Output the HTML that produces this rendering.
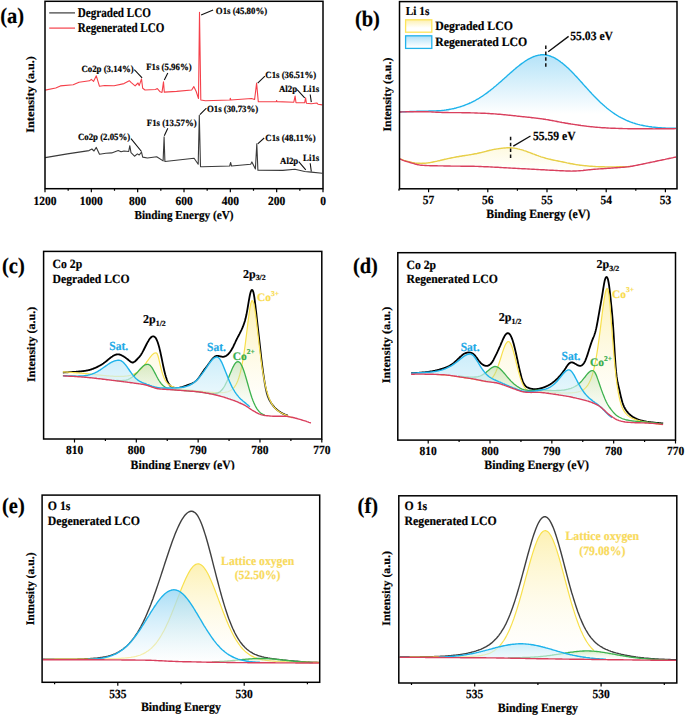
<!DOCTYPE html>
<html><head><meta charset="utf-8"><style>html,body{margin:0;padding:0;background:#fff;width:685px;height:715px;overflow:hidden}svg{display:block} text{text-rendering:geometricPrecision}</style></head>
<body><svg width="685" height="715" viewBox="0 0 685 715"><defs>
<linearGradient id="gb" x1="0" y1="0" x2="0" y2="1"><stop offset="0" stop-color="#bfe9f9" stop-opacity="0.8"/><stop offset="1" stop-color="#e6f7fb" stop-opacity="0.55"/></linearGradient>
<linearGradient id="gb2" x1="0" y1="0" x2="0" y2="1"><stop offset="0" stop-color="#95d6f4" stop-opacity="0.8"/><stop offset="1" stop-color="#ffffff" stop-opacity="0.5"/></linearGradient>
<linearGradient id="gy" x1="0" y1="0" x2="0" y2="1"><stop offset="0" stop-color="#fbe677" stop-opacity="0.55"/><stop offset="1" stop-color="#ffffff" stop-opacity="0.15"/></linearGradient>
<linearGradient id="gg" x1="0" y1="0" x2="0" y2="1"><stop offset="0" stop-color="#a9d48e" stop-opacity="0.5"/><stop offset="1" stop-color="#ffffff" stop-opacity="0.15"/></linearGradient>
<linearGradient id="lgb2" x1="0" y1="0" x2="0" y2="1"><stop offset="0" stop-color="#b5e3f8"/><stop offset="0.8" stop-color="#ffffff"/></linearGradient>
<linearGradient id="lgy2" x1="0" y1="0" x2="0" y2="1"><stop offset="0" stop-color="#fefae0"/><stop offset="1" stop-color="#ffffff"/></linearGradient>
<linearGradient id="lgy" x1="0" y1="0" x2="0" y2="1"><stop offset="0" stop-color="#fdf0b0"/><stop offset="0.65" stop-color="#ffffff"/></linearGradient>
<linearGradient id="lgb" x1="0" y1="0" x2="0" y2="1"><stop offset="0" stop-color="#addff8"/><stop offset="0.9" stop-color="#ffffff"/></linearGradient>
</defs>
<path d="M45.2,157.6 L67.4,153.9 L89.0,150.6 L91.9,149.0 L94.0,151.0 L96.3,147.4 L99.5,154.2 L105.9,153.3 L111.7,152.9 L118.2,150.6 L121.1,151.8 L124.0,151.0 L128.7,151.5 L129.8,145.7 L131.0,152.7 L134.5,156.2 L137.4,153.9 L139.2,155.0 L141.5,152.1 L142.7,157.1 L147.4,158.0 L156.7,156.8 L163.1,160.9 L164.1,136.9 L164.9,161.5 L194.1,158.3 L198.2,164.2 L199.3,115.2 L200.5,166.6 L202.8,166.8 L229.7,166.0 L230.6,162.5 L231.5,166.0 L250.7,164.2 L251.9,161.9 L255.4,168.9 L256.8,143.8 L257.9,170.2 L282.8,170.4 L294.9,169.3 L304.7,171.5 L311.3,172.1 L322.3,173.2" stroke="#3a3a3a" stroke-width="1.1" fill="none" stroke-linejoin="round"/>
<path d="M45.2,90.1 L55.7,88.0 L60.4,85.9 L73.2,84.8 L79.0,82.2 L89.5,80.8 L91.3,79.3 L93.6,81.3 L96.3,75.8 L99.5,86.3 L104.7,85.5 L114.1,85.7 L124.0,83.6 L129.3,80.7 L131.0,82.4 L135.1,85.9 L138.0,83.0 L139.2,85.6 L141.5,78.9 L142.7,88.3 L145.0,90.0 L155.5,89.5 L157.3,88.6 L160.2,91.8 L162.0,92.4 L163.5,81.9 L164.3,92.1 L176.6,91.4 L191.7,90.0 L193.8,86.6 L196.2,91.5 L198.5,98.5 L199.5,12.3 L200.8,100.0 L205.4,100.8 L230.0,100.0 L230.3,98.2 L230.8,100.0 L251.5,98.5 L254.6,99.5 L256.6,83.1 L258.3,101.8 L276.3,101.6 L276.6,100.5 L277.0,101.6 L293.8,102.2 L295.1,96.1 L296.0,102.7 L304.7,102.7 L305.6,97.8 L306.4,103.2 L311.3,103.8 L316.8,103.0 L318.0,104.2 L322.3,104.9" stroke="#f5404a" stroke-width="1.1" fill="none" stroke-linejoin="round"/>
<path d="M49.2,12.9H75" stroke="#3a3a3a" stroke-width="1.2"/>
<path d="M49.2,28.1H75" stroke="#f5404a" stroke-width="1.2"/>
<text transform="translate(77.80,16.70) scale(0.8333,1)" x="0" y="0" font-family="Liberation Serif" font-weight="bold" font-size="13.32" text-anchor="start" fill="#000" stroke="#000" stroke-width="0.2" >Degraded LCO</text>
<text transform="translate(77.80,31.90) scale(0.8333,1)" x="0" y="0" font-family="Liberation Serif" font-weight="bold" font-size="13.32" text-anchor="start" fill="#000" stroke="#000" stroke-width="0.2" >Regenerated LCO</text>
<path d="M134.3,69.6L142.1,77.8M167.8,73.1L164.3,80.1M201.1,15.1L213.1,10M257.7,83.1L264.9,76.2M297.1,89.6L304.7,97.8M310.2,94.5L311.3,102.2M131,138.7L141.5,151.5M167.8,128.2L164.3,135.8M199.9,114.6L206.4,108.2M257.7,143.8L264.2,138M298.7,161.7L305.8,169.9M310.2,163.3L311.3,171.5" stroke="#111" stroke-width="1.1" fill="none"/>
<text transform="translate(81.40,71.70) scale(0.9259,1)" x="0" y="0" font-family="Liberation Serif" font-weight="bold" font-size="9.50" text-anchor="start" fill="#000" stroke="#000" stroke-width="0.2" >Co2p (3.14%)</text>
<text transform="translate(146.20,70.40) scale(0.9259,1)" x="0" y="0" font-family="Liberation Serif" font-weight="bold" font-size="9.50" text-anchor="start" fill="#000" stroke="#000" stroke-width="0.2" >F1s (5.96%)</text>
<text transform="translate(215.80,13.50) scale(0.9259,1)" x="0" y="0" font-family="Liberation Serif" font-weight="bold" font-size="9.50" text-anchor="start" fill="#000" stroke="#000" stroke-width="0.2" >O1s (45.80%)</text>
<text transform="translate(265.30,77.70) scale(0.9259,1)" x="0" y="0" font-family="Liberation Serif" font-weight="bold" font-size="9.50" text-anchor="start" fill="#000" stroke="#000" stroke-width="0.2" >C1s (36.51%)</text>
<text transform="translate(279.00,92.30) scale(0.9259,1)" x="0" y="0" font-family="Liberation Serif" font-weight="bold" font-size="9.50" text-anchor="start" fill="#000" stroke="#000" stroke-width="0.2" >Al2p</text>
<text transform="translate(303.10,92.30) scale(0.9259,1)" x="0" y="0" font-family="Liberation Serif" font-weight="bold" font-size="9.50" text-anchor="start" fill="#000" stroke="#000" stroke-width="0.2" >Li1s</text>
<text transform="translate(77.90,140.40) scale(0.9259,1)" x="0" y="0" font-family="Liberation Serif" font-weight="bold" font-size="9.50" text-anchor="start" fill="#000" stroke="#000" stroke-width="0.2" >Co2p (2.05%)</text>
<text transform="translate(146.80,125.60) scale(0.9259,1)" x="0" y="0" font-family="Liberation Serif" font-weight="bold" font-size="9.50" text-anchor="start" fill="#000" stroke="#000" stroke-width="0.2" >F1s (13.57%)</text>
<text transform="translate(206.90,111.70) scale(0.9259,1)" x="0" y="0" font-family="Liberation Serif" font-weight="bold" font-size="9.50" text-anchor="start" fill="#000" stroke="#000" stroke-width="0.2" >O1s (30.73%)</text>
<text transform="translate(265.30,141.40) scale(0.9259,1)" x="0" y="0" font-family="Liberation Serif" font-weight="bold" font-size="9.50" text-anchor="start" fill="#000" stroke="#000" stroke-width="0.2" >C1s (48.11%)</text>
<text transform="translate(280.10,163.90) scale(0.9259,1)" x="0" y="0" font-family="Liberation Serif" font-weight="bold" font-size="9.50" text-anchor="start" fill="#000" stroke="#000" stroke-width="0.2" >Al2p</text>
<text transform="translate(303.10,160.60) scale(0.9259,1)" x="0" y="0" font-family="Liberation Serif" font-weight="bold" font-size="9.50" text-anchor="start" fill="#000" stroke="#000" stroke-width="0.2" >Li1s</text>
<rect x="45.00" y="1.30" width="278.00" height="187.40" fill="none" stroke="#000" stroke-width="1.5"/>
<path d="M323.00,188.70v3.5M276.67,188.70v3.5M230.33,188.70v3.5M184.00,188.70v3.5M137.67,188.70v3.5M91.33,188.70v3.5M45.00,188.70v3.5" stroke="#000" stroke-width="1.2" fill="none"/>
<path d="M299.83,188.70v2M253.50,188.70v2M207.17,188.70v2M160.83,188.70v2M114.50,188.70v2M68.17,188.70v2" stroke="#000" stroke-width="1.2" fill="none"/>
<text transform="translate(323.00,205.20) scale(0.9259,1)" x="0" y="0" font-family="Liberation Serif" font-weight="bold" font-size="12.42" text-anchor="middle" fill="#000" stroke="#000" stroke-width="0.2" >0</text>
<text transform="translate(276.67,205.20) scale(0.9259,1)" x="0" y="0" font-family="Liberation Serif" font-weight="bold" font-size="12.42" text-anchor="middle" fill="#000" stroke="#000" stroke-width="0.2" >200</text>
<text transform="translate(230.33,205.20) scale(0.9259,1)" x="0" y="0" font-family="Liberation Serif" font-weight="bold" font-size="12.42" text-anchor="middle" fill="#000" stroke="#000" stroke-width="0.2" >400</text>
<text transform="translate(184.00,205.20) scale(0.9259,1)" x="0" y="0" font-family="Liberation Serif" font-weight="bold" font-size="12.42" text-anchor="middle" fill="#000" stroke="#000" stroke-width="0.2" >600</text>
<text transform="translate(137.67,205.20) scale(0.9259,1)" x="0" y="0" font-family="Liberation Serif" font-weight="bold" font-size="12.42" text-anchor="middle" fill="#000" stroke="#000" stroke-width="0.2" >800</text>
<text transform="translate(91.33,205.20) scale(0.9259,1)" x="0" y="0" font-family="Liberation Serif" font-weight="bold" font-size="12.42" text-anchor="middle" fill="#000" stroke="#000" stroke-width="0.2" >1000</text>
<text transform="translate(45.00,205.20) scale(0.9259,1)" x="0" y="0" font-family="Liberation Serif" font-weight="bold" font-size="12.42" text-anchor="middle" fill="#000" stroke="#000" stroke-width="0.2" >1200</text>
<text transform="translate(184.00,218.80) scale(0.9259,1)" x="0" y="0" font-family="Liberation Serif" font-weight="bold" font-size="12.10" text-anchor="middle" fill="#000" stroke="#000" stroke-width="0.2" >Binding Energy (eV)</text>
<text transform="translate(33.60,94.40) rotate(-90) scale(1.0670,1)" x="0" y="0" font-family="Liberation Serif" font-weight="bold" font-size="11.50" text-anchor="middle" stroke="#000" stroke-width="0.2">Intensity (a.u.)</text>
<text transform="translate(0.30,22.80) scale(0.9259,1)" x="0" y="0" font-family="Liberation Serif" font-weight="bold" font-size="22.14" text-anchor="start" fill="#000" stroke="#000" stroke-width="0.2" >(a)</text>
<path d="M400.0,158.9 L401.0,159.2 L402.0,159.6 L403.0,159.9 L404.0,160.3 L405.0,160.6 L406.0,160.9 L407.0,161.2 L408.0,161.5 L409.0,161.8 L410.0,162.0 L411.0,162.2 L412.0,162.5 L413.0,162.6 L414.0,162.8 L415.0,163.0 L416.0,163.1 L417.0,163.2 L418.0,163.3 L419.0,163.3 L420.0,163.3 L421.0,163.4 L422.0,163.3 L423.0,163.3 L424.0,163.3 L425.0,163.2 L426.0,163.1 L427.0,163.0 L428.0,162.9 L429.0,162.7 L430.0,162.6 L431.0,162.4 L432.0,162.2 L433.0,162.0 L434.0,161.8 L435.0,161.6 L436.0,161.4 L437.0,161.2 L438.0,160.9 L439.0,160.7 L440.0,160.5 L441.0,160.2 L442.0,160.0 L443.0,159.8 L444.0,159.5 L445.0,159.3 L446.0,159.1 L447.0,158.8 L448.0,158.6 L449.0,158.4 L450.0,158.2 L451.0,158.0 L452.0,157.8 L453.0,157.6 L454.0,157.4 L455.0,157.2 L456.0,157.0 L457.0,156.8 L458.0,156.7 L459.0,156.5 L460.0,156.3 L461.0,156.2 L462.0,156.0 L463.0,155.8 L464.0,155.7 L465.0,155.5 L466.0,155.4 L467.0,155.2 L468.0,155.1 L469.0,154.9 L470.0,154.7 L471.0,154.6 L472.0,154.4 L473.0,154.2 L474.0,154.0 L475.0,153.8 L476.0,153.7 L477.0,153.5 L478.0,153.2 L479.0,153.0 L480.0,152.8 L481.0,152.6 L482.0,152.3 L483.0,152.1 L484.0,151.8 L485.0,151.6 L486.0,151.3 L487.0,151.0 L488.0,150.8 L489.0,150.5 L490.0,150.3 L491.0,150.1 L492.0,149.8 L493.0,149.6 L494.0,149.4 L495.0,149.2 L496.0,149.1 L497.0,148.9 L498.0,148.8 L499.0,148.6 L500.0,148.5 L501.0,148.4 L502.0,148.2 L503.0,148.1 L504.0,148.0 L505.0,148.0 L506.0,147.9 L507.0,147.8 L508.0,147.8 L509.0,147.8 L510.0,147.8 L511.0,147.8 L512.0,147.9 L513.0,148.0 L514.0,148.1 L515.0,148.3 L516.0,148.4 L517.0,148.6 L518.0,148.9 L519.0,149.1 L520.0,149.4 L521.0,149.6 L522.0,149.9 L523.0,150.2 L524.0,150.6 L525.0,150.9 L526.0,151.2 L527.0,151.6 L528.0,152.0 L529.0,152.3 L530.0,152.7 L531.0,153.1 L532.0,153.5 L533.0,153.9 L534.0,154.2 L535.0,154.6 L536.0,155.0 L537.0,155.4 L538.0,155.7 L539.0,156.1 L540.0,156.4 L541.0,156.8 L542.0,157.1 L543.0,157.4 L544.0,157.7 L545.0,158.0 L546.0,158.3 L547.0,158.6 L548.0,158.8 L549.0,159.1 L550.0,159.3 L551.0,159.5 L552.0,159.8 L553.0,160.0 L554.0,160.2 L555.0,160.4 L556.0,160.6 L557.0,160.8 L558.0,161.0 L559.0,161.2 L560.0,161.4 L561.0,161.6 L562.0,161.8 L563.0,162.0 L564.0,162.2 L565.0,162.4 L566.0,162.6 L567.0,162.9 L568.0,163.1 L569.0,163.3 L570.0,163.5 L571.0,163.7 L572.0,163.8 L573.0,164.0 L574.0,164.2 L575.0,164.4 L576.0,164.6 L577.0,164.7 L578.0,164.9 L579.0,165.0 L580.0,165.2 L581.0,165.3 L582.0,165.4 L583.0,165.5 L584.0,165.6 L585.0,165.7 L586.0,165.8 L587.0,165.9 L588.0,166.0 L589.0,166.1 L590.0,166.2 L591.0,166.3 L592.0,166.3 L593.0,166.4 L594.0,166.4 L595.0,166.5 L596.0,166.6 L597.0,166.6 L598.0,166.6 L599.0,166.7 L600.0,166.7 L601.0,166.8 L602.0,166.8 L603.0,166.8 L604.0,166.8 L605.0,166.9 L606.0,166.9 L607.0,166.9 L608.0,166.9 L609.0,166.9 L610.0,166.9 L611.0,166.9 L612.0,166.9 L613.0,166.9 L614.0,166.9 L615.0,166.9 L616.0,166.9 L617.0,166.8 L618.0,166.8 L619.0,166.8 L620.0,166.8 L621.0,166.8 L622.0,166.7 L623.0,166.7 L624.0,166.7 L625.0,166.7 L626.0,166.6 L627.0,166.6 L628.0,166.6 L629.0,166.5 L630.0,166.5 L630.0,166.5 L629.0,166.6 L628.0,166.8 L627.0,166.9 L626.0,167.0 L625.0,167.1 L624.0,167.2 L623.0,167.3 L622.0,167.4 L621.0,167.4 L620.0,167.5 L619.0,167.6 L618.0,167.6 L617.0,167.7 L616.0,167.8 L615.0,167.8 L614.0,167.9 L613.0,168.0 L612.0,168.0 L611.0,168.1 L610.0,168.2 L609.0,168.3 L608.0,168.3 L607.0,168.4 L606.0,168.5 L605.0,168.5 L604.0,168.6 L603.0,168.7 L602.0,168.7 L601.0,168.8 L600.0,168.9 L599.0,168.9 L598.0,169.0 L597.0,169.1 L596.0,169.1 L595.0,169.2 L594.0,169.3 L593.0,169.4 L592.0,169.5 L591.0,169.6 L590.0,169.7 L589.0,169.8 L588.0,169.9 L587.0,170.0 L586.0,170.1 L585.0,170.2 L584.0,170.3 L583.0,170.5 L582.0,170.6 L581.0,170.6 L580.0,170.7 L579.0,170.8 L578.0,170.9 L577.0,170.9 L576.0,171.0 L575.0,171.0 L574.0,171.0 L573.0,171.0 L572.0,171.1 L571.0,171.1 L570.0,171.0 L569.0,171.0 L568.0,171.0 L567.0,171.0 L566.0,171.0 L565.0,170.9 L564.0,170.9 L563.0,170.8 L562.0,170.8 L561.0,170.8 L560.0,170.7 L559.0,170.6 L558.0,170.6 L557.0,170.5 L556.0,170.5 L555.0,170.4 L554.0,170.4 L553.0,170.3 L552.0,170.3 L551.0,170.2 L550.0,170.2 L549.0,170.1 L548.0,170.1 L547.0,170.0 L546.0,170.0 L545.0,169.9 L544.0,169.8 L543.0,169.8 L542.0,169.7 L541.0,169.7 L540.0,169.6 L539.0,169.6 L538.0,169.5 L537.0,169.5 L536.0,169.4 L535.0,169.4 L534.0,169.3 L533.0,169.3 L532.0,169.2 L531.0,169.1 L530.0,169.1 L529.0,169.0 L528.0,169.0 L527.0,168.9 L526.0,168.9 L525.0,168.8 L524.0,168.8 L523.0,168.7 L522.0,168.7 L521.0,168.6 L520.0,168.6 L519.0,168.5 L518.0,168.5 L517.0,168.4 L516.0,168.4 L515.0,168.3 L514.0,168.2 L513.0,168.2 L512.0,168.1 L511.0,168.1 L510.0,168.0 L509.0,168.0 L508.0,167.9 L507.0,167.9 L506.0,167.8 L505.0,167.7 L504.0,167.7 L503.0,167.6 L502.0,167.6 L501.0,167.5 L500.0,167.5 L499.0,167.4 L498.0,167.3 L497.0,167.3 L496.0,167.2 L495.0,167.2 L494.0,167.1 L493.0,167.1 L492.0,167.0 L491.0,167.0 L490.0,166.9 L489.0,166.9 L488.0,166.8 L487.0,166.8 L486.0,166.7 L485.0,166.7 L484.0,166.7 L483.0,166.6 L482.0,166.6 L481.0,166.5 L480.0,166.5 L479.0,166.5 L478.0,166.4 L477.0,166.4 L476.0,166.4 L475.0,166.4 L474.0,166.3 L473.0,166.3 L472.0,166.3 L471.0,166.3 L470.0,166.3 L469.0,166.2 L468.0,166.2 L467.0,166.2 L466.0,166.2 L465.0,166.2 L464.0,166.2 L463.0,166.2 L462.0,166.2 L461.0,166.2 L460.0,166.1 L459.0,166.1 L458.0,166.1 L457.0,166.1 L456.0,166.1 L455.0,166.1 L454.0,166.1 L453.0,166.1 L452.0,166.1 L451.0,166.1 L450.0,166.0 L449.0,166.0 L448.0,166.0 L447.0,166.0 L446.0,166.0 L445.0,166.0 L444.0,166.0 L443.0,165.9 L442.0,165.9 L441.0,165.9 L440.0,165.9 L439.0,165.9 L438.0,165.9 L437.0,165.8 L436.0,165.8 L435.0,165.8 L434.0,165.8 L433.0,165.8 L432.0,165.7 L431.0,165.7 L430.0,165.7 L429.0,165.6 L428.0,165.6 L427.0,165.6 L426.0,165.5 L425.0,165.5 L424.0,165.4 L423.0,165.4 L422.0,165.3 L421.0,165.2 L420.0,165.1 L419.0,164.9 L418.0,164.7 L417.0,164.5 L416.0,164.2 L415.0,164.0 L414.0,163.7 L413.0,163.4 L412.0,163.1 L411.0,162.8 L410.0,162.5 L409.0,162.2 L408.0,161.9 L407.0,161.6 L406.0,161.3 L405.0,161.0 L404.0,160.7 L403.0,160.3 L402.0,159.8 L401.0,159.4 L400.0,158.9Z" fill="url(#lgy2)" fill-opacity="1.0" stroke="none"/>
<path d="M400.0,111.9 L401.0,111.8 L402.0,111.8 L403.0,111.8 L404.0,111.7 L405.0,111.7 L406.0,111.7 L407.0,111.6 L408.0,111.6 L409.0,111.6 L410.0,111.5 L411.0,111.5 L412.0,111.5 L413.0,111.5 L414.0,111.4 L415.0,111.4 L416.0,111.4 L417.0,111.3 L418.0,111.3 L419.0,111.3 L420.0,111.3 L421.0,111.2 L422.0,111.2 L423.0,111.2 L424.0,111.2 L425.0,111.1 L426.0,111.1 L427.0,111.1 L428.0,111.1 L429.0,111.0 L430.0,111.0 L431.0,111.0 L432.0,110.9 L433.0,110.9 L434.0,110.9 L435.0,110.9 L436.0,110.9 L437.0,110.8 L438.0,110.8 L439.0,110.7 L440.0,110.7 L441.0,110.6 L442.0,110.5 L443.0,110.4 L444.0,110.3 L445.0,110.1 L446.0,110.0 L447.0,109.8 L448.0,109.7 L449.0,109.5 L450.0,109.3 L451.0,109.1 L452.0,108.9 L453.0,108.7 L454.0,108.5 L455.0,108.2 L456.0,108.0 L457.0,107.7 L458.0,107.4 L459.0,107.1 L460.0,106.8 L461.0,106.5 L462.0,106.2 L463.0,105.8 L464.0,105.5 L465.0,105.1 L466.0,104.7 L467.0,104.3 L468.0,103.9 L469.0,103.5 L470.0,103.0 L471.0,102.6 L472.0,102.1 L473.0,101.6 L474.0,101.1 L475.0,100.6 L476.0,100.0 L477.0,99.4 L478.0,98.9 L479.0,98.3 L480.0,97.6 L481.0,97.0 L482.0,96.4 L483.0,95.7 L484.0,95.0 L485.0,94.3 L486.0,93.6 L487.0,92.9 L488.0,92.1 L489.0,91.3 L490.0,90.6 L491.0,89.8 L492.0,89.0 L493.0,88.2 L494.0,87.3 L495.0,86.5 L496.0,85.7 L497.0,84.8 L498.0,84.0 L499.0,83.1 L500.0,82.2 L501.0,81.4 L502.0,80.5 L503.0,79.6 L504.0,78.7 L505.0,77.8 L506.0,76.9 L507.0,76.0 L508.0,75.1 L509.0,74.2 L510.0,73.3 L511.0,72.4 L512.0,71.6 L513.0,70.7 L514.0,69.8 L515.0,69.0 L516.0,68.1 L517.0,67.3 L518.0,66.5 L519.0,65.7 L520.0,64.9 L521.0,64.1 L522.0,63.4 L523.0,62.7 L524.0,62.0 L525.0,61.3 L526.0,60.6 L527.0,60.0 L528.0,59.4 L529.0,58.8 L530.0,58.3 L531.0,57.8 L532.0,57.3 L533.0,56.9 L534.0,56.5 L535.0,56.2 L536.0,55.8 L537.0,55.6 L538.0,55.3 L539.0,55.1 L540.0,55.0 L541.0,54.8 L542.0,54.8 L543.0,54.8 L544.0,54.8 L545.0,54.9 L546.0,55.0 L547.0,55.2 L548.0,55.4 L549.0,55.7 L550.0,56.0 L551.0,56.4 L552.0,56.8 L553.0,57.2 L554.0,57.7 L555.0,58.2 L556.0,58.8 L557.0,59.4 L558.0,60.0 L559.0,60.7 L560.0,61.4 L561.0,62.2 L562.0,62.9 L563.0,63.7 L564.0,64.6 L565.0,65.4 L566.0,66.3 L567.0,67.2 L568.0,68.1 L569.0,69.1 L570.0,70.1 L571.0,71.0 L572.0,72.0 L573.0,73.1 L574.0,74.1 L575.0,75.2 L576.0,76.2 L577.0,77.3 L578.0,78.4 L579.0,79.5 L580.0,80.6 L581.0,81.7 L582.0,82.8 L583.0,84.0 L584.0,85.1 L585.0,86.2 L586.0,87.3 L587.0,88.4 L588.0,89.5 L589.0,90.6 L590.0,91.7 L591.0,92.8 L592.0,93.9 L593.0,94.9 L594.0,96.0 L595.0,97.0 L596.0,98.0 L597.0,99.0 L598.0,100.0 L599.0,101.0 L600.0,102.0 L601.0,102.9 L602.0,103.8 L603.0,104.7 L604.0,105.6 L605.0,106.5 L606.0,107.3 L607.0,108.2 L608.0,109.0 L609.0,109.8 L610.0,110.5 L611.0,111.3 L612.0,112.0 L613.0,112.7 L614.0,113.4 L615.0,114.1 L616.0,114.7 L617.0,115.4 L618.0,116.0 L619.0,116.6 L620.0,117.1 L621.0,117.7 L622.0,118.2 L623.0,118.7 L624.0,119.2 L625.0,119.7 L626.0,120.2 L627.0,120.6 L628.0,121.0 L629.0,121.4 L630.0,121.8 L631.0,122.2 L632.0,122.5 L633.0,122.9 L634.0,123.2 L635.0,123.5 L636.0,123.8 L637.0,124.1 L638.0,124.4 L639.0,124.6 L640.0,124.9 L641.0,125.1 L642.0,125.3 L643.0,125.5 L644.0,125.7 L645.0,125.9 L646.0,126.1 L647.0,126.2 L648.0,126.4 L649.0,126.6 L650.0,126.7 L651.0,126.8 L652.0,127.0 L653.0,127.1 L654.0,127.2 L655.0,127.3 L656.0,127.4 L657.0,127.5 L658.0,127.6 L659.0,127.7 L660.0,127.7 L661.0,127.8 L662.0,127.9 L663.0,127.9 L664.0,128.0 L665.0,128.0 L666.0,128.1 L667.0,128.1 L668.0,128.1 L669.0,128.2 L670.0,128.2 L671.0,128.2 L672.0,128.2 L673.0,128.2 L674.0,128.2 L675.0,128.2 L676.0,128.3 L676.0,128.6 L675.0,128.6 L674.0,128.7 L673.0,128.7 L672.0,128.7 L671.0,128.7 L670.0,128.7 L669.0,128.8 L668.0,128.8 L667.0,128.8 L666.0,128.8 L665.0,128.8 L664.0,128.8 L663.0,128.8 L662.0,128.8 L661.0,128.8 L660.0,128.8 L659.0,128.8 L658.0,128.8 L657.0,128.8 L656.0,128.8 L655.0,128.9 L654.0,128.9 L653.0,128.9 L652.0,128.8 L651.0,128.8 L650.0,128.8 L649.0,128.8 L648.0,128.8 L647.0,128.8 L646.0,128.8 L645.0,128.8 L644.0,128.8 L643.0,128.8 L642.0,128.8 L641.0,128.8 L640.0,128.8 L639.0,128.8 L638.0,128.8 L637.0,128.8 L636.0,128.8 L635.0,128.8 L634.0,128.7 L633.0,128.7 L632.0,128.7 L631.0,128.7 L630.0,128.7 L629.0,128.7 L628.0,128.7 L627.0,128.6 L626.0,128.6 L625.0,128.6 L624.0,128.6 L623.0,128.6 L622.0,128.5 L621.0,128.5 L620.0,128.5 L619.0,128.5 L618.0,128.4 L617.0,128.4 L616.0,128.4 L615.0,128.3 L614.0,128.3 L613.0,128.2 L612.0,128.2 L611.0,128.2 L610.0,128.1 L609.0,128.1 L608.0,128.0 L607.0,128.0 L606.0,127.9 L605.0,127.8 L604.0,127.8 L603.0,127.7 L602.0,127.7 L601.0,127.6 L600.0,127.5 L599.0,127.4 L598.0,127.4 L597.0,127.3 L596.0,127.2 L595.0,127.1 L594.0,127.0 L593.0,126.9 L592.0,126.8 L591.0,126.7 L590.0,126.6 L589.0,126.5 L588.0,126.4 L587.0,126.3 L586.0,126.1 L585.0,126.0 L584.0,125.9 L583.0,125.7 L582.0,125.6 L581.0,125.5 L580.0,125.3 L579.0,125.2 L578.0,125.0 L577.0,124.9 L576.0,124.7 L575.0,124.6 L574.0,124.4 L573.0,124.3 L572.0,124.1 L571.0,124.0 L570.0,123.8 L569.0,123.7 L568.0,123.5 L567.0,123.3 L566.0,123.2 L565.0,123.0 L564.0,122.8 L563.0,122.6 L562.0,122.5 L561.0,122.3 L560.0,122.1 L559.0,121.9 L558.0,121.7 L557.0,121.5 L556.0,121.3 L555.0,121.1 L554.0,120.9 L553.0,120.7 L552.0,120.5 L551.0,120.4 L550.0,120.2 L549.0,120.0 L548.0,119.8 L547.0,119.6 L546.0,119.5 L545.0,119.3 L544.0,119.2 L543.0,119.0 L542.0,118.9 L541.0,118.7 L540.0,118.6 L539.0,118.5 L538.0,118.4 L537.0,118.2 L536.0,118.1 L535.0,118.0 L534.0,117.9 L533.0,117.8 L532.0,117.7 L531.0,117.5 L530.0,117.4 L529.0,117.3 L528.0,117.2 L527.0,117.1 L526.0,117.0 L525.0,116.9 L524.0,116.8 L523.0,116.7 L522.0,116.6 L521.0,116.5 L520.0,116.4 L519.0,116.3 L518.0,116.2 L517.0,116.1 L516.0,115.9 L515.0,115.8 L514.0,115.7 L513.0,115.6 L512.0,115.5 L511.0,115.4 L510.0,115.3 L509.0,115.2 L508.0,115.1 L507.0,115.0 L506.0,114.9 L505.0,114.8 L504.0,114.7 L503.0,114.6 L502.0,114.5 L501.0,114.4 L500.0,114.3 L499.0,114.3 L498.0,114.2 L497.0,114.1 L496.0,114.0 L495.0,113.9 L494.0,113.9 L493.0,113.8 L492.0,113.7 L491.0,113.7 L490.0,113.6 L489.0,113.5 L488.0,113.5 L487.0,113.4 L486.0,113.4 L485.0,113.3 L484.0,113.3 L483.0,113.3 L482.0,113.2 L481.0,113.2 L480.0,113.1 L479.0,113.1 L478.0,113.1 L477.0,113.0 L476.0,113.0 L475.0,113.0 L474.0,112.9 L473.0,112.9 L472.0,112.9 L471.0,112.9 L470.0,112.8 L469.0,112.8 L468.0,112.8 L467.0,112.7 L466.0,112.7 L465.0,112.7 L464.0,112.7 L463.0,112.7 L462.0,112.7 L461.0,112.6 L460.0,112.6 L459.0,112.6 L458.0,112.6 L457.0,112.6 L456.0,112.6 L455.0,112.6 L454.0,112.6 L453.0,112.6 L452.0,112.6 L451.0,112.6 L450.0,112.6 L449.0,112.6 L448.0,112.5 L447.0,112.5 L446.0,112.5 L445.0,112.5 L444.0,112.5 L443.0,112.5 L442.0,112.5 L441.0,112.4 L440.0,112.4 L439.0,112.4 L438.0,112.3 L437.0,112.3 L436.0,112.2 L435.0,112.1 L434.0,112.1 L433.0,112.0 L432.0,112.0 L431.0,111.9 L430.0,111.9 L429.0,111.9 L428.0,111.8 L427.0,111.8 L426.0,111.8 L425.0,111.8 L424.0,111.8 L423.0,111.7 L422.0,111.7 L421.0,111.7 L420.0,111.7 L419.0,111.7 L418.0,111.7 L417.0,111.7 L416.0,111.7 L415.0,111.7 L414.0,111.7 L413.0,111.7 L412.0,111.7 L411.0,111.8 L410.0,111.8 L409.0,111.8 L408.0,111.8 L407.0,111.8 L406.0,111.8 L405.0,111.9 L404.0,111.9 L403.0,111.9 L402.0,111.9 L401.0,112.0 L400.0,112.0Z" fill="url(#lgb2)" fill-opacity="1.0" stroke="none"/>
<path d="M400.0,111.9 L401.0,111.8 L402.0,111.8 L403.0,111.8 L404.0,111.7 L405.0,111.7 L406.0,111.7 L407.0,111.6 L408.0,111.6 L409.0,111.6 L410.0,111.5 L411.0,111.5 L412.0,111.5 L413.0,111.5 L414.0,111.4 L415.0,111.4 L416.0,111.4 L417.0,111.3 L418.0,111.3 L419.0,111.3 L420.0,111.3 L421.0,111.2 L422.0,111.2 L423.0,111.2 L424.0,111.2 L425.0,111.1 L426.0,111.1 L427.0,111.1 L428.0,111.1 L429.0,111.0 L430.0,111.0 L431.0,111.0 L432.0,110.9 L433.0,110.9 L434.0,110.9 L435.0,110.9 L436.0,110.9 L437.0,110.8 L438.0,110.8 L439.0,110.7 L440.0,110.7 L441.0,110.6 L442.0,110.5 L443.0,110.4 L444.0,110.3 L445.0,110.1 L446.0,110.0 L447.0,109.8 L448.0,109.7 L449.0,109.5 L450.0,109.3 L451.0,109.1 L452.0,108.9 L453.0,108.7 L454.0,108.5 L455.0,108.2 L456.0,108.0 L457.0,107.7 L458.0,107.4 L459.0,107.1 L460.0,106.8 L461.0,106.5 L462.0,106.2 L463.0,105.8 L464.0,105.5 L465.0,105.1 L466.0,104.7 L467.0,104.3 L468.0,103.9 L469.0,103.5 L470.0,103.0 L471.0,102.6 L472.0,102.1 L473.0,101.6 L474.0,101.1 L475.0,100.6 L476.0,100.0 L477.0,99.4 L478.0,98.9 L479.0,98.3 L480.0,97.6 L481.0,97.0 L482.0,96.4 L483.0,95.7 L484.0,95.0 L485.0,94.3 L486.0,93.6 L487.0,92.9 L488.0,92.1 L489.0,91.3 L490.0,90.6 L491.0,89.8 L492.0,89.0 L493.0,88.2 L494.0,87.3 L495.0,86.5 L496.0,85.7 L497.0,84.8 L498.0,84.0 L499.0,83.1 L500.0,82.2 L501.0,81.4 L502.0,80.5 L503.0,79.6 L504.0,78.7 L505.0,77.8 L506.0,76.9 L507.0,76.0 L508.0,75.1 L509.0,74.2 L510.0,73.3 L511.0,72.4 L512.0,71.6 L513.0,70.7 L514.0,69.8 L515.0,69.0 L516.0,68.1 L517.0,67.3 L518.0,66.5 L519.0,65.7 L520.0,64.9 L521.0,64.1 L522.0,63.4 L523.0,62.7 L524.0,62.0 L525.0,61.3 L526.0,60.6 L527.0,60.0 L528.0,59.4 L529.0,58.8 L530.0,58.3 L531.0,57.8 L532.0,57.3 L533.0,56.9 L534.0,56.5 L535.0,56.2 L536.0,55.8 L537.0,55.6 L538.0,55.3 L539.0,55.1 L540.0,55.0 L541.0,54.8 L542.0,54.8 L543.0,54.8 L544.0,54.8 L545.0,54.9 L546.0,55.0 L547.0,55.2 L548.0,55.4 L549.0,55.7 L550.0,56.0 L551.0,56.4 L552.0,56.8 L553.0,57.2 L554.0,57.7 L555.0,58.2 L556.0,58.8 L557.0,59.4 L558.0,60.0 L559.0,60.7 L560.0,61.4 L561.0,62.2 L562.0,62.9 L563.0,63.7 L564.0,64.6 L565.0,65.4 L566.0,66.3 L567.0,67.2 L568.0,68.1 L569.0,69.1 L570.0,70.1 L571.0,71.0 L572.0,72.0 L573.0,73.1 L574.0,74.1 L575.0,75.2 L576.0,76.2 L577.0,77.3 L578.0,78.4 L579.0,79.5 L580.0,80.6 L581.0,81.7 L582.0,82.8 L583.0,84.0 L584.0,85.1 L585.0,86.2 L586.0,87.3 L587.0,88.4 L588.0,89.5 L589.0,90.6 L590.0,91.7 L591.0,92.8 L592.0,93.9 L593.0,94.9 L594.0,96.0 L595.0,97.0 L596.0,98.0 L597.0,99.0 L598.0,100.0 L599.0,101.0 L600.0,102.0 L601.0,102.9 L602.0,103.8 L603.0,104.7 L604.0,105.6 L605.0,106.5 L606.0,107.3 L607.0,108.2 L608.0,109.0 L609.0,109.8 L610.0,110.5 L611.0,111.3 L612.0,112.0 L613.0,112.7 L614.0,113.4 L615.0,114.1 L616.0,114.7 L617.0,115.4 L618.0,116.0 L619.0,116.6 L620.0,117.1 L621.0,117.7 L622.0,118.2 L623.0,118.7 L624.0,119.2 L625.0,119.7 L626.0,120.2 L627.0,120.6 L628.0,121.0 L629.0,121.4 L630.0,121.8 L631.0,122.2 L632.0,122.5 L633.0,122.9 L634.0,123.2 L635.0,123.5 L636.0,123.8 L637.0,124.1 L638.0,124.4 L639.0,124.6 L640.0,124.9 L641.0,125.1 L642.0,125.3 L643.0,125.5 L644.0,125.7 L645.0,125.9 L646.0,126.1 L647.0,126.2 L648.0,126.4 L649.0,126.6 L650.0,126.7 L651.0,126.8 L652.0,127.0 L653.0,127.1 L654.0,127.2 L655.0,127.3 L656.0,127.4 L657.0,127.5 L658.0,127.6 L659.0,127.7 L660.0,127.7 L661.0,127.8 L662.0,127.9 L663.0,127.9 L664.0,128.0 L665.0,128.0 L666.0,128.1 L667.0,128.1 L668.0,128.1 L669.0,128.2 L670.0,128.2 L671.0,128.2 L672.0,128.2 L673.0,128.2 L674.0,128.2 L675.0,128.2 L676.0,128.3" stroke="#1fb3eb" stroke-width="1.4" fill="none" stroke-linejoin="round"/>
<path d="M400.0,158.9 L401.0,159.2 L402.0,159.6 L403.0,159.9 L404.0,160.3 L405.0,160.6 L406.0,160.9 L407.0,161.2 L408.0,161.5 L409.0,161.8 L410.0,162.0 L411.0,162.2 L412.0,162.5 L413.0,162.6 L414.0,162.8 L415.0,163.0 L416.0,163.1 L417.0,163.2 L418.0,163.3 L419.0,163.3 L420.0,163.3 L421.0,163.4 L422.0,163.3 L423.0,163.3 L424.0,163.3 L425.0,163.2 L426.0,163.1 L427.0,163.0 L428.0,162.9 L429.0,162.7 L430.0,162.6 L431.0,162.4 L432.0,162.2 L433.0,162.0 L434.0,161.8 L435.0,161.6 L436.0,161.4 L437.0,161.2 L438.0,160.9 L439.0,160.7 L440.0,160.5 L441.0,160.2 L442.0,160.0 L443.0,159.8 L444.0,159.5 L445.0,159.3 L446.0,159.1 L447.0,158.8 L448.0,158.6 L449.0,158.4 L450.0,158.2 L451.0,158.0 L452.0,157.8 L453.0,157.6 L454.0,157.4 L455.0,157.2 L456.0,157.0 L457.0,156.8 L458.0,156.7 L459.0,156.5 L460.0,156.3 L461.0,156.2 L462.0,156.0 L463.0,155.8 L464.0,155.7 L465.0,155.5 L466.0,155.4 L467.0,155.2 L468.0,155.1 L469.0,154.9 L470.0,154.7 L471.0,154.6 L472.0,154.4 L473.0,154.2 L474.0,154.0 L475.0,153.8 L476.0,153.7 L477.0,153.5 L478.0,153.2 L479.0,153.0 L480.0,152.8 L481.0,152.6 L482.0,152.3 L483.0,152.1 L484.0,151.8 L485.0,151.6 L486.0,151.3 L487.0,151.0 L488.0,150.8 L489.0,150.5 L490.0,150.3 L491.0,150.1 L492.0,149.8 L493.0,149.6 L494.0,149.4 L495.0,149.2 L496.0,149.1 L497.0,148.9 L498.0,148.8 L499.0,148.6 L500.0,148.5 L501.0,148.4 L502.0,148.2 L503.0,148.1 L504.0,148.0 L505.0,148.0 L506.0,147.9 L507.0,147.8 L508.0,147.8 L509.0,147.8 L510.0,147.8 L511.0,147.8 L512.0,147.9 L513.0,148.0 L514.0,148.1 L515.0,148.3 L516.0,148.4 L517.0,148.6 L518.0,148.9 L519.0,149.1 L520.0,149.4 L521.0,149.6 L522.0,149.9 L523.0,150.2 L524.0,150.6 L525.0,150.9 L526.0,151.2 L527.0,151.6 L528.0,152.0 L529.0,152.3 L530.0,152.7 L531.0,153.1 L532.0,153.5 L533.0,153.9 L534.0,154.2 L535.0,154.6 L536.0,155.0 L537.0,155.4 L538.0,155.7 L539.0,156.1 L540.0,156.4 L541.0,156.8 L542.0,157.1 L543.0,157.4 L544.0,157.7 L545.0,158.0 L546.0,158.3 L547.0,158.6 L548.0,158.8 L549.0,159.1 L550.0,159.3 L551.0,159.5 L552.0,159.8 L553.0,160.0 L554.0,160.2 L555.0,160.4 L556.0,160.6 L557.0,160.8 L558.0,161.0 L559.0,161.2 L560.0,161.4 L561.0,161.6 L562.0,161.8 L563.0,162.0 L564.0,162.2 L565.0,162.4 L566.0,162.6 L567.0,162.9 L568.0,163.1 L569.0,163.3 L570.0,163.5 L571.0,163.7 L572.0,163.8 L573.0,164.0 L574.0,164.2 L575.0,164.4 L576.0,164.6 L577.0,164.7 L578.0,164.9 L579.0,165.0 L580.0,165.2 L581.0,165.3 L582.0,165.4 L583.0,165.5 L584.0,165.6 L585.0,165.7 L586.0,165.8 L587.0,165.9 L588.0,166.0 L589.0,166.1 L590.0,166.2 L591.0,166.3 L592.0,166.3 L593.0,166.4 L594.0,166.4 L595.0,166.5 L596.0,166.6 L597.0,166.6 L598.0,166.6 L599.0,166.7 L600.0,166.7 L601.0,166.8 L602.0,166.8 L603.0,166.8 L604.0,166.8 L605.0,166.9 L606.0,166.9 L607.0,166.9 L608.0,166.9 L609.0,166.9 L610.0,166.9 L611.0,166.9 L612.0,166.9 L613.0,166.9 L614.0,166.9 L615.0,166.9 L616.0,166.9 L617.0,166.8 L618.0,166.8 L619.0,166.8 L620.0,166.8 L621.0,166.8 L622.0,166.7 L623.0,166.7 L624.0,166.7 L625.0,166.7 L626.0,166.6 L627.0,166.6 L628.0,166.6 L629.0,166.5 L630.0,166.5" stroke="#e8cf4a" stroke-width="1.4" fill="none" stroke-linejoin="round"/>
<path d="M400.0,112.0 L401.0,112.0 L402.0,111.9 L403.0,111.9 L404.0,111.9 L405.0,111.9 L406.0,111.8 L407.0,111.8 L408.0,111.8 L409.0,111.8 L410.0,111.8 L411.0,111.8 L412.0,111.7 L413.0,111.7 L414.0,111.7 L415.0,111.7 L416.0,111.7 L417.0,111.7 L418.0,111.7 L419.0,111.7 L420.0,111.7 L421.0,111.7 L422.0,111.7 L423.0,111.7 L424.0,111.8 L425.0,111.8 L426.0,111.8 L427.0,111.8 L428.0,111.8 L429.0,111.9 L430.0,111.9 L431.0,111.9 L432.0,112.0 L433.0,112.0 L434.0,112.1 L435.0,112.1 L436.0,112.2 L437.0,112.3 L438.0,112.3 L439.0,112.4 L440.0,112.4 L441.0,112.4 L442.0,112.5 L443.0,112.5 L444.0,112.5 L445.0,112.5 L446.0,112.5 L447.0,112.5 L448.0,112.5 L449.0,112.6 L450.0,112.6 L451.0,112.6 L452.0,112.6 L453.0,112.6 L454.0,112.6 L455.0,112.6 L456.0,112.6 L457.0,112.6 L458.0,112.6 L459.0,112.6 L460.0,112.6 L461.0,112.6 L462.0,112.7 L463.0,112.7 L464.0,112.7 L465.0,112.7 L466.0,112.7 L467.0,112.7 L468.0,112.8 L469.0,112.8 L470.0,112.8 L471.0,112.9 L472.0,112.9 L473.0,112.9 L474.0,112.9 L475.0,113.0 L476.0,113.0 L477.0,113.0 L478.0,113.1 L479.0,113.1 L480.0,113.1 L481.0,113.2 L482.0,113.2 L483.0,113.3 L484.0,113.3 L485.0,113.3 L486.0,113.4 L487.0,113.4 L488.0,113.5 L489.0,113.5 L490.0,113.6 L491.0,113.7 L492.0,113.7 L493.0,113.8 L494.0,113.9 L495.0,113.9 L496.0,114.0 L497.0,114.1 L498.0,114.2 L499.0,114.3 L500.0,114.3 L501.0,114.4 L502.0,114.5 L503.0,114.6 L504.0,114.7 L505.0,114.8 L506.0,114.9 L507.0,115.0 L508.0,115.1 L509.0,115.2 L510.0,115.3 L511.0,115.4 L512.0,115.5 L513.0,115.6 L514.0,115.7 L515.0,115.8 L516.0,115.9 L517.0,116.1 L518.0,116.2 L519.0,116.3 L520.0,116.4 L521.0,116.5 L522.0,116.6 L523.0,116.7 L524.0,116.8 L525.0,116.9 L526.0,117.0 L527.0,117.1 L528.0,117.2 L529.0,117.3 L530.0,117.4 L531.0,117.5 L532.0,117.7 L533.0,117.8 L534.0,117.9 L535.0,118.0 L536.0,118.1 L537.0,118.2 L538.0,118.4 L539.0,118.5 L540.0,118.6 L541.0,118.7 L542.0,118.9 L543.0,119.0 L544.0,119.2 L545.0,119.3 L546.0,119.5 L547.0,119.6 L548.0,119.8 L549.0,120.0 L550.0,120.2 L551.0,120.4 L552.0,120.5 L553.0,120.7 L554.0,120.9 L555.0,121.1 L556.0,121.3 L557.0,121.5 L558.0,121.7 L559.0,121.9 L560.0,122.1 L561.0,122.3 L562.0,122.5 L563.0,122.6 L564.0,122.8 L565.0,123.0 L566.0,123.2 L567.0,123.3 L568.0,123.5 L569.0,123.7 L570.0,123.8 L571.0,124.0 L572.0,124.1 L573.0,124.3 L574.0,124.4 L575.0,124.6 L576.0,124.7 L577.0,124.9 L578.0,125.0 L579.0,125.2 L580.0,125.3 L581.0,125.5 L582.0,125.6 L583.0,125.7 L584.0,125.9 L585.0,126.0 L586.0,126.1 L587.0,126.3 L588.0,126.4 L589.0,126.5 L590.0,126.6 L591.0,126.7 L592.0,126.8 L593.0,126.9 L594.0,127.0 L595.0,127.1 L596.0,127.2 L597.0,127.3 L598.0,127.4 L599.0,127.4 L600.0,127.5 L601.0,127.6 L602.0,127.7 L603.0,127.7 L604.0,127.8 L605.0,127.8 L606.0,127.9 L607.0,128.0 L608.0,128.0 L609.0,128.1 L610.0,128.1 L611.0,128.2 L612.0,128.2 L613.0,128.2 L614.0,128.3 L615.0,128.3 L616.0,128.4 L617.0,128.4 L618.0,128.4 L619.0,128.5 L620.0,128.5 L621.0,128.5 L622.0,128.5 L623.0,128.6 L624.0,128.6 L625.0,128.6 L626.0,128.6 L627.0,128.6 L628.0,128.7 L629.0,128.7 L630.0,128.7 L631.0,128.7 L632.0,128.7 L633.0,128.7 L634.0,128.7 L635.0,128.8 L636.0,128.8 L637.0,128.8 L638.0,128.8 L639.0,128.8 L640.0,128.8 L641.0,128.8 L642.0,128.8 L643.0,128.8 L644.0,128.8 L645.0,128.8 L646.0,128.8 L647.0,128.8 L648.0,128.8 L649.0,128.8 L650.0,128.8 L651.0,128.8 L652.0,128.8 L653.0,128.9 L654.0,128.9 L655.0,128.9 L656.0,128.8 L657.0,128.8 L658.0,128.8 L659.0,128.8 L660.0,128.8 L661.0,128.8 L662.0,128.8 L663.0,128.8 L664.0,128.8 L665.0,128.8 L666.0,128.8 L667.0,128.8 L668.0,128.8 L669.0,128.8 L670.0,128.7 L671.0,128.7 L672.0,128.7 L673.0,128.7 L674.0,128.7 L675.0,128.6 L676.0,128.6" stroke="#d9405e" stroke-width="1.4" fill="none" stroke-linejoin="round"/>
<path d="M400.0,158.9 L401.0,159.4 L402.0,159.8 L403.0,160.3 L404.0,160.7 L405.0,161.0 L406.0,161.3 L407.0,161.6 L408.0,161.9 L409.0,162.2 L410.0,162.5 L411.0,162.8 L412.0,163.1 L413.0,163.4 L414.0,163.7 L415.0,164.0 L416.0,164.2 L417.0,164.5 L418.0,164.7 L419.0,164.9 L420.0,165.1 L421.0,165.2 L422.0,165.3 L423.0,165.4 L424.0,165.4 L425.0,165.5 L426.0,165.5 L427.0,165.6 L428.0,165.6 L429.0,165.6 L430.0,165.7 L431.0,165.7 L432.0,165.7 L433.0,165.8 L434.0,165.8 L435.0,165.8 L436.0,165.8 L437.0,165.8 L438.0,165.9 L439.0,165.9 L440.0,165.9 L441.0,165.9 L442.0,165.9 L443.0,165.9 L444.0,166.0 L445.0,166.0 L446.0,166.0 L447.0,166.0 L448.0,166.0 L449.0,166.0 L450.0,166.0 L451.0,166.1 L452.0,166.1 L453.0,166.1 L454.0,166.1 L455.0,166.1 L456.0,166.1 L457.0,166.1 L458.0,166.1 L459.0,166.1 L460.0,166.1 L461.0,166.2 L462.0,166.2 L463.0,166.2 L464.0,166.2 L465.0,166.2 L466.0,166.2 L467.0,166.2 L468.0,166.2 L469.0,166.2 L470.0,166.3 L471.0,166.3 L472.0,166.3 L473.0,166.3 L474.0,166.3 L475.0,166.4 L476.0,166.4 L477.0,166.4 L478.0,166.4 L479.0,166.5 L480.0,166.5 L481.0,166.5 L482.0,166.6 L483.0,166.6 L484.0,166.7 L485.0,166.7 L486.0,166.7 L487.0,166.8 L488.0,166.8 L489.0,166.9 L490.0,166.9 L491.0,167.0 L492.0,167.0 L493.0,167.1 L494.0,167.1 L495.0,167.2 L496.0,167.2 L497.0,167.3 L498.0,167.3 L499.0,167.4 L500.0,167.5 L501.0,167.5 L502.0,167.6 L503.0,167.6 L504.0,167.7 L505.0,167.7 L506.0,167.8 L507.0,167.9 L508.0,167.9 L509.0,168.0 L510.0,168.0 L511.0,168.1 L512.0,168.1 L513.0,168.2 L514.0,168.2 L515.0,168.3 L516.0,168.4 L517.0,168.4 L518.0,168.5 L519.0,168.5 L520.0,168.6 L521.0,168.6 L522.0,168.7 L523.0,168.7 L524.0,168.8 L525.0,168.8 L526.0,168.9 L527.0,168.9 L528.0,169.0 L529.0,169.0 L530.0,169.1 L531.0,169.1 L532.0,169.2 L533.0,169.3 L534.0,169.3 L535.0,169.4 L536.0,169.4 L537.0,169.5 L538.0,169.5 L539.0,169.6 L540.0,169.6 L541.0,169.7 L542.0,169.7 L543.0,169.8 L544.0,169.8 L545.0,169.9 L546.0,170.0 L547.0,170.0 L548.0,170.1 L549.0,170.1 L550.0,170.2 L551.0,170.2 L552.0,170.3 L553.0,170.3 L554.0,170.4 L555.0,170.4 L556.0,170.5 L557.0,170.5 L558.0,170.6 L559.0,170.6 L560.0,170.7 L561.0,170.8 L562.0,170.8 L563.0,170.8 L564.0,170.9 L565.0,170.9 L566.0,171.0 L567.0,171.0 L568.0,171.0 L569.0,171.0 L570.0,171.0 L571.0,171.1 L572.0,171.1 L573.0,171.0 L574.0,171.0 L575.0,171.0 L576.0,171.0 L577.0,170.9 L578.0,170.9 L579.0,170.8 L580.0,170.7 L581.0,170.6 L582.0,170.6 L583.0,170.5 L584.0,170.3 L585.0,170.2 L586.0,170.1 L587.0,170.0 L588.0,169.9 L589.0,169.8 L590.0,169.7 L591.0,169.6 L592.0,169.5 L593.0,169.4 L594.0,169.3 L595.0,169.2 L596.0,169.1 L597.0,169.1 L598.0,169.0 L599.0,168.9 L600.0,168.9 L601.0,168.8 L602.0,168.7 L603.0,168.7 L604.0,168.6 L605.0,168.5 L606.0,168.5 L607.0,168.4 L608.0,168.3 L609.0,168.3 L610.0,168.2 L611.0,168.1 L612.0,168.0 L613.0,168.0 L614.0,167.9 L615.0,167.8 L616.0,167.8 L617.0,167.7 L618.0,167.6 L619.0,167.6 L620.0,167.5 L621.0,167.4 L622.0,167.4 L623.0,167.3 L624.0,167.2 L625.0,167.1 L626.0,167.0 L627.0,166.9 L628.0,166.8 L629.0,166.6 L630.0,166.5 L631.0,166.3 L632.0,166.2 L633.0,166.0 L634.0,165.8 L635.0,165.6 L636.0,165.4 L637.0,165.2 L638.0,165.0 L639.0,164.8 L640.0,164.6 L641.0,164.4 L642.0,164.2 L643.0,164.0 L644.0,163.8 L645.0,163.6 L646.0,163.3 L647.0,163.1 L648.0,162.9 L649.0,162.7 L650.0,162.5 L651.0,162.3 L652.0,162.1 L653.0,161.9 L654.0,161.7 L655.0,161.5 L656.0,161.2 L657.0,161.0 L658.0,160.8 L659.0,160.6 L660.0,160.4 L661.0,160.2 L662.0,160.0 L663.0,159.8 L664.0,159.6 L665.0,159.4 L666.0,159.1 L667.0,158.9 L668.0,158.7 L669.0,158.5 L670.0,158.3 L671.0,158.1 L672.0,157.9 L673.0,157.7 L674.0,157.4 L675.0,157.2 L676.0,157.0" stroke="#d9405e" stroke-width="1.4" fill="none" stroke-linejoin="round"/>
<path d="M545.8,45.5V67M510.6,136.8V158.4" stroke="#111" stroke-width="1.5" stroke-dasharray="3.5,2.4" fill="none"/>
<path d="M548.2,51.7L568.6,36.4M513.3,146.1L530.5,136" stroke="#111" stroke-width="1.35" fill="none"/>
<text transform="translate(570.20,39.80) scale(0.9259,1)" x="0" y="0" font-family="Liberation Serif" font-weight="bold" font-size="12.64" text-anchor="start" fill="#000" stroke="#000" stroke-width="0.2" >55.03 eV</text>
<text transform="translate(532.90,139.60) scale(0.9259,1)" x="0" y="0" font-family="Liberation Serif" font-weight="bold" font-size="12.64" text-anchor="start" fill="#000" stroke="#000" stroke-width="0.2" >55.59 eV</text>
<text transform="translate(405.80,14.90) scale(0.9259,1)" x="0" y="0" font-family="Liberation Serif" font-weight="bold" font-size="12.20" text-anchor="start" fill="#000" stroke="#000" stroke-width="0.2" >Li 1s</text>
<rect x="405.6" y="19.8" width="26.2" height="12.4" fill="url(#lgy)" stroke="#fde45a" stroke-width="1.3"/>
<rect x="405.6" y="35.8" width="26.2" height="12.6" fill="url(#lgb)" stroke="#22b2ea" stroke-width="1.3"/>
<text transform="translate(435.20,30.20) scale(0.9259,1)" x="0" y="0" font-family="Liberation Serif" font-weight="bold" font-size="12.74" text-anchor="start" fill="#000" stroke="#000" stroke-width="0.2" >Degraded LCO</text>
<text transform="translate(435.20,46.20) scale(0.9259,1)" x="0" y="0" font-family="Liberation Serif" font-weight="bold" font-size="12.74" text-anchor="start" fill="#000" stroke="#000" stroke-width="0.2" >Regenerated LCO</text>
<rect x="399.50" y="1.60" width="277.50" height="187.20" fill="none" stroke="#000" stroke-width="1.5"/>
<path d="M428.60,188.80v3.5M487.80,188.80v3.5M547.00,188.80v3.5M606.20,188.80v3.5M665.40,188.80v3.5" stroke="#000" stroke-width="1.2" fill="none"/>
<path d="M635.80,188.80v2M576.60,188.80v2M517.40,188.80v2M458.20,188.80v2M399.00,188.80v2" stroke="#000" stroke-width="1.2" fill="none"/>
<text transform="translate(428.60,204.30) scale(0.9259,1)" x="0" y="0" font-family="Liberation Serif" font-weight="bold" font-size="12.42" text-anchor="middle" fill="#000" stroke="#000" stroke-width="0.2" >57</text>
<text transform="translate(487.80,204.30) scale(0.9259,1)" x="0" y="0" font-family="Liberation Serif" font-weight="bold" font-size="12.42" text-anchor="middle" fill="#000" stroke="#000" stroke-width="0.2" >56</text>
<text transform="translate(547.00,204.30) scale(0.9259,1)" x="0" y="0" font-family="Liberation Serif" font-weight="bold" font-size="12.42" text-anchor="middle" fill="#000" stroke="#000" stroke-width="0.2" >55</text>
<text transform="translate(606.20,204.30) scale(0.9259,1)" x="0" y="0" font-family="Liberation Serif" font-weight="bold" font-size="12.42" text-anchor="middle" fill="#000" stroke="#000" stroke-width="0.2" >54</text>
<text transform="translate(665.40,204.30) scale(0.9259,1)" x="0" y="0" font-family="Liberation Serif" font-weight="bold" font-size="12.42" text-anchor="middle" fill="#000" stroke="#000" stroke-width="0.2" >53</text>
<text transform="translate(538.25,217.60) scale(0.9259,1)" x="0" y="0" font-family="Liberation Serif" font-weight="bold" font-size="12.69" text-anchor="middle" fill="#000" stroke="#000" stroke-width="0.2" >Binding Energy (eV)</text>
<text transform="translate(390.60,94.60) rotate(-90) scale(1.0270,1)" x="0" y="0" font-family="Liberation Serif" font-weight="bold" font-size="11.50" text-anchor="middle" stroke="#000" stroke-width="0.2">Intensity (a.u.)</text>
<text transform="translate(354.90,25.90) scale(0.9259,1)" x="0" y="0" font-family="Liberation Serif" font-weight="bold" font-size="22.14" text-anchor="start" fill="#000" stroke="#000" stroke-width="0.2" >(b)</text>
<path d="M62.9,372.5 L63.4,372.5 L63.9,372.5 L64.4,372.4 L64.9,372.4 L65.4,372.4 L65.9,372.4 L66.4,372.3 L66.9,372.3 L67.4,372.3 L67.9,372.3 L68.4,372.2 L68.9,372.2 L69.4,372.2 L69.9,372.2 L70.4,372.1 L70.9,372.1 L71.4,372.1 L71.9,372.0 L72.4,372.0 L72.9,372.0 L73.4,372.0 L73.9,371.9 L74.4,371.9 L74.9,371.8 L75.4,371.8 L75.9,371.8 L76.4,371.7 L76.9,371.7 L77.4,371.7 L77.9,371.6 L78.4,371.6 L78.9,371.5 L79.4,371.5 L79.9,371.4 L80.4,371.4 L80.9,371.3 L81.4,371.3 L81.9,371.2 L82.4,371.2 L82.9,371.1 L83.4,371.1 L83.9,371.0 L84.4,370.9 L84.9,370.9 L85.4,370.8 L85.9,370.7 L86.4,370.6 L86.9,370.5 L87.4,370.4 L87.9,370.3 L88.4,370.2 L88.9,370.1 L89.4,370.0 L89.9,369.8 L90.4,369.7 L90.9,369.5 L91.4,369.4 L91.9,369.2 L92.4,369.0 L92.9,368.8 L93.4,368.6 L93.9,368.4 L94.4,368.2 L94.9,368.0 L95.4,367.8 L95.9,367.6 L96.4,367.3 L96.9,367.1 L97.4,366.9 L97.9,366.6 L98.4,366.3 L98.9,366.1 L99.4,365.8 L99.9,365.5 L100.4,365.3 L100.9,365.0 L101.4,364.7 L101.9,364.4 L102.4,364.0 L102.9,363.7 L103.4,363.4 L103.9,363.0 L104.4,362.6 L104.9,362.3 L105.4,361.9 L105.9,361.5 L106.4,361.1 L106.9,360.7 L107.4,360.3 L107.9,359.8 L108.4,359.4 L108.9,359.0 L109.4,358.6 L109.9,358.2 L110.4,357.8 L110.9,357.4 L111.4,357.1 L111.9,356.7 L112.4,356.4 L112.9,356.0 L113.4,355.7 L113.9,355.5 L114.4,355.2 L114.9,355.0 L115.4,354.8 L115.9,354.6 L116.4,354.5 L116.9,354.4 L117.4,354.3 L117.9,354.3 L118.4,354.3 L118.9,354.4 L119.4,354.5 L119.9,354.6 L120.4,354.8 L120.9,355.0 L121.4,355.2 L121.9,355.5 L122.4,355.8 L122.9,356.0 L123.4,356.3 L123.9,356.6 L124.4,357.0 L124.9,357.3 L125.4,357.6 L125.9,358.0 L126.4,358.4 L126.9,358.7 L127.4,359.1 L127.9,359.5 L128.4,360.0 L128.9,360.4 L129.4,360.8 L129.9,361.2 L130.4,361.6 L130.9,361.9 L131.4,362.2 L131.9,362.4 L132.4,362.5 L132.9,362.5 L133.4,362.4 L133.9,362.1 L134.4,361.8 L134.9,361.5 L135.4,361.0 L135.9,360.5 L136.4,360.0 L136.9,359.5 L137.4,359.0 L137.9,358.4 L138.4,357.9 L138.9,357.4 L139.4,356.8 L139.9,356.2 L140.4,355.6 L140.9,354.9 L141.4,354.1 L141.9,353.3 L142.4,352.4 L142.9,351.4 L143.4,350.5 L143.9,349.5 L144.4,348.5 L144.9,347.5 L145.4,346.5 L145.9,345.5 L146.4,344.5 L146.9,343.5 L147.4,342.6 L147.9,341.7 L148.4,340.9 L148.9,340.0 L149.4,339.3 L149.9,338.6 L150.4,338.0 L150.9,337.5 L151.4,337.0 L151.9,336.7 L152.4,336.5 L152.9,336.3 L153.4,336.3 L153.9,336.4 L154.4,336.7 L154.9,337.1 L155.4,337.6 L155.9,338.3 L156.4,339.2 L156.9,340.3 L157.4,341.5 L157.9,342.9 L158.4,344.5 L158.9,346.2 L159.4,348.1 L159.9,350.2 L160.4,352.3 L160.9,354.6 L161.4,357.0 L161.9,359.4 L162.4,361.9 L162.9,364.4 L163.4,366.7 L163.9,369.0 L164.4,371.2 L164.9,373.2 L165.4,375.1 L165.9,376.8 L166.4,378.3 L166.9,379.8 L167.4,381.1 L167.9,382.2 L168.4,383.2 L168.9,384.1 L169.4,384.8 L169.9,385.5 L170.4,386.0 L170.9,386.4 L171.4,386.8 L171.9,387.0 L172.4,387.3 L172.9,387.4 L173.4,387.6 L173.9,387.7 L174.4,387.8 L174.9,387.9 L175.4,387.9 L175.9,388.0 L176.4,388.0 L176.9,388.0 L177.4,388.0 L177.9,387.9 L178.4,387.9 L178.9,387.8 L179.4,387.7 L179.9,387.6 L180.4,387.5 L180.9,387.4 L181.4,387.3 L181.9,387.1 L182.4,387.0 L182.9,386.8 L183.4,386.6 L183.9,386.5 L184.4,386.3 L184.9,386.1 L185.4,385.9 L185.9,385.8 L186.4,385.6 L186.9,385.4 L187.4,385.2 L187.9,385.0 L188.4,384.9 L188.9,384.7 L189.4,384.5 L189.9,384.4 L190.4,384.2 L190.9,384.0 L191.4,383.8 L191.9,383.6 L192.4,383.4 L192.9,383.1 L193.4,382.9 L193.9,382.6 L194.4,382.3 L194.9,381.9 L195.4,381.5 L195.9,381.1 L196.4,380.7 L196.9,380.2 L197.4,379.6 L197.9,379.0 L198.4,378.4 L198.9,377.7 L199.4,377.0 L199.9,376.3 L200.4,375.5 L200.9,374.8 L201.4,374.0 L201.9,373.2 L202.4,372.5 L202.9,371.7 L203.4,371.0 L203.9,370.2 L204.4,369.5 L204.9,368.9 L205.4,368.3 L205.9,367.6 L206.4,367.0 L206.9,366.4 L207.4,365.7 L207.9,365.0 L208.4,364.3 L208.9,363.6 L209.4,362.9 L209.9,362.2 L210.4,361.5 L210.9,360.8 L211.4,360.1 L211.9,359.5 L212.4,358.9 L212.9,358.3 L213.4,357.8 L213.9,357.4 L214.4,356.9 L214.9,356.6 L215.4,356.3 L215.9,356.1 L216.4,356.0 L216.9,355.9 L217.4,355.9 L217.9,355.9 L218.4,356.0 L218.9,356.1 L219.4,356.2 L219.9,356.3 L220.4,356.4 L220.9,356.5 L221.4,356.6 L221.9,356.7 L222.4,356.8 L222.9,356.8 L223.4,356.8 L223.9,356.7 L224.4,356.6 L224.9,356.4 L225.4,356.2 L225.9,356.0 L226.4,355.7 L226.9,355.3 L227.4,354.9 L227.9,354.5 L228.4,354.0 L228.9,353.4 L229.4,352.8 L229.9,352.2 L230.4,351.5 L230.9,350.7 L231.4,349.9 L231.9,349.1 L232.4,348.2 L232.9,347.3 L233.4,346.3 L233.9,345.2 L234.4,344.1 L234.9,343.1 L235.4,342.0 L235.9,340.9 L236.4,339.8 L236.9,338.8 L237.4,337.9 L237.9,336.9 L238.4,336.0 L238.9,335.0 L239.4,334.1 L239.9,333.1 L240.4,332.1 L240.9,331.1 L241.4,330.1 L241.9,329.0 L242.4,327.9 L242.9,326.6 L243.4,325.4 L243.9,324.0 L244.4,322.5 L244.9,320.9 L245.4,319.1 L245.9,317.0 L246.4,314.8 L246.9,312.2 L247.4,309.4 L247.9,306.4 L248.4,303.4 L248.9,300.4 L249.4,297.6 L249.9,295.0 L250.4,292.9 L250.9,291.3 L251.4,290.3 L251.9,289.9 L252.4,290.1 L252.9,290.9 L253.4,292.3 L253.9,294.6 L254.4,297.7 L254.9,301.5 L255.4,305.6 L255.9,310.0 L256.4,314.4 L256.9,319.0 L257.4,323.5 L257.9,327.9 L258.4,332.3 L258.9,336.7 L259.4,341.2 L259.9,345.7 L260.4,350.2 L260.9,354.6 L261.4,359.0 L261.9,363.1 L262.4,367.1 L262.9,370.8 L263.4,374.5 L263.9,377.9 L264.4,381.2 L264.9,384.2 L265.4,386.9 L265.9,389.4 L266.4,391.6 L266.9,393.5 L267.4,395.2 L267.9,396.6 L268.4,397.9 L268.9,399.0 L269.4,400.0 L269.9,400.9 L270.4,401.8 L270.9,402.6 L271.4,403.4 L271.9,404.1 L272.4,404.8 L272.9,405.5 L273.4,406.1 L273.9,406.7 L274.4,407.3 L274.9,407.8 L275.4,408.3 L275.9,408.8 L276.4,409.3 L276.9,409.7 L277.4,410.1 L277.9,410.5 L278.4,410.9 L278.9,411.3 L279.4,411.6 L279.9,411.9 L280.4,412.3 L280.9,412.6 L281.4,412.9 L281.9,413.1 L282.4,413.4 L282.9,413.7 L283.4,413.9 L283.9,414.2 L284.4,414.4 L284.9,414.6 L285.4,414.8 L285.9,415.0 L286.4,415.2 L286.9,415.3 L287.4,415.5 L287.9,415.6" stroke="#000" stroke-width="1.8" fill="none" stroke-linejoin="round"/>
<path d="M62.9,371.8 L63.9,371.9 L64.9,371.9 L65.9,372.0 L66.9,372.1 L67.9,372.1 L68.9,372.2 L69.9,372.3 L70.9,372.3 L71.9,372.4 L72.9,372.5 L73.9,372.6 L74.9,372.6 L75.9,372.7 L76.9,372.8 L77.9,372.9 L78.9,373.0 L79.9,373.1 L80.9,373.1 L81.9,373.2 L82.9,373.3 L83.9,373.4 L84.9,373.5 L85.9,373.6 L86.9,373.7 L87.9,373.8 L88.9,373.9 L89.9,374.0 L90.9,374.1 L91.9,374.2 L92.9,374.4 L93.9,374.5 L94.9,374.6 L95.9,374.7 L96.9,374.8 L97.9,374.9 L98.9,375.0 L99.9,375.1 L100.9,375.2 L101.9,375.3 L102.9,375.4 L103.9,375.5 L104.9,375.6 L105.9,375.7 L106.9,375.8 L107.9,375.9 L108.9,375.9 L109.9,376.0 L110.9,376.1 L111.9,376.1 L112.9,376.2 L113.9,376.3 L114.9,376.3 L115.9,376.3 L116.9,376.4 L117.9,376.4 L118.9,376.4 L119.9,376.4 L120.9,376.4 L121.9,376.4 L122.9,376.3 L123.9,376.3 L124.9,376.2 L125.9,376.1 L126.9,376.0 L127.9,375.8 L128.9,375.6 L129.9,375.4 L130.9,375.1 L131.9,374.8 L132.9,374.5 L133.9,374.1 L134.9,373.6 L135.9,373.0 L136.9,372.4 L137.9,371.7 L138.9,370.9 L139.9,370.1 L140.9,369.1 L141.9,368.1 L142.9,366.9 L143.9,365.7 L144.9,364.4 L145.9,363.1 L146.9,361.7 L147.9,360.4 L148.9,359.0 L149.9,357.6 L150.9,356.3 L151.9,355.2 L152.9,354.2 L153.9,353.4 L154.9,353.0 L155.9,352.9 L156.9,353.3 L157.9,355.5 L158.9,359.3 L159.9,363.6 L160.9,367.8 L161.9,371.6 L162.9,374.8 L163.9,377.5 L164.9,379.6 L165.9,381.3 L166.9,382.7 L167.9,383.7 L168.9,384.6 L169.9,385.3 L170.9,385.9 L171.9,386.4 L172.9,386.8 L173.9,387.1 L174.9,387.5 L175.9,387.8 L176.9,388.0 L177.9,388.3 L178.9,388.5 L179.9,388.7 L180.9,388.9 L181.9,389.0 L182.9,389.2 L183.9,389.4 L184.9,389.5 L185.9,389.6 L186.9,389.8 L187.9,389.9 L188.9,390.0 L189.9,390.1 L190.9,390.2 L191.9,390.3 L192.9,390.4 L193.9,390.5 L194.9,390.6 L195.9,390.7 L196.9,390.8 L197.9,390.9 L198.9,391.0 L199.9,391.1 L200.9,391.2 L201.9,391.3 L202.9,391.4 L203.9,391.5 L204.9,391.6 L205.9,391.8 L206.9,391.9 L207.9,392.0 L208.9,392.1 L209.9,392.2 L210.9,392.3 L211.9,392.3 L212.9,392.4 L213.9,392.5 L214.9,392.5 L215.9,392.6 L216.9,392.6 L217.9,392.7 L218.9,392.7 L219.9,392.7 L220.9,392.7 L221.9,392.7 L222.9,392.6 L223.9,392.5 L224.9,392.4 L225.9,392.2 L226.9,392.0 L227.9,391.7 L228.9,391.3 L229.9,390.9 L230.9,390.3 L231.9,389.6 L232.9,388.7 L233.9,387.6 L234.9,386.3 L235.9,384.7 L236.9,382.7 L237.9,380.4 L238.9,377.5 L239.9,374.2 L240.9,370.1 L241.9,365.4 L242.9,360.0 L243.9,353.8 L244.9,346.8 L245.9,339.2 L246.9,331.2 L247.9,322.9 L248.9,315.1 L249.9,308.2 L250.9,303.1 L251.9,300.6 L252.9,301.0 L253.9,304.1 L254.9,309.6 L255.9,316.8 L256.9,325.1 L257.9,333.9 L258.9,342.7 L259.9,351.1 L260.9,358.9 L261.9,366.1 L262.9,372.5 L263.9,378.2 L264.9,383.2 L265.9,387.6 L266.9,391.4 L267.9,394.7 L268.9,397.5 L269.9,400.0 L270.9,402.1 L271.9,403.9 L272.9,405.5 L273.9,406.8 L274.9,408.0 L275.9,409.1 L276.9,410.0 L277.9,410.8 L278.9,411.6 L279.9,412.2 L280.9,412.7 L281.9,413.2 L282.9,413.7 L283.9,414.2 L284.9,414.6 L285.9,415.1 L286.9,415.5 L287.9,416.0 L288.9,416.5 L289.9,417.0 L290.9,417.4 L291.9,417.9 L291.9,417.3 L290.9,417.1 L289.9,416.9 L288.9,416.7 L287.9,416.5 L286.9,416.4 L285.9,416.3 L284.9,416.2 L283.9,416.2 L282.9,416.2 L281.9,416.2 L280.9,416.2 L279.9,416.3 L278.9,416.3 L277.9,416.3 L276.9,416.3 L275.9,416.3 L274.9,416.2 L273.9,416.2 L272.9,416.2 L271.9,416.1 L270.9,416.1 L269.9,416.0 L268.9,415.9 L267.9,415.8 L266.9,415.7 L265.9,415.6 L264.9,415.5 L263.9,415.3 L262.9,415.1 L261.9,414.9 L260.9,414.6 L259.9,414.2 L258.9,413.8 L257.9,413.3 L256.9,412.8 L255.9,412.3 L254.9,411.7 L253.9,411.2 L252.9,410.6 L251.9,410.0 L250.9,409.3 L249.9,408.7 L248.9,408.0 L247.9,407.3 L246.9,406.6 L245.9,406.0 L244.9,405.4 L243.9,404.9 L242.9,404.4 L241.9,403.9 L240.9,403.5 L239.9,403.0 L238.9,402.6 L237.9,402.1 L236.9,401.7 L235.9,401.3 L234.9,400.9 L233.9,400.5 L232.9,400.2 L231.9,399.8 L230.9,399.5 L229.9,399.1 L228.9,398.8 L227.9,398.5 L226.9,398.1 L225.9,397.8 L224.9,397.5 L223.9,397.2 L222.9,396.9 L221.9,396.6 L220.9,396.3 L219.9,396.0 L218.9,395.8 L217.9,395.5 L216.9,395.2 L215.9,395.0 L214.9,394.8 L213.9,394.5 L212.9,394.3 L211.9,394.1 L210.9,393.9 L209.9,393.7 L208.9,393.5 L207.9,393.3 L206.9,393.1 L205.9,393.0 L204.9,392.8 L203.9,392.6 L202.9,392.5 L201.9,392.3 L200.9,392.2 L199.9,392.0 L198.9,391.9 L197.9,391.8 L196.9,391.7 L195.9,391.6 L194.9,391.5 L193.9,391.4 L192.9,391.3 L191.9,391.2 L190.9,391.2 L189.9,391.1 L188.9,391.0 L187.9,390.9 L186.9,390.9 L185.9,390.8 L184.9,390.7 L183.9,390.6 L182.9,390.6 L181.9,390.5 L180.9,390.4 L179.9,390.3 L178.9,390.3 L177.9,390.2 L176.9,390.1 L175.9,390.0 L174.9,390.0 L173.9,389.9 L172.9,389.8 L171.9,389.8 L170.9,389.7 L169.9,389.6 L168.9,389.6 L167.9,389.5 L166.9,389.5 L165.9,389.4 L164.9,389.3 L163.9,389.3 L162.9,389.2 L161.9,389.1 L160.9,389.1 L159.9,389.0 L158.9,388.9 L157.9,388.7 L156.9,388.5 L155.9,388.3 L154.9,388.0 L153.9,387.7 L152.9,387.3 L151.9,387.0 L150.9,386.6 L149.9,386.3 L148.9,386.0 L147.9,385.6 L146.9,385.3 L145.9,385.0 L144.9,384.8 L143.9,384.5 L142.9,384.3 L141.9,384.2 L140.9,384.1 L139.9,383.9 L138.9,383.8 L137.9,383.6 L136.9,383.5 L135.9,383.4 L134.9,383.2 L133.9,383.1 L132.9,382.9 L131.9,382.8 L130.9,382.7 L129.9,382.5 L128.9,382.4 L127.9,382.3 L126.9,382.1 L125.9,382.0 L124.9,381.9 L123.9,381.8 L122.9,381.6 L121.9,381.5 L120.9,381.4 L119.9,381.2 L118.9,381.1 L117.9,381.0 L116.9,380.9 L115.9,380.8 L114.9,380.6 L113.9,380.5 L112.9,380.4 L111.9,380.3 L110.9,380.1 L109.9,380.0 L108.9,379.9 L107.9,379.8 L106.9,379.7 L105.9,379.5 L104.9,379.4 L103.9,379.3 L102.9,379.2 L101.9,379.0 L100.9,378.9 L99.9,378.8 L98.9,378.7 L97.9,378.6 L96.9,378.5 L95.9,378.3 L94.9,378.2 L93.9,378.1 L92.9,378.0 L91.9,377.9 L90.9,377.8 L89.9,377.7 L88.9,377.6 L87.9,377.5 L86.9,377.4 L85.9,377.3 L84.9,377.2 L83.9,377.1 L82.9,377.0 L81.9,377.0 L80.9,376.9 L79.9,376.8 L78.9,376.7 L77.9,376.7 L76.9,376.6 L75.9,376.5 L74.9,376.5 L73.9,376.4 L72.9,376.4 L71.9,376.3 L70.9,376.3 L69.9,376.2 L68.9,376.2 L67.9,376.1 L66.9,376.1 L65.9,376.0 L64.9,376.0 L63.9,375.9 L62.9,375.9Z" fill="url(#gy)" fill-opacity="1.0" stroke="none"/>
<path d="M62.9,371.8 L63.9,371.9 L64.9,371.9 L65.9,372.0 L66.9,372.1 L67.9,372.1 L68.9,372.2 L69.9,372.3 L70.9,372.3 L71.9,372.4 L72.9,372.5 L73.9,372.6 L74.9,372.6 L75.9,372.7 L76.9,372.8 L77.9,372.9 L78.9,373.0 L79.9,373.1 L80.9,373.1 L81.9,373.2 L82.9,373.3 L83.9,373.4 L84.9,373.5 L85.9,373.6 L86.9,373.7 L87.9,373.8 L88.9,373.9 L89.9,374.0 L90.9,374.1 L91.9,374.2 L92.9,374.4 L93.9,374.5 L94.9,374.6 L95.9,374.7 L96.9,374.8 L97.9,374.9 L98.9,375.0 L99.9,375.1 L100.9,375.2 L101.9,375.3 L102.9,375.4 L103.9,375.5 L104.9,375.6 L105.9,375.7 L106.9,375.8 L107.9,375.9 L108.9,375.9 L109.9,376.0 L110.9,376.1 L111.9,376.1 L112.9,376.2 L113.9,376.3 L114.9,376.3 L115.9,376.3 L116.9,376.4 L117.9,376.4 L118.9,376.4 L119.9,376.4 L120.9,376.4 L121.9,376.4 L122.9,376.3 L123.9,376.3 L124.9,376.2 L125.9,376.1 L126.9,376.0 L127.9,375.8 L128.9,375.6 L129.9,375.4 L130.9,375.1 L131.9,374.8 L132.9,374.5 L133.9,374.1 L134.9,373.6 L135.9,373.0 L136.9,372.4 L137.9,371.7 L138.9,370.9 L139.9,370.1 L140.9,369.1 L141.9,368.1 L142.9,366.9 L143.9,365.7 L144.9,364.4 L145.9,363.1 L146.9,361.7 L147.9,360.4 L148.9,359.0 L149.9,357.6 L150.9,356.3 L151.9,355.2 L152.9,354.2 L153.9,353.4 L154.9,353.0 L155.9,352.9 L156.9,353.3 L157.9,355.5 L158.9,359.3 L159.9,363.6 L160.9,367.8 L161.9,371.6 L162.9,374.8 L163.9,377.5 L164.9,379.6 L165.9,381.3 L166.9,382.7 L167.9,383.7 L168.9,384.6 L169.9,385.3 L170.9,385.9 L171.9,386.4 L172.9,386.8 L173.9,387.1 L174.9,387.5 L175.9,387.8 L176.9,388.0 L177.9,388.3 L178.9,388.5 L179.9,388.7 L180.9,388.9 L181.9,389.0 L182.9,389.2 L183.9,389.4 L184.9,389.5 L185.9,389.6 L186.9,389.8 L187.9,389.9 L188.9,390.0 L189.9,390.1 L190.9,390.2 L191.9,390.3 L192.9,390.4 L193.9,390.5 L194.9,390.6 L195.9,390.7 L196.9,390.8 L197.9,390.9 L198.9,391.0 L199.9,391.1 L200.9,391.2 L201.9,391.3 L202.9,391.4 L203.9,391.5 L204.9,391.6 L205.9,391.8 L206.9,391.9 L207.9,392.0 L208.9,392.1 L209.9,392.2 L210.9,392.3 L211.9,392.3 L212.9,392.4 L213.9,392.5 L214.9,392.5 L215.9,392.6 L216.9,392.6 L217.9,392.7 L218.9,392.7 L219.9,392.7 L220.9,392.7 L221.9,392.7 L222.9,392.6 L223.9,392.5 L224.9,392.4 L225.9,392.2 L226.9,392.0 L227.9,391.7 L228.9,391.3 L229.9,390.9 L230.9,390.3 L231.9,389.6 L232.9,388.7 L233.9,387.6 L234.9,386.3 L235.9,384.7 L236.9,382.7 L237.9,380.4 L238.9,377.5 L239.9,374.2 L240.9,370.1 L241.9,365.4 L242.9,360.0 L243.9,353.8 L244.9,346.8 L245.9,339.2 L246.9,331.2 L247.9,322.9 L248.9,315.1 L249.9,308.2 L250.9,303.1 L251.9,300.6 L252.9,301.0 L253.9,304.1 L254.9,309.6 L255.9,316.8 L256.9,325.1 L257.9,333.9 L258.9,342.7 L259.9,351.1 L260.9,358.9 L261.9,366.1 L262.9,372.5 L263.9,378.2 L264.9,383.2 L265.9,387.6 L266.9,391.4 L267.9,394.7 L268.9,397.5 L269.9,400.0 L270.9,402.1 L271.9,403.9 L272.9,405.5 L273.9,406.8 L274.9,408.0 L275.9,409.1 L276.9,410.0 L277.9,410.8 L278.9,411.6 L279.9,412.2 L280.9,412.7 L281.9,413.2 L282.9,413.7 L283.9,414.2 L284.9,414.6 L285.9,415.1 L286.9,415.5 L287.9,416.0 L288.9,416.5 L289.9,417.0 L290.9,417.4 L291.9,417.9" stroke="#f8e04c" stroke-width="1.2" fill="none" stroke-linejoin="round"/>
<path d="M116.0,380.4 L117.0,380.5 L118.0,380.5 L119.0,380.6 L120.0,380.6 L121.0,380.6 L122.0,380.6 L123.0,380.5 L124.0,380.4 L125.0,380.3 L126.0,380.1 L127.0,379.8 L128.0,379.5 L129.0,379.0 L130.0,378.5 L131.0,377.9 L132.0,377.3 L133.0,376.5 L134.0,375.7 L135.0,374.7 L136.0,373.7 L137.0,372.7 L138.0,371.6 L139.0,370.4 L140.0,369.3 L141.0,368.2 L142.0,367.2 L143.0,366.3 L144.0,365.5 L145.0,364.9 L146.0,364.5 L147.0,364.3 L148.0,364.4 L149.0,364.7 L150.0,365.3 L151.0,366.4 L152.0,367.7 L153.0,369.4 L154.0,371.2 L155.0,373.1 L156.0,375.0 L157.0,377.0 L158.0,378.8 L159.0,380.5 L160.0,382.0 L161.0,383.3 L162.0,384.5 L163.0,385.5 L164.0,386.3 L165.0,387.0 L166.0,387.6 L167.0,388.1 L168.0,388.4 L169.0,388.7 L170.0,389.0 L171.0,389.2 L172.0,389.3 L173.0,389.5 L174.0,389.6 L175.0,389.7 L176.0,389.8 L177.0,389.9 L178.0,390.0 L179.0,390.1 L180.0,390.2 L181.0,390.3 L182.0,390.3 L183.0,390.4 L184.0,390.5 L185.0,390.6 L186.0,390.7 L187.0,390.8 L188.0,390.8 L189.0,390.9 L190.0,391.0 L191.0,391.1 L192.0,391.2 L193.0,391.3 L194.0,391.3 L195.0,391.4 L196.0,391.5 L197.0,391.6 L198.0,391.7 L199.0,391.9 L200.0,392.0 L201.0,392.1 L202.0,392.3 L203.0,392.4 L204.0,392.6 L205.0,392.7 L206.0,392.9 L207.0,393.1 L208.0,393.2 L209.0,393.4 L210.0,393.5 L211.0,393.6 L212.0,393.7 L213.0,393.7 L214.0,393.7 L215.0,393.6 L216.0,393.5 L217.0,393.2 L218.0,392.9 L219.0,392.3 L220.0,391.7 L221.0,390.8 L222.0,389.8 L223.0,388.5 L224.0,387.0 L225.0,385.3 L226.0,383.3 L227.0,381.2 L228.0,378.9 L229.0,376.5 L230.0,374.1 L231.0,371.7 L232.0,369.3 L233.0,367.1 L234.0,365.2 L235.0,363.7 L236.0,362.5 L237.0,361.8 L238.0,361.6 L239.0,361.9 L240.0,362.7 L241.0,364.2 L242.0,366.1 L243.0,368.5 L244.0,371.3 L245.0,374.4 L246.0,377.8 L247.0,381.3 L248.0,384.8 L249.0,388.4 L250.0,391.8 L251.0,395.0 L252.0,398.0 L253.0,400.7 L254.0,403.1 L255.0,405.2 L256.0,407.1 L257.0,408.8 L258.0,410.2 L259.0,411.4 L260.0,412.4 L261.0,413.3 L262.0,413.9 L263.0,414.4 L264.0,414.8 L265.0,415.1 L265.0,415.5 L264.0,415.3 L263.0,415.1 L262.0,414.9 L261.0,414.6 L260.0,414.3 L259.0,413.8 L258.0,413.4 L257.0,412.9 L256.0,412.3 L255.0,411.8 L254.0,411.2 L253.0,410.7 L252.0,410.1 L251.0,409.4 L250.0,408.7 L249.0,408.1 L248.0,407.4 L247.0,406.7 L246.0,406.1 L245.0,405.5 L244.0,404.9 L243.0,404.5 L242.0,404.0 L241.0,403.5 L240.0,403.0 L239.0,402.6 L238.0,402.2 L237.0,401.8 L236.0,401.4 L235.0,401.0 L234.0,400.6 L233.0,400.2 L232.0,399.9 L231.0,399.5 L230.0,399.2 L229.0,398.8 L228.0,398.5 L227.0,398.2 L226.0,397.9 L225.0,397.5 L224.0,397.2 L223.0,396.9 L222.0,396.6 L221.0,396.3 L220.0,396.1 L219.0,395.8 L218.0,395.5 L217.0,395.3 L216.0,395.0 L215.0,394.8 L214.0,394.6 L213.0,394.4 L212.0,394.1 L211.0,393.9 L210.0,393.7 L209.0,393.5 L208.0,393.4 L207.0,393.2 L206.0,393.0 L205.0,392.8 L204.0,392.6 L203.0,392.5 L202.0,392.3 L201.0,392.2 L200.0,392.0 L199.0,391.9 L198.0,391.8 L197.0,391.7 L196.0,391.6 L195.0,391.5 L194.0,391.4 L193.0,391.3 L192.0,391.3 L191.0,391.2 L190.0,391.1 L189.0,391.0 L188.0,390.9 L187.0,390.9 L186.0,390.8 L185.0,390.7 L184.0,390.6 L183.0,390.6 L182.0,390.5 L181.0,390.4 L180.0,390.3 L179.0,390.3 L178.0,390.2 L177.0,390.1 L176.0,390.0 L175.0,390.0 L174.0,389.9 L173.0,389.8 L172.0,389.8 L171.0,389.7 L170.0,389.6 L169.0,389.6 L168.0,389.5 L167.0,389.5 L166.0,389.4 L165.0,389.3 L164.0,389.3 L163.0,389.2 L162.0,389.2 L161.0,389.1 L160.0,389.0 L159.0,388.9 L158.0,388.7 L157.0,388.5 L156.0,388.3 L155.0,388.0 L154.0,387.7 L153.0,387.4 L152.0,387.0 L151.0,386.7 L150.0,386.3 L149.0,386.0 L148.0,385.6 L147.0,385.3 L146.0,385.0 L145.0,384.8 L144.0,384.5 L143.0,384.4 L142.0,384.2 L141.0,384.1 L140.0,383.9 L139.0,383.8 L138.0,383.7 L137.0,383.5 L136.0,383.4 L135.0,383.2 L134.0,383.1 L133.0,383.0 L132.0,382.8 L131.0,382.7 L130.0,382.6 L129.0,382.4 L128.0,382.3 L127.0,382.2 L126.0,382.0 L125.0,381.9 L124.0,381.8 L123.0,381.6 L122.0,381.5 L121.0,381.4 L120.0,381.3 L119.0,381.1 L118.0,381.0 L117.0,380.9 L116.0,380.8Z" fill="url(#gg)" fill-opacity="1.0" stroke="none"/>
<path d="M116.0,380.4 L117.0,380.5 L118.0,380.5 L119.0,380.6 L120.0,380.6 L121.0,380.6 L122.0,380.6 L123.0,380.5 L124.0,380.4 L125.0,380.3 L126.0,380.1 L127.0,379.8 L128.0,379.5 L129.0,379.0 L130.0,378.5 L131.0,377.9 L132.0,377.3 L133.0,376.5 L134.0,375.7 L135.0,374.7 L136.0,373.7 L137.0,372.7 L138.0,371.6 L139.0,370.4 L140.0,369.3 L141.0,368.2 L142.0,367.2 L143.0,366.3 L144.0,365.5 L145.0,364.9 L146.0,364.5 L147.0,364.3 L148.0,364.4 L149.0,364.7 L150.0,365.3 L151.0,366.4 L152.0,367.7 L153.0,369.4 L154.0,371.2 L155.0,373.1 L156.0,375.0 L157.0,377.0 L158.0,378.8 L159.0,380.5 L160.0,382.0 L161.0,383.3 L162.0,384.5 L163.0,385.5 L164.0,386.3 L165.0,387.0 L166.0,387.6 L167.0,388.1 L168.0,388.4 L169.0,388.7 L170.0,389.0 L171.0,389.2 L172.0,389.3 L173.0,389.5 L174.0,389.6 L175.0,389.7 L176.0,389.8 L177.0,389.9 L178.0,390.0 L179.0,390.1 L180.0,390.2 L181.0,390.3 L182.0,390.3 L183.0,390.4 L184.0,390.5 L185.0,390.6 L186.0,390.7 L187.0,390.8 L188.0,390.8 L189.0,390.9 L190.0,391.0 L191.0,391.1 L192.0,391.2 L193.0,391.3 L194.0,391.3 L195.0,391.4 L196.0,391.5 L197.0,391.6 L198.0,391.7 L199.0,391.9 L200.0,392.0 L201.0,392.1 L202.0,392.3 L203.0,392.4 L204.0,392.6 L205.0,392.7 L206.0,392.9 L207.0,393.1 L208.0,393.2 L209.0,393.4 L210.0,393.5 L211.0,393.6 L212.0,393.7 L213.0,393.7 L214.0,393.7 L215.0,393.6 L216.0,393.5 L217.0,393.2 L218.0,392.9 L219.0,392.3 L220.0,391.7 L221.0,390.8 L222.0,389.8 L223.0,388.5 L224.0,387.0 L225.0,385.3 L226.0,383.3 L227.0,381.2 L228.0,378.9 L229.0,376.5 L230.0,374.1 L231.0,371.7 L232.0,369.3 L233.0,367.1 L234.0,365.2 L235.0,363.7 L236.0,362.5 L237.0,361.8 L238.0,361.6 L239.0,361.9 L240.0,362.7 L241.0,364.2 L242.0,366.1 L243.0,368.5 L244.0,371.3 L245.0,374.4 L246.0,377.8 L247.0,381.3 L248.0,384.8 L249.0,388.4 L250.0,391.8 L251.0,395.0 L252.0,398.0 L253.0,400.7 L254.0,403.1 L255.0,405.2 L256.0,407.1 L257.0,408.8 L258.0,410.2 L259.0,411.4 L260.0,412.4 L261.0,413.3 L262.0,413.9 L263.0,414.4 L264.0,414.8 L265.0,415.1" stroke="#3db24e" stroke-width="1.3" fill="none" stroke-linejoin="round"/>
<path d="M62.9,375.7 L63.9,375.7 L64.9,375.7 L65.9,375.8 L66.9,375.8 L67.9,375.9 L68.9,375.9 L69.9,375.9 L70.9,376.0 L71.9,376.0 L72.9,376.0 L73.9,376.0 L74.9,376.0 L75.9,376.1 L76.9,376.1 L77.9,376.1 L78.9,376.0 L79.9,376.0 L80.9,376.0 L81.9,375.9 L82.9,375.9 L83.9,375.8 L84.9,375.6 L85.9,375.5 L86.9,375.4 L87.9,375.2 L88.9,374.9 L89.9,374.7 L90.9,374.4 L91.9,374.1 L92.9,373.7 L93.9,373.3 L94.9,372.9 L95.9,372.4 L96.9,371.9 L97.9,371.3 L98.9,370.7 L99.9,370.1 L100.9,369.4 L101.9,368.7 L102.9,368.0 L103.9,367.3 L104.9,366.6 L105.9,365.9 L106.9,365.2 L107.9,364.5 L108.9,363.8 L109.9,363.2 L110.9,362.6 L111.9,362.0 L112.9,361.6 L113.9,361.2 L114.9,360.8 L115.9,360.6 L116.9,360.4 L117.9,360.3 L118.9,360.3 L119.9,360.4 L120.9,360.7 L121.9,361.3 L122.9,362.0 L123.9,363.0 L124.9,364.1 L125.9,365.3 L126.9,366.7 L127.9,368.1 L128.9,369.5 L129.9,371.0 L130.9,372.4 L131.9,373.8 L132.9,375.1 L133.9,376.3 L134.9,377.4 L135.9,378.4 L136.9,379.3 L137.9,380.1 L138.9,380.8 L139.9,381.4 L140.9,381.9 L141.9,382.4 L142.9,382.8 L143.9,383.2 L144.9,383.5 L145.9,383.9 L146.9,384.3 L147.9,384.6 L148.9,385.0 L149.9,385.4 L150.9,385.7 L151.9,386.1 L152.9,386.4 L153.9,386.7 L154.9,387.0 L155.9,387.3 L156.9,387.5 L157.9,387.7 L158.9,387.8 L159.9,387.9 L160.9,387.9 L161.9,387.9 L162.9,388.0 L163.9,388.0 L164.9,388.0 L165.9,388.0 L166.9,388.0 L167.9,388.0 L168.9,388.0 L169.9,388.0 L170.9,388.0 L171.9,388.0 L172.9,388.0 L173.9,387.9 L174.9,387.9 L175.9,387.9 L176.9,387.8 L177.9,387.8 L178.9,387.7 L179.9,387.6 L180.9,387.5 L181.9,387.3 L182.9,387.2 L183.9,387.0 L184.9,386.8 L185.9,386.5 L186.9,386.2 L187.9,385.8 L188.9,385.5 L189.9,385.0 L190.9,384.5 L191.9,383.9 L192.9,383.3 L193.9,382.5 L194.9,381.7 L195.9,380.9 L196.9,379.9 L197.9,378.9 L198.9,377.8 L199.9,376.6 L200.9,375.4 L201.9,374.1 L202.9,372.7 L203.9,371.3 L204.9,369.8 L205.9,368.3 L206.9,366.8 L207.9,365.4 L208.9,363.9 L209.9,362.5 L210.9,361.2 L211.9,360.0 L212.9,358.9 L213.9,358.1 L214.9,357.5 L215.9,357.1 L216.9,357.0 L217.9,357.3 L218.9,358.0 L219.9,359.1 L220.9,360.8 L221.9,362.7 L222.9,365.0 L223.9,367.4 L224.9,370.0 L225.9,372.5 L226.9,375.1 L227.9,377.6 L228.9,380.0 L229.9,382.4 L230.9,384.5 L231.9,386.6 L232.9,388.5 L233.9,390.2 L234.9,391.8 L235.9,393.3 L236.9,394.7 L237.9,395.9 L238.9,397.1 L239.9,398.2 L240.9,399.2 L241.9,400.1 L242.9,401.0 L243.9,401.8 L244.9,402.6 L245.9,403.4 L246.9,404.3 L247.9,405.1 L248.9,406.0 L249.9,406.8 L249.9,408.7 L248.9,408.0 L247.9,407.3 L246.9,406.6 L245.9,406.0 L244.9,405.4 L243.9,404.9 L242.9,404.4 L241.9,403.9 L240.9,403.5 L239.9,403.0 L238.9,402.6 L237.9,402.1 L236.9,401.7 L235.9,401.3 L234.9,400.9 L233.9,400.5 L232.9,400.2 L231.9,399.8 L230.9,399.5 L229.9,399.1 L228.9,398.8 L227.9,398.5 L226.9,398.1 L225.9,397.8 L224.9,397.5 L223.9,397.2 L222.9,396.9 L221.9,396.6 L220.9,396.3 L219.9,396.0 L218.9,395.8 L217.9,395.5 L216.9,395.2 L215.9,395.0 L214.9,394.8 L213.9,394.5 L212.9,394.3 L211.9,394.1 L210.9,393.9 L209.9,393.7 L208.9,393.5 L207.9,393.3 L206.9,393.1 L205.9,393.0 L204.9,392.8 L203.9,392.6 L202.9,392.5 L201.9,392.3 L200.9,392.2 L199.9,392.0 L198.9,391.9 L197.9,391.8 L196.9,391.7 L195.9,391.6 L194.9,391.5 L193.9,391.4 L192.9,391.3 L191.9,391.2 L190.9,391.2 L189.9,391.1 L188.9,391.0 L187.9,390.9 L186.9,390.9 L185.9,390.8 L184.9,390.7 L183.9,390.6 L182.9,390.6 L181.9,390.5 L180.9,390.4 L179.9,390.3 L178.9,390.3 L177.9,390.2 L176.9,390.1 L175.9,390.0 L174.9,390.0 L173.9,389.9 L172.9,389.8 L171.9,389.8 L170.9,389.7 L169.9,389.6 L168.9,389.6 L167.9,389.5 L166.9,389.5 L165.9,389.4 L164.9,389.3 L163.9,389.3 L162.9,389.2 L161.9,389.1 L160.9,389.1 L159.9,389.0 L158.9,388.9 L157.9,388.7 L156.9,388.5 L155.9,388.3 L154.9,388.0 L153.9,387.7 L152.9,387.3 L151.9,387.0 L150.9,386.6 L149.9,386.3 L148.9,386.0 L147.9,385.6 L146.9,385.3 L145.9,385.0 L144.9,384.8 L143.9,384.5 L142.9,384.3 L141.9,384.2 L140.9,384.1 L139.9,383.9 L138.9,383.8 L137.9,383.6 L136.9,383.5 L135.9,383.4 L134.9,383.2 L133.9,383.1 L132.9,382.9 L131.9,382.8 L130.9,382.7 L129.9,382.5 L128.9,382.4 L127.9,382.3 L126.9,382.1 L125.9,382.0 L124.9,381.9 L123.9,381.8 L122.9,381.6 L121.9,381.5 L120.9,381.4 L119.9,381.2 L118.9,381.1 L117.9,381.0 L116.9,380.9 L115.9,380.8 L114.9,380.6 L113.9,380.5 L112.9,380.4 L111.9,380.3 L110.9,380.1 L109.9,380.0 L108.9,379.9 L107.9,379.8 L106.9,379.7 L105.9,379.5 L104.9,379.4 L103.9,379.3 L102.9,379.2 L101.9,379.0 L100.9,378.9 L99.9,378.8 L98.9,378.7 L97.9,378.6 L96.9,378.5 L95.9,378.3 L94.9,378.2 L93.9,378.1 L92.9,378.0 L91.9,377.9 L90.9,377.8 L89.9,377.7 L88.9,377.6 L87.9,377.5 L86.9,377.4 L85.9,377.3 L84.9,377.2 L83.9,377.1 L82.9,377.0 L81.9,377.0 L80.9,376.9 L79.9,376.8 L78.9,376.7 L77.9,376.7 L76.9,376.6 L75.9,376.5 L74.9,376.5 L73.9,376.4 L72.9,376.4 L71.9,376.3 L70.9,376.3 L69.9,376.2 L68.9,376.2 L67.9,376.1 L66.9,376.1 L65.9,376.0 L64.9,376.0 L63.9,375.9 L62.9,375.9Z" fill="url(#gb)" fill-opacity="1.0" stroke="none"/>
<path d="M62.9,375.7 L63.9,375.7 L64.9,375.7 L65.9,375.8 L66.9,375.8 L67.9,375.9 L68.9,375.9 L69.9,375.9 L70.9,376.0 L71.9,376.0 L72.9,376.0 L73.9,376.0 L74.9,376.0 L75.9,376.1 L76.9,376.1 L77.9,376.1 L78.9,376.0 L79.9,376.0 L80.9,376.0 L81.9,375.9 L82.9,375.9 L83.9,375.8 L84.9,375.6 L85.9,375.5 L86.9,375.4 L87.9,375.2 L88.9,374.9 L89.9,374.7 L90.9,374.4 L91.9,374.1 L92.9,373.7 L93.9,373.3 L94.9,372.9 L95.9,372.4 L96.9,371.9 L97.9,371.3 L98.9,370.7 L99.9,370.1 L100.9,369.4 L101.9,368.7 L102.9,368.0 L103.9,367.3 L104.9,366.6 L105.9,365.9 L106.9,365.2 L107.9,364.5 L108.9,363.8 L109.9,363.2 L110.9,362.6 L111.9,362.0 L112.9,361.6 L113.9,361.2 L114.9,360.8 L115.9,360.6 L116.9,360.4 L117.9,360.3 L118.9,360.3 L119.9,360.4 L120.9,360.7 L121.9,361.3 L122.9,362.0 L123.9,363.0 L124.9,364.1 L125.9,365.3 L126.9,366.7 L127.9,368.1 L128.9,369.5 L129.9,371.0 L130.9,372.4 L131.9,373.8 L132.9,375.1 L133.9,376.3 L134.9,377.4 L135.9,378.4 L136.9,379.3 L137.9,380.1 L138.9,380.8 L139.9,381.4 L140.9,381.9 L141.9,382.4 L142.9,382.8 L143.9,383.2 L144.9,383.5 L145.9,383.9 L146.9,384.3 L147.9,384.6 L148.9,385.0 L149.9,385.4 L150.9,385.7 L151.9,386.1 L152.9,386.4 L153.9,386.7 L154.9,387.0 L155.9,387.3 L156.9,387.5 L157.9,387.7 L158.9,387.8 L159.9,387.9 L160.9,387.9 L161.9,387.9 L162.9,388.0 L163.9,388.0 L164.9,388.0 L165.9,388.0 L166.9,388.0 L167.9,388.0 L168.9,388.0 L169.9,388.0 L170.9,388.0 L171.9,388.0 L172.9,388.0 L173.9,387.9 L174.9,387.9 L175.9,387.9 L176.9,387.8 L177.9,387.8 L178.9,387.7 L179.9,387.6 L180.9,387.5 L181.9,387.3 L182.9,387.2 L183.9,387.0 L184.9,386.8 L185.9,386.5 L186.9,386.2 L187.9,385.8 L188.9,385.5 L189.9,385.0 L190.9,384.5 L191.9,383.9 L192.9,383.3 L193.9,382.5 L194.9,381.7 L195.9,380.9 L196.9,379.9 L197.9,378.9 L198.9,377.8 L199.9,376.6 L200.9,375.4 L201.9,374.1 L202.9,372.7 L203.9,371.3 L204.9,369.8 L205.9,368.3 L206.9,366.8 L207.9,365.4 L208.9,363.9 L209.9,362.5 L210.9,361.2 L211.9,360.0 L212.9,358.9 L213.9,358.1 L214.9,357.5 L215.9,357.1 L216.9,357.0 L217.9,357.3 L218.9,358.0 L219.9,359.1 L220.9,360.8 L221.9,362.7 L222.9,365.0 L223.9,367.4 L224.9,370.0 L225.9,372.5 L226.9,375.1 L227.9,377.6 L228.9,380.0 L229.9,382.4 L230.9,384.5 L231.9,386.6 L232.9,388.5 L233.9,390.2 L234.9,391.8 L235.9,393.3 L236.9,394.7 L237.9,395.9 L238.9,397.1 L239.9,398.2 L240.9,399.2 L241.9,400.1 L242.9,401.0 L243.9,401.8 L244.9,402.6 L245.9,403.4 L246.9,404.3 L247.9,405.1 L248.9,406.0 L249.9,406.8" stroke="#1fb3eb" stroke-width="1.4" fill="none" stroke-linejoin="round"/>
<path d="M62.9,375.9 L63.9,375.9 L64.9,376.0 L65.9,376.0 L66.9,376.1 L67.9,376.1 L68.9,376.2 L69.9,376.2 L70.9,376.3 L71.9,376.3 L72.9,376.4 L73.9,376.4 L74.9,376.5 L75.9,376.5 L76.9,376.6 L77.9,376.7 L78.9,376.7 L79.9,376.8 L80.9,376.9 L81.9,377.0 L82.9,377.0 L83.9,377.1 L84.9,377.2 L85.9,377.3 L86.9,377.4 L87.9,377.5 L88.9,377.6 L89.9,377.7 L90.9,377.8 L91.9,377.9 L92.9,378.0 L93.9,378.1 L94.9,378.2 L95.9,378.3 L96.9,378.5 L97.9,378.6 L98.9,378.7 L99.9,378.8 L100.9,378.9 L101.9,379.0 L102.9,379.2 L103.9,379.3 L104.9,379.4 L105.9,379.5 L106.9,379.7 L107.9,379.8 L108.9,379.9 L109.9,380.0 L110.9,380.1 L111.9,380.3 L112.9,380.4 L113.9,380.5 L114.9,380.6 L115.9,380.8 L116.9,380.9 L117.9,381.0 L118.9,381.1 L119.9,381.2 L120.9,381.4 L121.9,381.5 L122.9,381.6 L123.9,381.8 L124.9,381.9 L125.9,382.0 L126.9,382.1 L127.9,382.3 L128.9,382.4 L129.9,382.5 L130.9,382.7 L131.9,382.8 L132.9,382.9 L133.9,383.1 L134.9,383.2 L135.9,383.4 L136.9,383.5 L137.9,383.6 L138.9,383.8 L139.9,383.9 L140.9,384.1 L141.9,384.2 L142.9,384.3 L143.9,384.5 L144.9,384.8 L145.9,385.0 L146.9,385.3 L147.9,385.6 L148.9,386.0 L149.9,386.3 L150.9,386.6 L151.9,387.0 L152.9,387.3 L153.9,387.7 L154.9,388.0 L155.9,388.3 L156.9,388.5 L157.9,388.7 L158.9,388.9 L159.9,389.0 L160.9,389.1 L161.9,389.1 L162.9,389.2 L163.9,389.3 L164.9,389.3 L165.9,389.4 L166.9,389.5 L167.9,389.5 L168.9,389.6 L169.9,389.6 L170.9,389.7 L171.9,389.8 L172.9,389.8 L173.9,389.9 L174.9,390.0 L175.9,390.0 L176.9,390.1 L177.9,390.2 L178.9,390.3 L179.9,390.3 L180.9,390.4 L181.9,390.5 L182.9,390.6 L183.9,390.6 L184.9,390.7 L185.9,390.8 L186.9,390.9 L187.9,390.9 L188.9,391.0 L189.9,391.1 L190.9,391.2 L191.9,391.2 L192.9,391.3 L193.9,391.4 L194.9,391.5 L195.9,391.6 L196.9,391.7 L197.9,391.8 L198.9,391.9 L199.9,392.0 L200.9,392.2 L201.9,392.3 L202.9,392.5 L203.9,392.6 L204.9,392.8 L205.9,393.0 L206.9,393.1 L207.9,393.3 L208.9,393.5 L209.9,393.7 L210.9,393.9 L211.9,394.1 L212.9,394.3 L213.9,394.5 L214.9,394.8 L215.9,395.0 L216.9,395.2 L217.9,395.5 L218.9,395.8 L219.9,396.0 L220.9,396.3 L221.9,396.6 L222.9,396.9 L223.9,397.2 L224.9,397.5 L225.9,397.8 L226.9,398.1 L227.9,398.5 L228.9,398.8 L229.9,399.1 L230.9,399.5 L231.9,399.8 L232.9,400.2 L233.9,400.5 L234.9,400.9 L235.9,401.3 L236.9,401.7 L237.9,402.1 L238.9,402.6 L239.9,403.0 L240.9,403.5 L241.9,403.9 L242.9,404.4 L243.9,404.9 L244.9,405.4 L245.9,406.0 L246.9,406.6 L247.9,407.3 L248.9,408.0 L249.9,408.7 L250.9,409.3 L251.9,410.0 L252.9,410.6 L253.9,411.2 L254.9,411.7 L255.9,412.3 L256.9,412.8 L257.9,413.3 L258.9,413.8 L259.9,414.2 L260.9,414.6 L261.9,414.9 L262.9,415.1 L263.9,415.3 L264.9,415.5 L265.9,415.6 L266.9,415.7 L267.9,415.8 L268.9,415.9 L269.9,416.0 L270.9,416.1 L271.9,416.1 L272.9,416.2 L273.9,416.2 L274.9,416.2 L275.9,416.3 L276.9,416.3 L277.9,416.3 L278.9,416.3 L279.9,416.3 L280.9,416.2 L281.9,416.2 L282.9,416.2 L283.9,416.2 L284.9,416.2 L285.9,416.3 L286.9,416.4 L287.9,416.5 L288.9,416.7 L289.9,416.9 L290.9,417.1 L291.9,417.3 L292.9,417.5 L293.9,417.7 L294.9,418.0 L295.9,418.3 L296.9,418.5 L297.9,418.8 L298.9,419.1 L299.9,419.4 L300.9,419.7 L301.9,420.0 L302.9,420.3 L303.9,420.6 L304.9,420.9 L305.9,421.2 L306.9,421.6 L307.9,421.9 L308.9,422.3 L309.9,422.6 L310.9,423.0" stroke="#d9405e" stroke-width="1.4" fill="none" stroke-linejoin="round"/>
<text transform="translate(52.60,267.80) scale(0.9259,1)" x="0" y="0" font-family="Liberation Serif" font-weight="bold" font-size="12.64" text-anchor="start" fill="#000" stroke="#000" stroke-width="0.2" >Co 2p</text>
<text transform="translate(52.60,282.60) scale(0.9259,1)" x="0" y="0" font-family="Liberation Serif" font-weight="bold" font-size="12.64" text-anchor="start" fill="#000" stroke="#000" stroke-width="0.2" >Degraded LCO</text>
<text transform="translate(109.30,350.10) scale(0.9259,1)" x="0" y="0" font-family="Liberation Serif" font-weight="bold" font-size="12.42" text-anchor="start" fill="#1ea9e6" stroke="#1ea9e6" stroke-width="0.2" >Sat.</text>
<text transform="translate(207.00,350.50) scale(0.9259,1)" x="0" y="0" font-family="Liberation Serif" font-weight="bold" font-size="12.42" text-anchor="start" fill="#1ea9e6" stroke="#1ea9e6" stroke-width="0.2" >Sat.</text>
<text x="143.1" y="322.6" font-family="Liberation Serif" font-weight="bold" font-size="12" stroke="#000" stroke-width="0.2">2p<tspan font-size="7.8" dy="2.9">1/2</tspan></text>
<text x="243" y="277.5" font-family="Liberation Serif" font-weight="bold" font-size="12" stroke="#000" stroke-width="0.2">2p<tspan font-size="7.8" dy="2.9">3/2</tspan></text>
<text x="257" y="301.3" font-family="Liberation Serif" font-weight="bold" font-size="11.5" fill="#f9dc50" stroke="#f9dc50" stroke-width="0.2">Co<tspan font-size="7.5" dy="-5.5">3+</tspan></text>
<text x="232.7" y="359.9" font-family="Liberation Serif" font-weight="bold" font-size="11.5" fill="#37ad4c" stroke="#37ad4c" stroke-width="0.2">Co<tspan font-size="7.5" dy="-5.5">2+</tspan></text>
<rect x="43.60" y="251.40" width="278.20" height="187.60" fill="none" stroke="#000" stroke-width="1.5"/>
<path d="M74.50,439.00v3.5M136.32,439.00v3.5M198.15,439.00v3.5M259.98,439.00v3.5M321.80,439.00v3.5" stroke="#000" stroke-width="1.2" fill="none"/>
<path d="M105.41,439.00v2M167.24,439.00v2M229.06,439.00v2M290.89,439.00v2" stroke="#000" stroke-width="1.2" fill="none"/>
<text transform="translate(74.50,454.40) scale(0.9259,1)" x="0" y="0" font-family="Liberation Serif" font-weight="bold" font-size="12.42" text-anchor="middle" fill="#000" stroke="#000" stroke-width="0.2" >810</text>
<text transform="translate(136.32,454.40) scale(0.9259,1)" x="0" y="0" font-family="Liberation Serif" font-weight="bold" font-size="12.42" text-anchor="middle" fill="#000" stroke="#000" stroke-width="0.2" >800</text>
<text transform="translate(198.15,454.40) scale(0.9259,1)" x="0" y="0" font-family="Liberation Serif" font-weight="bold" font-size="12.42" text-anchor="middle" fill="#000" stroke="#000" stroke-width="0.2" >790</text>
<text transform="translate(259.98,454.40) scale(0.9259,1)" x="0" y="0" font-family="Liberation Serif" font-weight="bold" font-size="12.42" text-anchor="middle" fill="#000" stroke="#000" stroke-width="0.2" >780</text>
<text transform="translate(321.80,454.40) scale(0.9259,1)" x="0" y="0" font-family="Liberation Serif" font-weight="bold" font-size="12.42" text-anchor="middle" fill="#000" stroke="#000" stroke-width="0.2" >770</text>
<clipPath id="clipc"><rect x="0" y="0" width="345" height="469.8"/></clipPath>
<g clip-path="url(#clipc)">
<text transform="translate(182.70,469.10) scale(0.9259,1)" x="0" y="0" font-family="Liberation Serif" font-weight="bold" font-size="12.74" text-anchor="middle" fill="#000" stroke="#000" stroke-width="0.2" >Binding Energy (eV)</text>
</g>
<text transform="translate(35.20,344.40) rotate(-90) scale(1.0460,1)" x="0" y="0" font-family="Liberation Serif" font-weight="bold" font-size="11.50" text-anchor="middle" stroke="#000" stroke-width="0.2">Intensity (a.u.)</text>
<text transform="translate(2.00,272.80) scale(0.9259,1)" x="0" y="0" font-family="Liberation Serif" font-weight="bold" font-size="22.14" text-anchor="start" fill="#000" stroke="#000" stroke-width="0.2" >(c)</text>
<path d="M411.1,373.2 L411.6,373.2 L412.1,373.2 L412.6,373.1 L413.1,373.1 L413.6,373.1 L414.1,373.1 L414.6,373.0 L415.1,373.0 L415.6,373.0 L416.1,372.9 L416.6,372.9 L417.1,372.9 L417.6,372.9 L418.1,372.8 L418.6,372.8 L419.1,372.8 L419.6,372.7 L420.1,372.7 L420.6,372.7 L421.1,372.6 L421.6,372.6 L422.1,372.5 L422.6,372.5 L423.1,372.5 L423.6,372.4 L424.1,372.4 L424.6,372.3 L425.1,372.3 L425.6,372.2 L426.1,372.1 L426.6,372.1 L427.1,372.0 L427.6,372.0 L428.1,371.9 L428.6,371.8 L429.1,371.7 L429.6,371.7 L430.1,371.6 L430.6,371.5 L431.1,371.4 L431.6,371.3 L432.1,371.3 L432.6,371.2 L433.1,371.1 L433.6,371.0 L434.1,370.9 L434.6,370.8 L435.1,370.7 L435.6,370.5 L436.1,370.4 L436.6,370.3 L437.1,370.2 L437.6,370.1 L438.1,369.9 L438.6,369.8 L439.1,369.7 L439.6,369.5 L440.1,369.4 L440.6,369.2 L441.1,369.1 L441.6,368.9 L442.1,368.8 L442.6,368.6 L443.1,368.5 L443.6,368.3 L444.1,368.1 L444.6,367.9 L445.1,367.8 L445.6,367.6 L446.1,367.4 L446.6,367.2 L447.1,367.0 L447.6,366.7 L448.1,366.5 L448.6,366.3 L449.1,366.0 L449.6,365.7 L450.1,365.4 L450.6,365.1 L451.1,364.8 L451.6,364.5 L452.1,364.1 L452.6,363.7 L453.1,363.4 L453.6,363.0 L454.1,362.6 L454.6,362.1 L455.1,361.7 L455.6,361.3 L456.1,360.8 L456.6,360.4 L457.1,359.9 L457.6,359.4 L458.1,358.9 L458.6,358.4 L459.1,358.0 L459.6,357.5 L460.1,357.0 L460.6,356.5 L461.1,356.1 L461.6,355.6 L462.1,355.2 L462.6,354.8 L463.1,354.4 L463.6,354.1 L464.1,353.8 L464.6,353.5 L465.1,353.3 L465.6,353.1 L466.1,352.9 L466.6,352.8 L467.1,352.6 L467.6,352.6 L468.1,352.5 L468.6,352.5 L469.1,352.5 L469.6,352.6 L470.1,352.6 L470.6,352.7 L471.1,352.9 L471.6,353.0 L472.1,353.2 L472.6,353.5 L473.1,353.8 L473.6,354.2 L474.1,354.6 L474.6,355.1 L475.1,355.7 L475.6,356.3 L476.1,357.0 L476.6,357.6 L477.1,358.3 L477.6,359.0 L478.1,359.7 L478.6,360.4 L479.1,361.1 L479.6,361.7 L480.1,362.2 L480.6,362.8 L481.1,363.3 L481.6,363.7 L482.1,364.2 L482.6,364.5 L483.1,364.9 L483.6,365.1 L484.1,365.4 L484.6,365.6 L485.1,365.7 L485.6,365.8 L486.1,365.9 L486.6,365.9 L487.1,365.9 L487.6,365.8 L488.1,365.6 L488.6,365.4 L489.1,365.2 L489.6,364.8 L490.1,364.4 L490.6,364.0 L491.1,363.5 L491.6,362.8 L492.1,362.2 L492.6,361.4 L493.1,360.6 L493.6,359.7 L494.1,358.7 L494.6,357.7 L495.1,356.7 L495.6,355.7 L496.1,354.7 L496.6,353.7 L497.1,352.6 L497.6,351.5 L498.1,350.4 L498.6,349.3 L499.1,348.2 L499.6,347.1 L500.1,346.0 L500.6,344.8 L501.1,343.6 L501.6,342.4 L502.1,341.3 L502.6,340.1 L503.1,339.0 L503.6,338.0 L504.1,337.0 L504.6,336.1 L505.1,335.3 L505.6,334.6 L506.1,334.0 L506.6,333.6 L507.1,333.3 L507.6,333.1 L508.1,333.2 L508.6,333.3 L509.1,333.7 L509.6,334.1 L510.1,334.8 L510.6,335.6 L511.1,336.5 L511.6,337.6 L512.1,338.9 L512.6,340.3 L513.1,341.9 L513.6,343.6 L514.1,345.5 L514.6,347.4 L515.1,349.5 L515.6,351.6 L516.1,353.8 L516.6,356.1 L517.1,358.4 L517.6,360.7 L518.1,363.1 L518.6,365.4 L519.1,367.7 L519.6,369.9 L520.1,372.0 L520.6,374.1 L521.1,376.0 L521.6,377.8 L522.1,379.4 L522.6,380.8 L523.1,382.1 L523.6,383.2 L524.1,384.1 L524.6,384.9 L525.1,385.5 L525.6,386.1 L526.1,386.5 L526.6,386.9 L527.1,387.2 L527.6,387.5 L528.1,387.7 L528.6,387.9 L529.1,388.1 L529.6,388.3 L530.1,388.5 L530.6,388.6 L531.1,388.7 L531.6,388.8 L532.1,388.9 L532.6,389.0 L533.1,389.1 L533.6,389.1 L534.1,389.1 L534.6,389.2 L535.1,389.2 L535.6,389.1 L536.1,389.1 L536.6,389.1 L537.1,389.0 L537.6,389.0 L538.1,388.9 L538.6,388.8 L539.1,388.7 L539.6,388.6 L540.1,388.5 L540.6,388.4 L541.1,388.2 L541.6,388.1 L542.1,387.9 L542.6,387.8 L543.1,387.6 L543.6,387.4 L544.1,387.3 L544.6,387.1 L545.1,386.9 L545.6,386.7 L546.1,386.4 L546.6,386.2 L547.1,386.0 L547.6,385.8 L548.1,385.5 L548.6,385.2 L549.1,385.0 L549.6,384.7 L550.1,384.4 L550.6,384.1 L551.1,383.7 L551.6,383.4 L552.1,383.0 L552.6,382.7 L553.1,382.3 L553.6,381.9 L554.1,381.5 L554.6,381.1 L555.1,380.6 L555.6,380.2 L556.1,379.7 L556.6,379.3 L557.1,378.8 L557.6,378.3 L558.1,377.8 L558.6,377.2 L559.1,376.7 L559.6,376.1 L560.1,375.6 L560.6,375.0 L561.1,374.4 L561.6,373.8 L562.1,373.1 L562.6,372.5 L563.1,371.8 L563.6,371.1 L564.1,370.4 L564.6,369.7 L565.1,368.9 L565.6,368.2 L566.1,367.4 L566.6,366.6 L567.1,365.9 L567.6,365.2 L568.1,364.6 L568.6,364.0 L569.1,363.5 L569.6,363.1 L570.1,362.8 L570.6,362.6 L571.1,362.4 L571.6,362.4 L572.1,362.4 L572.6,362.5 L573.1,362.7 L573.6,362.9 L574.1,363.1 L574.6,363.4 L575.1,363.7 L575.6,364.0 L576.1,364.3 L576.6,364.6 L577.1,364.9 L577.6,365.2 L578.1,365.4 L578.6,365.6 L579.1,365.7 L579.6,365.8 L580.1,365.8 L580.6,365.8 L581.1,365.7 L581.6,365.5 L582.1,365.1 L582.6,364.7 L583.1,364.2 L583.6,363.6 L584.1,362.9 L584.6,362.0 L585.1,361.1 L585.6,359.9 L586.1,358.7 L586.6,357.3 L587.1,355.9 L587.6,354.4 L588.1,352.8 L588.6,351.2 L589.1,349.6 L589.6,348.0 L590.1,346.4 L590.6,344.9 L591.1,343.4 L591.6,342.0 L592.1,340.6 L592.6,339.4 L593.1,338.2 L593.6,337.0 L594.1,335.7 L594.6,334.3 L595.1,332.7 L595.6,330.9 L596.1,328.9 L596.6,326.6 L597.1,324.0 L597.6,321.3 L598.1,318.5 L598.6,315.6 L599.1,312.8 L599.6,310.0 L600.1,307.2 L600.6,304.5 L601.1,301.7 L601.6,298.9 L602.1,296.0 L602.6,292.9 L603.1,289.7 L603.6,286.6 L604.1,283.6 L604.6,281.1 L605.1,279.2 L605.6,277.9 L606.1,277.2 L606.6,277.0 L607.1,277.3 L607.6,278.3 L608.1,280.0 L608.6,282.5 L609.1,285.6 L609.6,289.5 L610.1,293.9 L610.6,298.6 L611.1,303.5 L611.6,308.4 L612.1,313.6 L612.6,319.4 L613.1,326.0 L613.6,333.6 L614.1,342.1 L614.6,350.7 L615.1,358.9 L615.6,366.0 L616.1,371.7 L616.6,376.2 L617.1,379.6 L617.6,382.3 L618.1,384.5 L618.6,386.6 L619.1,388.8 L619.6,391.0 L620.1,393.3 L620.6,395.5 L621.1,397.6 L621.6,399.5 L622.1,401.3 L622.6,403.0 L623.1,404.4 L623.6,405.7 L624.1,406.8 L624.6,407.8 L625.1,408.7 L625.6,409.5 L626.1,410.3 L626.6,411.0 L627.1,411.6 L627.6,412.2 L628.1,412.8 L628.6,413.3 L629.1,413.9 L629.6,414.3 L630.1,414.8 L630.6,415.2 L631.1,415.6 L631.6,416.0 L632.1,416.3 L632.6,416.7 L633.1,417.0 L633.6,417.3 L634.1,417.6 L634.6,417.9 L635.1,418.2 L635.6,418.4 L636.1,418.6 L636.6,418.9 L637.1,419.1 L637.6,419.3 L638.1,419.5 L638.6,419.7 L639.1,419.8 L639.6,420.0 L640.1,420.2 L640.6,420.3 L641.1,420.5 L641.6,420.6 L642.1,420.7 L642.6,420.9 L643.1,421.0 L643.6,421.1 L644.1,421.2 L644.6,421.3 L645.1,421.4 L645.6,421.5 L646.1,421.6 L646.6,421.7 L647.1,421.8 L647.6,421.8 L648.1,421.9 L648.6,422.0 L649.1,422.1 L649.6,422.1 L650.1,422.2 L650.6,422.2 L651.1,422.3 L651.6,422.4 L652.1,422.4 L652.6,422.5 L653.1,422.5 L653.6,422.6 L654.1,422.6 L654.6,422.7 L655.1,422.7 L655.6,422.8 L656.1,422.8 L656.6,422.9 L657.1,422.9 L657.6,422.9 L658.1,423.0 L658.6,423.0 L659.1,423.1 L659.6,423.1 L660.1,423.2 L660.6,423.2 L661.1,423.3 L661.6,423.3 L662.1,423.4 L662.6,423.4 L663.1,423.5" stroke="#000" stroke-width="1.8" fill="none" stroke-linejoin="round"/>
<path d="M430.0,374.2 L431.0,374.3 L432.0,374.3 L433.0,374.3 L434.0,374.4 L435.0,374.4 L436.0,374.4 L437.0,374.5 L438.0,374.5 L439.0,374.6 L440.0,374.6 L441.0,374.7 L442.0,374.7 L443.0,374.8 L444.0,374.8 L445.0,374.9 L446.0,375.0 L447.0,375.1 L448.0,375.2 L449.0,375.3 L450.0,375.4 L451.0,375.6 L452.0,375.7 L453.0,375.9 L454.0,376.0 L455.0,376.2 L456.0,376.4 L457.0,376.5 L458.0,376.7 L459.0,376.8 L460.0,377.0 L461.0,377.1 L462.0,377.3 L463.0,377.5 L464.0,377.6 L465.0,377.8 L466.0,377.9 L467.0,378.0 L468.0,378.2 L469.0,378.3 L470.0,378.5 L471.0,378.6 L472.0,378.8 L473.0,378.9 L474.0,379.1 L475.0,379.3 L476.0,379.5 L477.0,379.7 L478.0,379.9 L479.0,380.1 L480.0,380.3 L481.0,380.5 L482.0,380.6 L483.0,380.8 L484.0,380.9 L485.0,381.0 L486.0,381.0 L487.0,380.9 L488.0,380.6 L489.0,380.3 L490.0,379.8 L491.0,379.1 L492.0,378.1 L493.0,376.9 L494.0,375.4 L495.0,373.6 L496.0,371.5 L497.0,369.1 L498.0,366.4 L499.0,363.5 L500.0,360.4 L501.0,357.2 L502.0,353.9 L503.0,350.9 L504.0,348.0 L505.0,345.6 L506.0,343.6 L507.0,342.3 L508.0,341.6 L509.0,341.7 L510.0,342.7 L511.0,344.4 L512.0,346.8 L513.0,349.9 L514.0,353.5 L515.0,357.4 L516.0,361.5 L517.0,365.6 L518.0,369.6 L519.0,373.3 L520.0,376.7 L521.0,379.8 L522.0,382.4 L523.0,384.7 L524.0,386.5 L525.0,387.9 L526.0,389.1 L527.0,389.9 L528.0,390.6 L529.0,391.0 L530.0,391.4 L531.0,391.6 L532.0,391.7 L533.0,391.7 L534.0,391.8 L535.0,391.8 L536.0,391.7 L537.0,391.7 L538.0,391.7 L539.0,391.7 L540.0,391.7 L541.0,391.7 L542.0,391.7 L543.0,391.8 L544.0,391.9 L545.0,391.9 L546.0,392.0 L547.0,392.1 L548.0,392.2 L549.0,392.3 L550.0,392.3 L551.0,392.4 L552.0,392.5 L553.0,392.6 L554.0,392.6 L555.0,392.7 L556.0,392.7 L557.0,392.8 L558.0,392.8 L559.0,392.9 L560.0,392.9 L561.0,393.0 L562.0,393.0 L563.0,393.0 L564.0,393.0 L565.0,393.0 L566.0,393.0 L567.0,393.0 L568.0,393.0 L569.0,392.9 L570.0,392.9 L571.0,392.8 L572.0,392.8 L573.0,392.7 L574.0,392.6 L575.0,392.5 L576.0,392.3 L577.0,392.1 L578.0,391.9 L579.0,391.6 L580.0,391.3 L581.0,390.9 L582.0,390.5 L583.0,389.9 L584.0,389.2 L585.0,388.4 L586.0,387.4 L587.0,386.2 L588.0,384.8 L589.0,383.1 L590.0,381.1 L591.0,378.7 L592.0,375.8 L593.0,372.4 L594.0,368.5 L595.0,364.0 L596.0,358.8 L597.0,352.9 L598.0,346.4 L599.0,339.2 L600.0,331.5 L601.0,323.4 L602.0,315.3 L603.0,307.5 L604.0,300.3 L605.0,294.3 L606.0,290.2 L607.0,288.4 L608.0,289.5 L609.0,295.3 L610.0,305.3 L611.0,317.7 L612.0,331.1 L613.0,344.2 L614.0,356.3 L615.0,367.1 L616.0,376.5 L617.0,384.4 L618.0,390.9 L619.0,396.3 L620.0,400.6 L621.0,404.1 L622.0,406.9 L623.0,409.1 L624.0,410.9 L625.0,412.4 L626.0,413.7 L627.0,414.7 L628.0,415.6 L629.0,416.4 L630.0,417.0 L631.0,417.6 L632.0,418.2 L633.0,418.6 L634.0,419.0 L635.0,419.4 L636.0,419.8 L637.0,420.1 L638.0,420.4 L639.0,420.6 L640.0,420.9 L641.0,421.1 L642.0,421.3 L643.0,421.5 L644.0,421.7 L645.0,421.9 L646.0,422.1 L647.0,422.2 L648.0,422.4 L649.0,422.5 L650.0,422.7 L651.0,422.9 L652.0,423.0 L653.0,423.2 L654.0,423.3 L655.0,423.5 L656.0,423.7 L657.0,423.8 L658.0,424.0 L659.0,424.2 L660.0,424.3 L661.0,424.5 L662.0,424.7 L662.0,424.4 L661.0,424.3 L660.0,424.1 L659.0,424.0 L658.0,423.9 L657.0,423.8 L656.0,423.7 L655.0,423.6 L654.0,423.5 L653.0,423.4 L652.0,423.3 L651.0,423.3 L650.0,423.2 L649.0,423.2 L648.0,423.1 L647.0,423.1 L646.0,423.0 L645.0,423.0 L644.0,422.9 L643.0,422.9 L642.0,422.9 L641.0,422.8 L640.0,422.8 L639.0,422.8 L638.0,422.8 L637.0,422.7 L636.0,422.7 L635.0,422.7 L634.0,422.6 L633.0,422.6 L632.0,422.5 L631.0,422.5 L630.0,422.4 L629.0,422.4 L628.0,422.3 L627.0,422.2 L626.0,422.1 L625.0,422.0 L624.0,421.8 L623.0,421.6 L622.0,421.4 L621.0,421.1 L620.0,420.8 L619.0,420.5 L618.0,420.2 L617.0,419.7 L616.0,419.2 L615.0,418.7 L614.0,418.1 L613.0,417.4 L612.0,416.7 L611.0,416.0 L610.0,415.3 L609.0,414.5 L608.0,413.8 L607.0,412.9 L606.0,412.0 L605.0,411.0 L604.0,410.1 L603.0,409.1 L602.0,408.2 L601.0,407.3 L600.0,406.6 L599.0,406.0 L598.0,405.4 L597.0,404.8 L596.0,404.3 L595.0,403.8 L594.0,403.4 L593.0,402.9 L592.0,402.5 L591.0,402.1 L590.0,401.8 L589.0,401.4 L588.0,401.1 L587.0,400.8 L586.0,400.6 L585.0,400.3 L584.0,400.0 L583.0,399.8 L582.0,399.5 L581.0,399.3 L580.0,399.1 L579.0,398.8 L578.0,398.6 L577.0,398.3 L576.0,398.1 L575.0,397.9 L574.0,397.7 L573.0,397.4 L572.0,397.2 L571.0,397.0 L570.0,396.8 L569.0,396.6 L568.0,396.4 L567.0,396.3 L566.0,396.1 L565.0,395.9 L564.0,395.7 L563.0,395.6 L562.0,395.4 L561.0,395.3 L560.0,395.1 L559.0,394.9 L558.0,394.8 L557.0,394.6 L556.0,394.5 L555.0,394.3 L554.0,394.2 L553.0,394.0 L552.0,393.9 L551.0,393.8 L550.0,393.6 L549.0,393.5 L548.0,393.3 L547.0,393.2 L546.0,393.1 L545.0,392.9 L544.0,392.8 L543.0,392.6 L542.0,392.5 L541.0,392.5 L540.0,392.4 L539.0,392.4 L538.0,392.4 L537.0,392.4 L536.0,392.4 L535.0,392.4 L534.0,392.4 L533.0,392.4 L532.0,392.4 L531.0,392.5 L530.0,392.4 L529.0,392.4 L528.0,392.4 L527.0,392.3 L526.0,392.2 L525.0,392.1 L524.0,392.0 L523.0,391.8 L522.0,391.6 L521.0,391.3 L520.0,391.0 L519.0,390.7 L518.0,390.3 L517.0,389.9 L516.0,389.6 L515.0,389.2 L514.0,388.8 L513.0,388.5 L512.0,388.1 L511.0,387.7 L510.0,387.4 L509.0,387.0 L508.0,386.6 L507.0,386.3 L506.0,385.9 L505.0,385.5 L504.0,385.2 L503.0,384.8 L502.0,384.5 L501.0,384.1 L500.0,383.8 L499.0,383.5 L498.0,383.2 L497.0,383.0 L496.0,382.8 L495.0,382.7 L494.0,382.5 L493.0,382.4 L492.0,382.2 L491.0,382.1 L490.0,382.0 L489.0,381.9 L488.0,381.8 L487.0,381.6 L486.0,381.5 L485.0,381.3 L484.0,381.1 L483.0,380.9 L482.0,380.7 L481.0,380.5 L480.0,380.3 L479.0,380.1 L478.0,379.8 L477.0,379.6 L476.0,379.4 L475.0,379.2 L474.0,379.1 L473.0,378.9 L472.0,378.7 L471.0,378.6 L470.0,378.4 L469.0,378.3 L468.0,378.1 L467.0,378.0 L466.0,377.8 L465.0,377.7 L464.0,377.6 L463.0,377.4 L462.0,377.2 L461.0,377.1 L460.0,376.9 L459.0,376.8 L458.0,376.6 L457.0,376.5 L456.0,376.3 L455.0,376.2 L454.0,376.0 L453.0,375.8 L452.0,375.7 L451.0,375.5 L450.0,375.4 L449.0,375.3 L448.0,375.1 L447.0,375.0 L446.0,375.0 L445.0,374.9 L444.0,374.8 L443.0,374.7 L442.0,374.7 L441.0,374.6 L440.0,374.6 L439.0,374.6 L438.0,374.5 L437.0,374.5 L436.0,374.4 L435.0,374.4 L434.0,374.4 L433.0,374.3 L432.0,374.3 L431.0,374.3 L430.0,374.3Z" fill="url(#gy)" fill-opacity="1.0" stroke="none"/>
<path d="M430.0,374.2 L431.0,374.3 L432.0,374.3 L433.0,374.3 L434.0,374.4 L435.0,374.4 L436.0,374.4 L437.0,374.5 L438.0,374.5 L439.0,374.6 L440.0,374.6 L441.0,374.7 L442.0,374.7 L443.0,374.8 L444.0,374.8 L445.0,374.9 L446.0,375.0 L447.0,375.1 L448.0,375.2 L449.0,375.3 L450.0,375.4 L451.0,375.6 L452.0,375.7 L453.0,375.9 L454.0,376.0 L455.0,376.2 L456.0,376.4 L457.0,376.5 L458.0,376.7 L459.0,376.8 L460.0,377.0 L461.0,377.1 L462.0,377.3 L463.0,377.5 L464.0,377.6 L465.0,377.8 L466.0,377.9 L467.0,378.0 L468.0,378.2 L469.0,378.3 L470.0,378.5 L471.0,378.6 L472.0,378.8 L473.0,378.9 L474.0,379.1 L475.0,379.3 L476.0,379.5 L477.0,379.7 L478.0,379.9 L479.0,380.1 L480.0,380.3 L481.0,380.5 L482.0,380.6 L483.0,380.8 L484.0,380.9 L485.0,381.0 L486.0,381.0 L487.0,380.9 L488.0,380.6 L489.0,380.3 L490.0,379.8 L491.0,379.1 L492.0,378.1 L493.0,376.9 L494.0,375.4 L495.0,373.6 L496.0,371.5 L497.0,369.1 L498.0,366.4 L499.0,363.5 L500.0,360.4 L501.0,357.2 L502.0,353.9 L503.0,350.9 L504.0,348.0 L505.0,345.6 L506.0,343.6 L507.0,342.3 L508.0,341.6 L509.0,341.7 L510.0,342.7 L511.0,344.4 L512.0,346.8 L513.0,349.9 L514.0,353.5 L515.0,357.4 L516.0,361.5 L517.0,365.6 L518.0,369.6 L519.0,373.3 L520.0,376.7 L521.0,379.8 L522.0,382.4 L523.0,384.7 L524.0,386.5 L525.0,387.9 L526.0,389.1 L527.0,389.9 L528.0,390.6 L529.0,391.0 L530.0,391.4 L531.0,391.6 L532.0,391.7 L533.0,391.7 L534.0,391.8 L535.0,391.8 L536.0,391.7 L537.0,391.7 L538.0,391.7 L539.0,391.7 L540.0,391.7 L541.0,391.7 L542.0,391.7 L543.0,391.8 L544.0,391.9 L545.0,391.9 L546.0,392.0 L547.0,392.1 L548.0,392.2 L549.0,392.3 L550.0,392.3 L551.0,392.4 L552.0,392.5 L553.0,392.6 L554.0,392.6 L555.0,392.7 L556.0,392.7 L557.0,392.8 L558.0,392.8 L559.0,392.9 L560.0,392.9 L561.0,393.0 L562.0,393.0 L563.0,393.0 L564.0,393.0 L565.0,393.0 L566.0,393.0 L567.0,393.0 L568.0,393.0 L569.0,392.9 L570.0,392.9 L571.0,392.8 L572.0,392.8 L573.0,392.7 L574.0,392.6 L575.0,392.5 L576.0,392.3 L577.0,392.1 L578.0,391.9 L579.0,391.6 L580.0,391.3 L581.0,390.9 L582.0,390.5 L583.0,389.9 L584.0,389.2 L585.0,388.4 L586.0,387.4 L587.0,386.2 L588.0,384.8 L589.0,383.1 L590.0,381.1 L591.0,378.7 L592.0,375.8 L593.0,372.4 L594.0,368.5 L595.0,364.0 L596.0,358.8 L597.0,352.9 L598.0,346.4 L599.0,339.2 L600.0,331.5 L601.0,323.4 L602.0,315.3 L603.0,307.5 L604.0,300.3 L605.0,294.3 L606.0,290.2 L607.0,288.4 L608.0,289.5 L609.0,295.3 L610.0,305.3 L611.0,317.7 L612.0,331.1 L613.0,344.2 L614.0,356.3 L615.0,367.1 L616.0,376.5 L617.0,384.4 L618.0,390.9 L619.0,396.3 L620.0,400.6 L621.0,404.1 L622.0,406.9 L623.0,409.1 L624.0,410.9 L625.0,412.4 L626.0,413.7 L627.0,414.7 L628.0,415.6 L629.0,416.4 L630.0,417.0 L631.0,417.6 L632.0,418.2 L633.0,418.6 L634.0,419.0 L635.0,419.4 L636.0,419.8 L637.0,420.1 L638.0,420.4 L639.0,420.6 L640.0,420.9 L641.0,421.1 L642.0,421.3 L643.0,421.5 L644.0,421.7 L645.0,421.9 L646.0,422.1 L647.0,422.2 L648.0,422.4 L649.0,422.5 L650.0,422.7 L651.0,422.9 L652.0,423.0 L653.0,423.2 L654.0,423.3 L655.0,423.5 L656.0,423.7 L657.0,423.8 L658.0,424.0 L659.0,424.2 L660.0,424.3 L661.0,424.5 L662.0,424.7" stroke="#f8e04c" stroke-width="1.2" fill="none" stroke-linejoin="round"/>
<path d="M458.0,375.9 L459.0,376.1 L460.0,376.2 L461.0,376.3 L462.0,376.4 L463.0,376.6 L464.0,376.7 L465.0,376.8 L466.0,376.9 L467.0,376.9 L468.0,377.0 L469.0,377.1 L470.0,377.1 L471.0,377.1 L472.0,377.1 L473.0,377.1 L474.0,377.1 L475.0,377.0 L476.0,376.9 L477.0,376.8 L478.0,376.6 L479.0,376.3 L480.0,376.0 L481.0,375.6 L482.0,375.1 L483.0,374.5 L484.0,373.9 L485.0,373.2 L486.0,372.4 L487.0,371.6 L488.0,370.8 L489.0,369.9 L490.0,369.1 L491.0,368.3 L492.0,367.6 L493.0,367.1 L494.0,366.7 L495.0,366.5 L496.0,366.6 L497.0,366.9 L498.0,367.3 L499.0,368.0 L500.0,368.8 L501.0,369.7 L502.0,370.8 L503.0,371.9 L504.0,373.0 L505.0,374.2 L506.0,375.4 L507.0,376.6 L508.0,377.8 L509.0,378.9 L510.0,380.0 L511.0,381.1 L512.0,382.1 L513.0,383.0 L514.0,383.9 L515.0,384.7 L516.0,385.5 L517.0,386.3 L518.0,386.9 L519.0,387.5 L520.0,388.1 L521.0,388.6 L522.0,389.1 L523.0,389.4 L524.0,389.7 L525.0,389.9 L526.0,390.1 L527.0,390.2 L528.0,390.3 L529.0,390.4 L530.0,390.4 L531.0,390.4 L532.0,390.4 L533.0,390.4 L534.0,390.3 L535.0,390.3 L536.0,390.2 L537.0,390.2 L538.0,390.2 L539.0,390.1 L540.0,390.1 L541.0,390.1 L542.0,390.1 L543.0,390.2 L544.0,390.2 L545.0,390.3 L546.0,390.3 L547.0,390.4 L548.0,390.4 L549.0,390.5 L550.0,390.5 L551.0,390.5 L552.0,390.6 L553.0,390.6 L554.0,390.6 L555.0,390.6 L556.0,390.6 L557.0,390.5 L558.0,390.5 L559.0,390.5 L560.0,390.4 L561.0,390.3 L562.0,390.2 L563.0,390.1 L564.0,390.0 L565.0,389.8 L566.0,389.6 L567.0,389.4 L568.0,389.2 L569.0,388.9 L570.0,388.6 L571.0,388.3 L572.0,387.9 L573.0,387.5 L574.0,387.0 L575.0,386.5 L576.0,385.9 L577.0,385.2 L578.0,384.4 L579.0,383.6 L580.0,382.7 L581.0,381.7 L582.0,380.6 L583.0,379.4 L584.0,378.2 L585.0,377.0 L586.0,375.7 L587.0,374.4 L588.0,373.3 L589.0,372.2 L590.0,371.4 L591.0,370.9 L592.0,370.6 L593.0,370.7 L594.0,371.3 L595.0,372.6 L596.0,374.6 L597.0,377.1 L598.0,379.9 L599.0,382.8 L600.0,385.7 L601.0,388.6 L602.0,391.4 L603.0,394.1 L604.0,396.6 L605.0,399.0 L606.0,401.2 L607.0,403.2 L608.0,405.0 L609.0,406.6 L610.0,408.0 L611.0,409.4 L612.0,410.7 L613.0,411.9 L614.0,413.0 L615.0,414.0 L616.0,414.9 L617.0,415.7 L618.0,416.4 L619.0,417.0 L620.0,417.5 L621.0,418.0 L622.0,418.5 L623.0,418.9 L624.0,419.2 L625.0,419.5 L626.0,419.8 L627.0,420.0 L628.0,420.2 L629.0,420.4 L630.0,420.6 L631.0,420.7 L632.0,420.9 L633.0,421.0 L634.0,421.1 L635.0,421.2 L636.0,421.3 L637.0,421.4 L638.0,421.5 L639.0,421.6 L640.0,421.6 L641.0,421.7 L642.0,421.8 L643.0,421.9 L644.0,421.9 L645.0,422.0 L646.0,422.1 L647.0,422.2 L648.0,422.2 L649.0,422.3 L650.0,422.4 L651.0,422.5 L652.0,422.6 L653.0,422.7 L654.0,422.8 L655.0,422.9 L656.0,423.0 L657.0,423.1 L658.0,423.3 L659.0,423.4 L660.0,423.5 L661.0,423.7 L662.0,423.8 L663.0,424.0 L663.0,424.5 L662.0,424.4 L661.0,424.3 L660.0,424.1 L659.0,424.0 L658.0,423.9 L657.0,423.8 L656.0,423.7 L655.0,423.6 L654.0,423.5 L653.0,423.4 L652.0,423.3 L651.0,423.3 L650.0,423.2 L649.0,423.2 L648.0,423.1 L647.0,423.1 L646.0,423.0 L645.0,423.0 L644.0,422.9 L643.0,422.9 L642.0,422.9 L641.0,422.8 L640.0,422.8 L639.0,422.8 L638.0,422.8 L637.0,422.7 L636.0,422.7 L635.0,422.7 L634.0,422.6 L633.0,422.6 L632.0,422.5 L631.0,422.5 L630.0,422.4 L629.0,422.4 L628.0,422.3 L627.0,422.2 L626.0,422.1 L625.0,422.0 L624.0,421.8 L623.0,421.6 L622.0,421.4 L621.0,421.1 L620.0,420.8 L619.0,420.5 L618.0,420.2 L617.0,419.7 L616.0,419.2 L615.0,418.7 L614.0,418.1 L613.0,417.4 L612.0,416.7 L611.0,416.0 L610.0,415.3 L609.0,414.5 L608.0,413.8 L607.0,412.9 L606.0,412.0 L605.0,411.0 L604.0,410.1 L603.0,409.1 L602.0,408.2 L601.0,407.3 L600.0,406.6 L599.0,406.0 L598.0,405.4 L597.0,404.8 L596.0,404.3 L595.0,403.8 L594.0,403.4 L593.0,402.9 L592.0,402.5 L591.0,402.1 L590.0,401.8 L589.0,401.4 L588.0,401.1 L587.0,400.8 L586.0,400.6 L585.0,400.3 L584.0,400.0 L583.0,399.8 L582.0,399.5 L581.0,399.3 L580.0,399.1 L579.0,398.8 L578.0,398.6 L577.0,398.3 L576.0,398.1 L575.0,397.9 L574.0,397.7 L573.0,397.4 L572.0,397.2 L571.0,397.0 L570.0,396.8 L569.0,396.6 L568.0,396.4 L567.0,396.3 L566.0,396.1 L565.0,395.9 L564.0,395.7 L563.0,395.6 L562.0,395.4 L561.0,395.3 L560.0,395.1 L559.0,394.9 L558.0,394.8 L557.0,394.6 L556.0,394.5 L555.0,394.3 L554.0,394.2 L553.0,394.0 L552.0,393.9 L551.0,393.8 L550.0,393.6 L549.0,393.5 L548.0,393.3 L547.0,393.2 L546.0,393.1 L545.0,392.9 L544.0,392.8 L543.0,392.6 L542.0,392.5 L541.0,392.5 L540.0,392.4 L539.0,392.4 L538.0,392.4 L537.0,392.4 L536.0,392.4 L535.0,392.4 L534.0,392.4 L533.0,392.4 L532.0,392.4 L531.0,392.5 L530.0,392.4 L529.0,392.4 L528.0,392.4 L527.0,392.3 L526.0,392.2 L525.0,392.1 L524.0,392.0 L523.0,391.8 L522.0,391.6 L521.0,391.3 L520.0,391.0 L519.0,390.7 L518.0,390.3 L517.0,389.9 L516.0,389.6 L515.0,389.2 L514.0,388.8 L513.0,388.5 L512.0,388.1 L511.0,387.7 L510.0,387.4 L509.0,387.0 L508.0,386.6 L507.0,386.3 L506.0,385.9 L505.0,385.5 L504.0,385.2 L503.0,384.8 L502.0,384.5 L501.0,384.1 L500.0,383.8 L499.0,383.5 L498.0,383.2 L497.0,383.0 L496.0,382.8 L495.0,382.7 L494.0,382.5 L493.0,382.4 L492.0,382.2 L491.0,382.1 L490.0,382.0 L489.0,381.9 L488.0,381.8 L487.0,381.6 L486.0,381.5 L485.0,381.3 L484.0,381.1 L483.0,380.9 L482.0,380.7 L481.0,380.5 L480.0,380.3 L479.0,380.1 L478.0,379.8 L477.0,379.6 L476.0,379.4 L475.0,379.2 L474.0,379.1 L473.0,378.9 L472.0,378.7 L471.0,378.6 L470.0,378.4 L469.0,378.3 L468.0,378.1 L467.0,378.0 L466.0,377.8 L465.0,377.7 L464.0,377.6 L463.0,377.4 L462.0,377.2 L461.0,377.1 L460.0,376.9 L459.0,376.8 L458.0,376.6Z" fill="url(#gg)" fill-opacity="1.0" stroke="none"/>
<path d="M458.0,375.9 L459.0,376.1 L460.0,376.2 L461.0,376.3 L462.0,376.4 L463.0,376.6 L464.0,376.7 L465.0,376.8 L466.0,376.9 L467.0,376.9 L468.0,377.0 L469.0,377.1 L470.0,377.1 L471.0,377.1 L472.0,377.1 L473.0,377.1 L474.0,377.1 L475.0,377.0 L476.0,376.9 L477.0,376.8 L478.0,376.6 L479.0,376.3 L480.0,376.0 L481.0,375.6 L482.0,375.1 L483.0,374.5 L484.0,373.9 L485.0,373.2 L486.0,372.4 L487.0,371.6 L488.0,370.8 L489.0,369.9 L490.0,369.1 L491.0,368.3 L492.0,367.6 L493.0,367.1 L494.0,366.7 L495.0,366.5 L496.0,366.6 L497.0,366.9 L498.0,367.3 L499.0,368.0 L500.0,368.8 L501.0,369.7 L502.0,370.8 L503.0,371.9 L504.0,373.0 L505.0,374.2 L506.0,375.4 L507.0,376.6 L508.0,377.8 L509.0,378.9 L510.0,380.0 L511.0,381.1 L512.0,382.1 L513.0,383.0 L514.0,383.9 L515.0,384.7 L516.0,385.5 L517.0,386.3 L518.0,386.9 L519.0,387.5 L520.0,388.1 L521.0,388.6 L522.0,389.1 L523.0,389.4 L524.0,389.7 L525.0,389.9 L526.0,390.1 L527.0,390.2 L528.0,390.3 L529.0,390.4 L530.0,390.4 L531.0,390.4 L532.0,390.4 L533.0,390.4 L534.0,390.3 L535.0,390.3 L536.0,390.2 L537.0,390.2 L538.0,390.2 L539.0,390.1 L540.0,390.1 L541.0,390.1 L542.0,390.1 L543.0,390.2 L544.0,390.2 L545.0,390.3 L546.0,390.3 L547.0,390.4 L548.0,390.4 L549.0,390.5 L550.0,390.5 L551.0,390.5 L552.0,390.6 L553.0,390.6 L554.0,390.6 L555.0,390.6 L556.0,390.6 L557.0,390.5 L558.0,390.5 L559.0,390.5 L560.0,390.4 L561.0,390.3 L562.0,390.2 L563.0,390.1 L564.0,390.0 L565.0,389.8 L566.0,389.6 L567.0,389.4 L568.0,389.2 L569.0,388.9 L570.0,388.6 L571.0,388.3 L572.0,387.9 L573.0,387.5 L574.0,387.0 L575.0,386.5 L576.0,385.9 L577.0,385.2 L578.0,384.4 L579.0,383.6 L580.0,382.7 L581.0,381.7 L582.0,380.6 L583.0,379.4 L584.0,378.2 L585.0,377.0 L586.0,375.7 L587.0,374.4 L588.0,373.3 L589.0,372.2 L590.0,371.4 L591.0,370.9 L592.0,370.6 L593.0,370.7 L594.0,371.3 L595.0,372.6 L596.0,374.6 L597.0,377.1 L598.0,379.9 L599.0,382.8 L600.0,385.7 L601.0,388.6 L602.0,391.4 L603.0,394.1 L604.0,396.6 L605.0,399.0 L606.0,401.2 L607.0,403.2 L608.0,405.0 L609.0,406.6 L610.0,408.0 L611.0,409.4 L612.0,410.7 L613.0,411.9 L614.0,413.0 L615.0,414.0 L616.0,414.9 L617.0,415.7 L618.0,416.4 L619.0,417.0 L620.0,417.5 L621.0,418.0 L622.0,418.5 L623.0,418.9 L624.0,419.2 L625.0,419.5 L626.0,419.8 L627.0,420.0 L628.0,420.2 L629.0,420.4 L630.0,420.6 L631.0,420.7 L632.0,420.9 L633.0,421.0 L634.0,421.1 L635.0,421.2 L636.0,421.3 L637.0,421.4 L638.0,421.5 L639.0,421.6 L640.0,421.6 L641.0,421.7 L642.0,421.8 L643.0,421.9 L644.0,421.9 L645.0,422.0 L646.0,422.1 L647.0,422.2 L648.0,422.2 L649.0,422.3 L650.0,422.4 L651.0,422.5 L652.0,422.6 L653.0,422.7 L654.0,422.8 L655.0,422.9 L656.0,423.0 L657.0,423.1 L658.0,423.3 L659.0,423.4 L660.0,423.5 L661.0,423.7 L662.0,423.8 L663.0,424.0" stroke="#3db24e" stroke-width="1.3" fill="none" stroke-linejoin="round"/>
<path d="M411.1,373.2 L412.1,373.1 L413.1,373.1 L414.1,373.0 L415.1,373.0 L416.1,372.9 L417.1,372.9 L418.1,372.8 L419.1,372.8 L420.1,372.7 L421.1,372.7 L422.1,372.6 L423.1,372.6 L424.1,372.5 L425.1,372.5 L426.1,372.4 L427.1,372.3 L428.1,372.3 L429.1,372.2 L430.1,372.1 L431.1,372.0 L432.1,371.9 L433.1,371.8 L434.1,371.6 L435.1,371.5 L436.1,371.3 L437.1,371.1 L438.1,370.9 L439.1,370.7 L440.1,370.4 L441.1,370.2 L442.1,369.9 L443.1,369.5 L444.1,369.2 L445.1,368.8 L446.1,368.4 L447.1,367.9 L448.1,367.4 L449.1,366.9 L450.1,366.4 L451.1,365.9 L452.1,365.3 L453.1,364.6 L454.1,363.9 L455.1,363.2 L456.1,362.5 L457.1,361.7 L458.1,360.9 L459.1,360.1 L460.1,359.3 L461.1,358.5 L462.1,357.7 L463.1,356.9 L464.1,356.2 L465.1,355.6 L466.1,355.0 L467.1,354.6 L468.1,354.2 L469.1,354.0 L470.1,354.0 L471.1,354.1 L472.1,354.6 L473.1,355.4 L474.1,356.5 L475.1,357.8 L476.1,359.3 L477.1,360.9 L478.1,362.5 L479.1,364.2 L480.1,365.8 L481.1,367.4 L482.1,368.9 L483.1,370.3 L484.1,371.6 L485.1,372.9 L486.1,374.0 L487.1,375.0 L488.1,375.9 L489.1,376.7 L490.1,377.4 L491.1,378.0 L492.1,378.6 L493.1,379.1 L494.1,379.6 L495.1,380.0 L496.1,380.5 L497.1,380.9 L498.1,381.3 L499.1,381.8 L500.1,382.2 L501.1,382.7 L502.1,383.1 L503.1,383.6 L504.1,384.0 L505.1,384.5 L506.1,384.9 L507.1,385.3 L508.1,385.7 L509.1,386.2 L510.1,386.6 L511.1,387.0 L512.1,387.4 L513.1,387.8 L514.1,388.1 L515.1,388.5 L516.1,388.9 L517.1,389.3 L518.1,389.7 L519.1,390.0 L520.1,390.3 L521.1,390.6 L522.1,390.9 L523.1,391.1 L524.1,391.3 L525.1,391.4 L526.1,391.5 L527.1,391.5 L528.1,391.5 L529.1,391.5 L530.1,391.5 L531.1,391.4 L532.1,391.3 L533.1,391.2 L534.1,391.1 L535.1,391.0 L536.1,390.8 L537.1,390.7 L538.1,390.5 L539.1,390.4 L540.1,390.2 L541.1,390.0 L542.1,389.8 L543.1,389.6 L544.1,389.4 L545.1,389.2 L546.1,388.9 L547.1,388.5 L548.1,388.1 L549.1,387.6 L550.1,387.1 L551.1,386.5 L552.1,385.8 L553.1,385.0 L554.1,384.2 L555.1,383.2 L556.1,382.2 L557.1,381.2 L558.1,380.0 L559.1,378.8 L560.1,377.5 L561.1,376.3 L562.1,375.0 L563.1,373.8 L564.1,372.7 L565.1,371.7 L566.1,370.8 L567.1,370.3 L568.1,369.9 L569.1,369.9 L570.1,370.2 L571.1,371.0 L572.1,372.1 L573.1,373.6 L574.1,375.2 L575.1,377.1 L576.1,379.0 L577.1,380.9 L578.1,382.8 L579.1,384.7 L580.1,386.4 L581.1,388.1 L582.1,389.7 L583.1,391.1 L584.1,392.5 L585.1,393.7 L586.1,394.9 L587.1,396.0 L588.1,396.9 L589.1,397.9 L590.1,398.8 L591.1,399.6 L592.1,400.4 L593.1,401.2 L594.1,401.9 L595.1,402.7 L596.1,403.4 L597.1,404.1 L598.1,404.9 L599.1,405.7 L600.1,406.5 L601.1,407.4 L602.1,408.3 L603.1,409.4 L604.1,410.4 L605.1,411.5 L606.1,412.6 L607.1,413.6 L608.1,414.5 L609.1,415.4 L610.1,416.2 L611.1,417.0 L612.1,417.8 L612.1,416.8 L611.1,416.1 L610.1,415.4 L609.1,414.6 L608.1,413.9 L607.1,413.0 L606.1,412.1 L605.1,411.1 L604.1,410.1 L603.1,409.2 L602.1,408.3 L601.1,407.4 L600.1,406.7 L599.1,406.0 L598.1,405.4 L597.1,404.9 L596.1,404.4 L595.1,403.9 L594.1,403.4 L593.1,403.0 L592.1,402.5 L591.1,402.2 L590.1,401.8 L589.1,401.5 L588.1,401.1 L587.1,400.9 L586.1,400.6 L585.1,400.3 L584.1,400.1 L583.1,399.8 L582.1,399.6 L581.1,399.3 L580.1,399.1 L579.1,398.8 L578.1,398.6 L577.1,398.4 L576.1,398.1 L575.1,397.9 L574.1,397.7 L573.1,397.5 L572.1,397.2 L571.1,397.0 L570.1,396.8 L569.1,396.6 L568.1,396.4 L567.1,396.3 L566.1,396.1 L565.1,395.9 L564.1,395.8 L563.1,395.6 L562.1,395.4 L561.1,395.3 L560.1,395.1 L559.1,395.0 L558.1,394.8 L557.1,394.6 L556.1,394.5 L555.1,394.3 L554.1,394.2 L553.1,394.1 L552.1,393.9 L551.1,393.8 L550.1,393.6 L549.1,393.5 L548.1,393.3 L547.1,393.2 L546.1,393.1 L545.1,392.9 L544.1,392.8 L543.1,392.7 L542.1,392.6 L541.1,392.5 L540.1,392.4 L539.1,392.4 L538.1,392.4 L537.1,392.4 L536.1,392.4 L535.1,392.4 L534.1,392.4 L533.1,392.4 L532.1,392.4 L531.1,392.5 L530.1,392.4 L529.1,392.4 L528.1,392.4 L527.1,392.3 L526.1,392.3 L525.1,392.1 L524.1,392.0 L523.1,391.8 L522.1,391.6 L521.1,391.3 L520.1,391.0 L519.1,390.7 L518.1,390.3 L517.1,390.0 L516.1,389.6 L515.1,389.2 L514.1,388.9 L513.1,388.5 L512.1,388.1 L511.1,387.8 L510.1,387.4 L509.1,387.0 L508.1,386.7 L507.1,386.3 L506.1,385.9 L505.1,385.6 L504.1,385.2 L503.1,384.9 L502.1,384.5 L501.1,384.2 L500.1,383.8 L499.1,383.5 L498.1,383.3 L497.1,383.0 L496.1,382.8 L495.1,382.7 L494.1,382.5 L493.1,382.4 L492.1,382.3 L491.1,382.1 L490.1,382.0 L489.1,381.9 L488.1,381.8 L487.1,381.6 L486.1,381.5 L485.1,381.3 L484.1,381.1 L483.1,380.9 L482.1,380.7 L481.1,380.5 L480.1,380.3 L479.1,380.1 L478.1,379.9 L477.1,379.7 L476.1,379.5 L475.1,379.3 L474.1,379.1 L473.1,378.9 L472.1,378.7 L471.1,378.6 L470.1,378.4 L469.1,378.3 L468.1,378.1 L467.1,378.0 L466.1,377.9 L465.1,377.7 L464.1,377.6 L463.1,377.4 L462.1,377.3 L461.1,377.1 L460.1,377.0 L459.1,376.8 L458.1,376.6 L457.1,376.5 L456.1,376.3 L455.1,376.2 L454.1,376.0 L453.1,375.9 L452.1,375.7 L451.1,375.6 L450.1,375.4 L449.1,375.3 L448.1,375.2 L447.1,375.1 L446.1,375.0 L445.1,374.9 L444.1,374.8 L443.1,374.8 L442.1,374.7 L441.1,374.7 L440.1,374.6 L439.1,374.6 L438.1,374.5 L437.1,374.5 L436.1,374.4 L435.1,374.4 L434.1,374.4 L433.1,374.3 L432.1,374.3 L431.1,374.3 L430.1,374.3 L429.1,374.2 L428.1,374.2 L427.1,374.2 L426.1,374.2 L425.1,374.2 L424.1,374.1 L423.1,374.1 L422.1,374.1 L421.1,374.1 L420.1,374.1 L419.1,374.1 L418.1,374.1 L417.1,374.1 L416.1,374.1 L415.1,374.1 L414.1,374.2 L413.1,374.2 L412.1,374.2 L411.1,374.2Z" fill="url(#gb)" fill-opacity="1.0" stroke="none"/>
<path d="M411.1,373.2 L412.1,373.1 L413.1,373.1 L414.1,373.0 L415.1,373.0 L416.1,372.9 L417.1,372.9 L418.1,372.8 L419.1,372.8 L420.1,372.7 L421.1,372.7 L422.1,372.6 L423.1,372.6 L424.1,372.5 L425.1,372.5 L426.1,372.4 L427.1,372.3 L428.1,372.3 L429.1,372.2 L430.1,372.1 L431.1,372.0 L432.1,371.9 L433.1,371.8 L434.1,371.6 L435.1,371.5 L436.1,371.3 L437.1,371.1 L438.1,370.9 L439.1,370.7 L440.1,370.4 L441.1,370.2 L442.1,369.9 L443.1,369.5 L444.1,369.2 L445.1,368.8 L446.1,368.4 L447.1,367.9 L448.1,367.4 L449.1,366.9 L450.1,366.4 L451.1,365.9 L452.1,365.3 L453.1,364.6 L454.1,363.9 L455.1,363.2 L456.1,362.5 L457.1,361.7 L458.1,360.9 L459.1,360.1 L460.1,359.3 L461.1,358.5 L462.1,357.7 L463.1,356.9 L464.1,356.2 L465.1,355.6 L466.1,355.0 L467.1,354.6 L468.1,354.2 L469.1,354.0 L470.1,354.0 L471.1,354.1 L472.1,354.6 L473.1,355.4 L474.1,356.5 L475.1,357.8 L476.1,359.3 L477.1,360.9 L478.1,362.5 L479.1,364.2 L480.1,365.8 L481.1,367.4 L482.1,368.9 L483.1,370.3 L484.1,371.6 L485.1,372.9 L486.1,374.0 L487.1,375.0 L488.1,375.9 L489.1,376.7 L490.1,377.4 L491.1,378.0 L492.1,378.6 L493.1,379.1 L494.1,379.6 L495.1,380.0 L496.1,380.5 L497.1,380.9 L498.1,381.3 L499.1,381.8 L500.1,382.2 L501.1,382.7 L502.1,383.1 L503.1,383.6 L504.1,384.0 L505.1,384.5 L506.1,384.9 L507.1,385.3 L508.1,385.7 L509.1,386.2 L510.1,386.6 L511.1,387.0 L512.1,387.4 L513.1,387.8 L514.1,388.1 L515.1,388.5 L516.1,388.9 L517.1,389.3 L518.1,389.7 L519.1,390.0 L520.1,390.3 L521.1,390.6 L522.1,390.9 L523.1,391.1 L524.1,391.3 L525.1,391.4 L526.1,391.5 L527.1,391.5 L528.1,391.5 L529.1,391.5 L530.1,391.5 L531.1,391.4 L532.1,391.3 L533.1,391.2 L534.1,391.1 L535.1,391.0 L536.1,390.8 L537.1,390.7 L538.1,390.5 L539.1,390.4 L540.1,390.2 L541.1,390.0 L542.1,389.8 L543.1,389.6 L544.1,389.4 L545.1,389.2 L546.1,388.9 L547.1,388.5 L548.1,388.1 L549.1,387.6 L550.1,387.1 L551.1,386.5 L552.1,385.8 L553.1,385.0 L554.1,384.2 L555.1,383.2 L556.1,382.2 L557.1,381.2 L558.1,380.0 L559.1,378.8 L560.1,377.5 L561.1,376.3 L562.1,375.0 L563.1,373.8 L564.1,372.7 L565.1,371.7 L566.1,370.8 L567.1,370.3 L568.1,369.9 L569.1,369.9 L570.1,370.2 L571.1,371.0 L572.1,372.1 L573.1,373.6 L574.1,375.2 L575.1,377.1 L576.1,379.0 L577.1,380.9 L578.1,382.8 L579.1,384.7 L580.1,386.4 L581.1,388.1 L582.1,389.7 L583.1,391.1 L584.1,392.5 L585.1,393.7 L586.1,394.9 L587.1,396.0 L588.1,396.9 L589.1,397.9 L590.1,398.8 L591.1,399.6 L592.1,400.4 L593.1,401.2 L594.1,401.9 L595.1,402.7 L596.1,403.4 L597.1,404.1 L598.1,404.9 L599.1,405.7 L600.1,406.5 L601.1,407.4 L602.1,408.3 L603.1,409.4 L604.1,410.4 L605.1,411.5 L606.1,412.6 L607.1,413.6 L608.1,414.5 L609.1,415.4 L610.1,416.2 L611.1,417.0 L612.1,417.8" stroke="#1fb3eb" stroke-width="1.4" fill="none" stroke-linejoin="round"/>
<path d="M411.1,374.2 L412.1,374.2 L413.1,374.2 L414.1,374.2 L415.1,374.1 L416.1,374.1 L417.1,374.1 L418.1,374.1 L419.1,374.1 L420.1,374.1 L421.1,374.1 L422.1,374.1 L423.1,374.1 L424.1,374.1 L425.1,374.2 L426.1,374.2 L427.1,374.2 L428.1,374.2 L429.1,374.2 L430.1,374.3 L431.1,374.3 L432.1,374.3 L433.1,374.3 L434.1,374.4 L435.1,374.4 L436.1,374.4 L437.1,374.5 L438.1,374.5 L439.1,374.6 L440.1,374.6 L441.1,374.7 L442.1,374.7 L443.1,374.8 L444.1,374.8 L445.1,374.9 L446.1,375.0 L447.1,375.1 L448.1,375.2 L449.1,375.3 L450.1,375.4 L451.1,375.6 L452.1,375.7 L453.1,375.9 L454.1,376.0 L455.1,376.2 L456.1,376.3 L457.1,376.5 L458.1,376.6 L459.1,376.8 L460.1,377.0 L461.1,377.1 L462.1,377.3 L463.1,377.4 L464.1,377.6 L465.1,377.7 L466.1,377.9 L467.1,378.0 L468.1,378.1 L469.1,378.3 L470.1,378.4 L471.1,378.6 L472.1,378.7 L473.1,378.9 L474.1,379.1 L475.1,379.3 L476.1,379.5 L477.1,379.7 L478.1,379.9 L479.1,380.1 L480.1,380.3 L481.1,380.5 L482.1,380.7 L483.1,380.9 L484.1,381.1 L485.1,381.3 L486.1,381.5 L487.1,381.6 L488.1,381.8 L489.1,381.9 L490.1,382.0 L491.1,382.1 L492.1,382.3 L493.1,382.4 L494.1,382.5 L495.1,382.7 L496.1,382.8 L497.1,383.0 L498.1,383.3 L499.1,383.5 L500.1,383.8 L501.1,384.2 L502.1,384.5 L503.1,384.9 L504.1,385.2 L505.1,385.6 L506.1,385.9 L507.1,386.3 L508.1,386.7 L509.1,387.0 L510.1,387.4 L511.1,387.8 L512.1,388.1 L513.1,388.5 L514.1,388.9 L515.1,389.2 L516.1,389.6 L517.1,390.0 L518.1,390.3 L519.1,390.7 L520.1,391.0 L521.1,391.3 L522.1,391.6 L523.1,391.8 L524.1,392.0 L525.1,392.1 L526.1,392.3 L527.1,392.3 L528.1,392.4 L529.1,392.4 L530.1,392.4 L531.1,392.5 L532.1,392.4 L533.1,392.4 L534.1,392.4 L535.1,392.4 L536.1,392.4 L537.1,392.4 L538.1,392.4 L539.1,392.4 L540.1,392.4 L541.1,392.5 L542.1,392.6 L543.1,392.7 L544.1,392.8 L545.1,392.9 L546.1,393.1 L547.1,393.2 L548.1,393.3 L549.1,393.5 L550.1,393.6 L551.1,393.8 L552.1,393.9 L553.1,394.1 L554.1,394.2 L555.1,394.3 L556.1,394.5 L557.1,394.6 L558.1,394.8 L559.1,395.0 L560.1,395.1 L561.1,395.3 L562.1,395.4 L563.1,395.6 L564.1,395.8 L565.1,395.9 L566.1,396.1 L567.1,396.3 L568.1,396.4 L569.1,396.6 L570.1,396.8 L571.1,397.0 L572.1,397.2 L573.1,397.5 L574.1,397.7 L575.1,397.9 L576.1,398.1 L577.1,398.4 L578.1,398.6 L579.1,398.8 L580.1,399.1 L581.1,399.3 L582.1,399.6 L583.1,399.8 L584.1,400.1 L585.1,400.3 L586.1,400.6 L587.1,400.9 L588.1,401.1 L589.1,401.5 L590.1,401.8 L591.1,402.2 L592.1,402.5 L593.1,403.0 L594.1,403.4 L595.1,403.9 L596.1,404.4 L597.1,404.9 L598.1,405.4 L599.1,406.0 L600.1,406.7 L601.1,407.4 L602.1,408.3 L603.1,409.2 L604.1,410.1 L605.1,411.1 L606.1,412.1 L607.1,413.0 L608.1,413.9 L609.1,414.6 L610.1,415.4 L611.1,416.1 L612.1,416.8 L613.1,417.5 L614.1,418.1 L615.1,418.8 L616.1,419.3 L617.1,419.8 L618.1,420.2 L619.1,420.6 L620.1,420.9 L621.1,421.2 L622.1,421.4 L623.1,421.6 L624.1,421.8 L625.1,422.0 L626.1,422.1 L627.1,422.2 L628.1,422.3 L629.1,422.4 L630.1,422.4 L631.1,422.5 L632.1,422.5 L633.1,422.6 L634.1,422.6 L635.1,422.7 L636.1,422.7 L637.1,422.7 L638.1,422.8 L639.1,422.8 L640.1,422.8 L641.1,422.9 L642.1,422.9 L643.1,422.9 L644.1,422.9 L645.1,423.0 L646.1,423.0 L647.1,423.1 L648.1,423.1 L649.1,423.2 L650.1,423.2 L651.1,423.3 L652.1,423.4 L653.1,423.4 L654.1,423.5 L655.1,423.6 L656.1,423.7 L657.1,423.8 L658.1,423.9 L659.1,424.0 L660.1,424.1 L661.1,424.3 L662.1,424.4 L663.1,424.5" stroke="#d9405e" stroke-width="1.4" fill="none" stroke-linejoin="round"/>
<text transform="translate(406.50,268.60) scale(0.9259,1)" x="0" y="0" font-family="Liberation Serif" font-weight="bold" font-size="12.64" text-anchor="start" fill="#000" stroke="#000" stroke-width="0.2" >Co 2p</text>
<text transform="translate(406.50,282.70) scale(0.9259,1)" x="0" y="0" font-family="Liberation Serif" font-weight="bold" font-size="12.64" text-anchor="start" fill="#000" stroke="#000" stroke-width="0.2" >Regenerated LCO</text>
<text transform="translate(460.70,350.70) scale(0.9259,1)" x="0" y="0" font-family="Liberation Serif" font-weight="bold" font-size="12.42" text-anchor="start" fill="#1ea9e6" stroke="#1ea9e6" stroke-width="0.2" >Sat.</text>
<text transform="translate(561.50,359.90) scale(0.9259,1)" x="0" y="0" font-family="Liberation Serif" font-weight="bold" font-size="12.42" text-anchor="start" fill="#1ea9e6" stroke="#1ea9e6" stroke-width="0.2" >Sat.</text>
<text x="498.8" y="321.3" font-family="Liberation Serif" font-weight="bold" font-size="12" stroke="#000" stroke-width="0.2">2p<tspan font-size="7.8" dy="2.9">1/2</tspan></text>
<text x="596.6" y="268.3" font-family="Liberation Serif" font-weight="bold" font-size="12" stroke="#000" stroke-width="0.2">2p<tspan font-size="7.8" dy="2.9">3/2</tspan></text>
<text x="612" y="297.7" font-family="Liberation Serif" font-weight="bold" font-size="11.5" fill="#f9dc50" stroke="#f9dc50" stroke-width="0.2">Co<tspan font-size="7.5" dy="-5.5">3+</tspan></text>
<text x="590" y="366.2" font-family="Liberation Serif" font-weight="bold" font-size="11.5" fill="#37ad4c" stroke="#37ad4c" stroke-width="0.2">Co<tspan font-size="7.5" dy="-5.5">2+</tspan></text>
<rect x="397.80" y="252.70" width="277.70" height="187.40" fill="none" stroke="#000" stroke-width="1.5"/>
<path d="M428.20,440.10v3.5M490.02,440.10v3.5M551.85,440.10v3.5M613.67,440.10v3.5M675.50,440.10v3.5" stroke="#000" stroke-width="1.2" fill="none"/>
<path d="M459.11,440.10v2M520.94,440.10v2M582.76,440.10v2M644.59,440.10v2" stroke="#000" stroke-width="1.2" fill="none"/>
<text transform="translate(428.20,455.20) scale(0.9259,1)" x="0" y="0" font-family="Liberation Serif" font-weight="bold" font-size="12.42" text-anchor="middle" fill="#000" stroke="#000" stroke-width="0.2" >810</text>
<text transform="translate(490.02,455.20) scale(0.9259,1)" x="0" y="0" font-family="Liberation Serif" font-weight="bold" font-size="12.42" text-anchor="middle" fill="#000" stroke="#000" stroke-width="0.2" >800</text>
<text transform="translate(551.85,455.20) scale(0.9259,1)" x="0" y="0" font-family="Liberation Serif" font-weight="bold" font-size="12.42" text-anchor="middle" fill="#000" stroke="#000" stroke-width="0.2" >790</text>
<text transform="translate(613.67,455.20) scale(0.9259,1)" x="0" y="0" font-family="Liberation Serif" font-weight="bold" font-size="12.42" text-anchor="middle" fill="#000" stroke="#000" stroke-width="0.2" >780</text>
<text transform="translate(675.50,455.20) scale(0.9259,1)" x="0" y="0" font-family="Liberation Serif" font-weight="bold" font-size="12.42" text-anchor="middle" fill="#000" stroke="#000" stroke-width="0.2" >770</text>
<text transform="translate(536.65,468.50) scale(0.9259,1)" x="0" y="0" font-family="Liberation Serif" font-weight="bold" font-size="12.80" text-anchor="middle" fill="#000" stroke="#000" stroke-width="0.2" >Binding Energy (eV)</text>
<text transform="translate(389.70,345.00) rotate(-90) scale(1.0630,1)" x="0" y="0" font-family="Liberation Serif" font-weight="bold" font-size="11.50" text-anchor="middle" stroke="#000" stroke-width="0.2">Intensity (a.u.)</text>
<text transform="translate(352.90,272.50) scale(0.9259,1)" x="0" y="0" font-family="Liberation Serif" font-weight="bold" font-size="22.14" text-anchor="start" fill="#000" stroke="#000" stroke-width="0.2" >(d)</text>
<path d="M42.9,659.3 L43.9,659.3 L44.9,659.3 L45.9,659.3 L46.9,659.3 L47.9,659.3 L48.9,659.3 L49.9,659.3 L50.9,659.3 L51.9,659.3 L52.9,659.3 L53.9,659.3 L54.9,659.3 L55.9,659.3 L56.9,659.3 L57.9,659.3 L58.9,659.3 L59.9,659.2 L60.9,659.2 L61.9,659.2 L62.9,659.2 L63.9,659.2 L64.9,659.2 L65.9,659.2 L66.9,659.2 L67.9,659.2 L68.9,659.2 L69.9,659.2 L70.9,659.1 L71.9,659.1 L72.9,659.1 L73.9,659.1 L74.9,659.1 L75.9,659.1 L76.9,659.1 L77.9,659.0 L78.9,659.0 L79.9,659.0 L80.9,659.0 L81.9,658.9 L82.9,658.9 L83.9,658.9 L84.9,658.8 L85.9,658.8 L86.9,658.8 L87.9,658.7 L88.9,658.7 L89.9,658.6 L90.9,658.5 L91.9,658.5 L92.9,658.4 L93.9,658.3 L94.9,658.2 L95.9,658.2 L96.9,658.1 L97.9,657.9 L98.9,657.8 L99.9,657.7 L100.9,657.5 L101.9,657.4 L102.9,657.2 L103.9,657.0 L104.9,656.9 L105.9,656.6 L106.9,656.4 L107.9,656.2 L108.9,655.9 L109.9,655.6 L110.9,655.3 L111.9,655.0 L112.9,654.6 L113.9,654.2 L114.9,653.8 L115.9,653.3 L116.9,652.9 L117.9,652.3 L118.9,651.8 L119.9,651.2 L120.9,650.6 L121.9,649.9 L122.9,649.2 L123.9,648.4 L124.9,647.6 L125.9,646.8 L126.9,645.9 L127.9,644.9 L128.9,643.9 L129.9,642.8 L130.9,641.7 L131.9,640.5 L132.9,639.2 L133.9,637.9 L134.9,636.5 L135.9,635.0 L136.9,633.5 L137.9,631.9 L138.9,630.2 L139.9,628.4 L140.9,626.6 L141.9,624.7 L142.9,622.7 L143.9,620.6 L144.9,618.5 L145.9,616.3 L146.9,614.0 L147.9,611.6 L148.9,609.2 L149.9,606.7 L150.9,604.2 L151.9,601.5 L152.9,598.9 L153.9,596.1 L154.9,593.3 L155.9,590.5 L156.9,587.6 L157.9,584.6 L158.9,581.6 L159.9,578.6 L160.9,575.6 L161.9,572.5 L162.9,569.5 L163.9,566.4 L164.9,563.3 L165.9,560.3 L166.9,557.2 L167.9,554.2 L168.9,551.2 L169.9,548.3 L170.9,545.4 L171.9,542.6 L172.9,539.8 L173.9,537.2 L174.9,534.6 L175.9,532.1 L176.9,529.8 L177.9,527.5 L178.9,525.4 L179.9,523.3 L180.9,521.4 L181.9,519.7 L182.9,518.1 L183.9,516.6 L184.9,515.3 L185.9,514.2 L186.9,513.2 L187.9,512.5 L188.9,511.9 L189.9,511.5 L190.9,511.3 L191.9,511.3 L192.9,511.5 L193.9,512.0 L194.9,512.6 L195.9,513.5 L196.9,514.7 L197.9,516.2 L198.9,518.0 L199.9,520.0 L200.9,522.3 L201.9,524.8 L202.9,527.5 L203.9,530.5 L204.9,533.6 L205.9,536.8 L206.9,540.3 L207.9,543.8 L208.9,547.5 L209.9,551.2 L210.9,555.0 L211.9,558.9 L212.9,562.8 L213.9,566.8 L214.9,570.7 L215.9,574.6 L216.9,578.5 L217.9,582.3 L218.9,586.1 L219.9,589.9 L220.9,593.5 L221.9,597.1 L222.9,600.5 L223.9,603.9 L224.9,607.1 L225.9,610.3 L226.9,613.3 L227.9,616.2 L228.9,619.0 L229.9,621.6 L230.9,624.1 L231.9,626.5 L232.9,628.8 L233.9,630.9 L234.9,633.0 L235.9,634.9 L236.9,636.7 L237.9,638.3 L238.9,639.9 L239.9,641.4 L240.9,642.8 L241.9,644.0 L242.9,645.2 L243.9,646.3 L244.9,647.4 L245.9,648.3 L246.9,649.2 L247.9,650.0 L248.9,650.8 L249.9,651.5 L250.9,652.1 L251.9,652.7 L252.9,653.3 L253.9,653.8 L254.9,654.3 L255.9,654.7 L256.9,655.1 L257.9,655.5 L258.9,655.8 L259.9,656.1 L260.9,656.4 L261.9,656.7 L262.9,656.9 L263.9,657.2 L264.9,657.4 L265.9,657.6 L266.9,657.8 L267.9,658.0 L268.9,658.1 L269.9,658.3 L270.9,658.4 L271.9,658.6 L272.9,658.7 L273.9,658.9 L274.9,659.0 L275.9,659.1 L276.9,659.3 L277.9,659.4 L278.9,659.5 L279.9,659.6 L280.9,659.7 L281.9,659.8 L282.9,660.0 L283.9,660.1 L284.9,660.2 L285.9,660.3 L286.9,660.4 L287.9,660.5 L288.9,660.6 L289.9,660.7 L290.9,660.8 L291.9,660.8 L292.9,660.9 L293.9,661.0 L294.9,661.1 L295.9,661.2 L296.9,661.3 L297.9,661.3 L298.9,661.4 L299.9,661.5 L300.9,661.6 L301.9,661.6 L302.9,661.7 L303.9,661.7 L304.9,661.8 L305.9,661.9 L306.9,661.9 L307.9,662.0 L308.9,662.0 L309.9,662.1 L310.9,662.1 L311.9,662.2 L312.9,662.2 L313.9,662.2 L314.9,662.3 L315.9,662.3 L316.9,662.3 L317.9,662.4 L318.9,662.4" stroke="#404040" stroke-width="1.4" fill="none" stroke-linejoin="round"/>
<path d="M44.9,659.3 L45.9,659.3 L46.9,659.3 L47.9,659.3 L48.9,659.3 L49.9,659.3 L50.9,659.3 L51.9,659.3 L52.9,659.3 L53.9,659.3 L54.9,659.2 L55.9,659.2 L56.9,659.2 L57.9,659.2 L58.9,659.2 L59.9,659.2 L60.9,659.2 L61.9,659.2 L62.9,659.2 L63.9,659.2 L64.9,659.2 L65.9,659.2 L66.9,659.2 L67.9,659.2 L68.9,659.2 L69.9,659.2 L70.9,659.2 L71.9,659.1 L72.9,659.1 L73.9,659.1 L74.9,659.1 L75.9,659.1 L76.9,659.1 L77.9,659.1 L78.9,659.1 L79.9,659.1 L80.9,659.1 L81.9,659.1 L82.9,659.1 L83.9,659.1 L84.9,659.1 L85.9,659.0 L86.9,659.0 L87.9,659.0 L88.9,659.0 L89.9,659.0 L90.9,659.0 L91.9,659.0 L92.9,659.0 L93.9,659.0 L94.9,659.0 L95.9,658.9 L96.9,658.9 L97.9,658.9 L98.9,658.9 L99.9,658.9 L100.9,658.9 L101.9,658.9 L102.9,658.8 L103.9,658.8 L104.9,658.8 L105.9,658.8 L106.9,658.8 L107.9,658.8 L108.9,658.7 L109.9,658.7 L110.9,658.7 L111.9,658.7 L112.9,658.6 L113.9,658.6 L114.9,658.6 L115.9,658.5 L116.9,658.5 L117.9,658.5 L118.9,658.4 L119.9,658.4 L120.9,658.3 L121.9,658.2 L122.9,658.2 L123.9,658.1 L124.9,658.0 L125.9,657.9 L126.9,657.9 L127.9,657.7 L128.9,657.6 L129.9,657.5 L130.9,657.4 L131.9,657.2 L132.9,657.0 L133.9,656.8 L134.9,656.6 L135.9,656.4 L136.9,656.1 L137.9,655.8 L138.9,655.5 L139.9,655.2 L140.9,654.8 L141.9,654.3 L142.9,653.9 L143.9,653.4 L144.9,652.9 L145.9,652.3 L146.9,651.6 L147.9,651.0 L148.9,650.2 L149.9,649.4 L150.9,648.6 L151.9,647.7 L152.9,646.7 L153.9,645.6 L154.9,644.5 L155.9,643.3 L156.9,642.0 L157.9,640.6 L158.9,639.2 L159.9,637.6 L160.9,636.0 L161.9,634.3 L162.9,632.5 L163.9,630.7 L164.9,628.7 L165.9,626.7 L166.9,624.6 L167.9,622.4 L168.9,620.2 L169.9,617.8 L170.9,615.5 L171.9,613.0 L172.9,610.6 L173.9,608.0 L174.9,605.5 L175.9,602.9 L176.9,600.3 L177.9,597.7 L178.9,595.2 L179.9,592.6 L180.9,590.0 L181.9,587.6 L182.9,585.1 L183.9,582.7 L184.9,580.5 L185.9,578.3 L186.9,576.2 L187.9,574.2 L188.9,572.4 L189.9,570.7 L190.9,569.2 L191.9,567.9 L192.9,566.7 L193.9,565.7 L194.9,564.9 L195.9,564.4 L196.9,564.0 L197.9,563.9 L198.9,563.9 L199.9,564.2 L200.9,564.7 L201.9,565.4 L202.9,566.4 L203.9,567.5 L204.9,568.8 L205.9,570.3 L206.9,572.0 L207.9,573.8 L208.9,575.8 L209.9,577.9 L210.9,580.2 L211.9,582.5 L212.9,584.9 L213.9,587.4 L214.9,590.0 L215.9,592.6 L216.9,595.2 L217.9,597.9 L218.9,600.6 L219.9,603.3 L220.9,605.9 L221.9,608.6 L222.9,611.2 L223.9,613.8 L224.9,616.3 L225.9,618.8 L226.9,621.2 L227.9,623.6 L228.9,625.9 L229.9,628.1 L230.9,630.2 L231.9,632.2 L232.9,634.2 L233.9,636.1 L234.9,637.9 L235.9,639.6 L236.9,641.2 L237.9,642.7 L238.9,644.1 L239.9,645.5 L240.9,646.8 L241.9,648.0 L242.9,649.1 L243.9,650.1 L244.9,651.1 L245.9,652.0 L246.9,652.8 L247.9,653.6 L248.9,654.3 L249.9,655.0 L250.9,655.6 L251.9,656.1 L252.9,656.6 L253.9,657.1 L254.9,657.5 L255.9,657.9 L256.9,658.3 L257.9,658.6 L258.9,658.9 L259.9,659.2 L260.9,659.4 L261.9,659.6 L262.9,659.9 L263.9,660.0 L264.9,660.2 L265.9,660.4 L266.9,660.5 L267.9,660.6 L268.9,660.7 L269.9,660.8 L270.9,660.9 L271.9,661.0 L272.9,661.1 L273.9,661.2 L274.9,661.3 L275.9,661.3 L276.9,661.4 L277.9,661.4 L278.9,661.5 L279.9,661.5 L280.9,661.6 L281.9,661.6 L282.9,661.7 L283.9,661.7 L284.9,661.7 L285.9,661.8 L286.9,661.8 L287.9,661.8 L288.9,661.9 L289.9,661.9 L290.9,661.9 L291.9,661.9 L292.9,662.0 L293.9,662.0 L294.9,662.0 L295.9,662.0 L296.9,662.1 L297.9,662.1 L298.9,662.1 L299.9,662.1 L300.9,662.1 L301.9,662.2 L302.9,662.2 L303.9,662.2 L304.9,662.2 L305.9,662.2 L306.9,662.2 L307.9,662.2 L308.9,662.3 L309.9,662.3 L310.9,662.3 L311.9,662.3 L312.9,662.3 L313.9,662.3 L314.9,662.3 L315.9,662.4 L316.9,662.4 L317.9,662.4 L318.9,662.4 L318.9,663.0 L317.9,663.0 L316.9,663.0 L315.9,663.0 L314.9,663.0 L313.9,663.0 L312.9,663.0 L311.9,663.0 L310.9,663.0 L309.9,663.0 L308.9,663.0 L307.9,663.0 L306.9,663.0 L305.9,663.0 L304.9,663.0 L303.9,663.0 L302.9,663.0 L301.9,663.0 L300.9,663.0 L299.9,663.0 L298.9,663.0 L297.9,663.0 L296.9,663.0 L295.9,663.0 L294.9,662.9 L293.9,662.9 L292.9,662.9 L291.9,662.9 L290.9,662.9 L289.9,662.9 L288.9,662.9 L287.9,662.9 L286.9,662.9 L285.9,662.9 L284.9,662.9 L283.9,662.9 L282.9,662.9 L281.9,662.9 L280.9,662.9 L279.9,662.9 L278.9,662.9 L277.9,662.9 L276.9,662.9 L275.9,662.9 L274.9,662.8 L273.9,662.8 L272.9,662.8 L271.9,662.8 L270.9,662.8 L269.9,662.8 L268.9,662.8 L267.9,662.8 L266.9,662.8 L265.9,662.8 L264.9,662.8 L263.9,662.8 L262.9,662.8 L261.9,662.8 L260.9,662.8 L259.9,662.7 L258.9,662.7 L257.9,662.7 L256.9,662.7 L255.9,662.7 L254.9,662.7 L253.9,662.7 L252.9,662.7 L251.9,662.7 L250.9,662.7 L249.9,662.7 L248.9,662.7 L247.9,662.7 L246.9,662.6 L245.9,662.6 L244.9,662.6 L243.9,662.6 L242.9,662.6 L241.9,662.6 L240.9,662.6 L239.9,662.6 L238.9,662.6 L237.9,662.6 L236.9,662.6 L235.9,662.6 L234.9,662.5 L233.9,662.5 L232.9,662.5 L231.9,662.5 L230.9,662.5 L229.9,662.5 L228.9,662.5 L227.9,662.5 L226.9,662.5 L225.9,662.4 L224.9,662.4 L223.9,662.4 L222.9,662.4 L221.9,662.4 L220.9,662.4 L219.9,662.4 L218.9,662.3 L217.9,662.3 L216.9,662.3 L215.9,662.3 L214.9,662.3 L213.9,662.3 L212.9,662.3 L211.9,662.2 L210.9,662.2 L209.9,662.2 L208.9,662.2 L207.9,662.2 L206.9,662.2 L205.9,662.1 L204.9,662.1 L203.9,662.1 L202.9,662.1 L201.9,662.1 L200.9,662.0 L199.9,662.0 L198.9,662.0 L197.9,662.0 L196.9,662.0 L195.9,661.9 L194.9,661.9 L193.9,661.9 L192.9,661.9 L191.9,661.9 L190.9,661.8 L189.9,661.8 L188.9,661.8 L187.9,661.8 L186.9,661.8 L185.9,661.7 L184.9,661.7 L183.9,661.7 L182.9,661.7 L181.9,661.6 L180.9,661.6 L179.9,661.6 L178.9,661.6 L177.9,661.5 L176.9,661.5 L175.9,661.5 L174.9,661.4 L173.9,661.4 L172.9,661.4 L171.9,661.3 L170.9,661.3 L169.9,661.2 L168.9,661.2 L167.9,661.1 L166.9,661.1 L165.9,661.0 L164.9,661.0 L163.9,660.9 L162.9,660.9 L161.9,660.8 L160.9,660.8 L159.9,660.7 L158.9,660.7 L157.9,660.6 L156.9,660.6 L155.9,660.5 L154.9,660.5 L153.9,660.4 L152.9,660.4 L151.9,660.4 L150.9,660.3 L149.9,660.3 L148.9,660.3 L147.9,660.2 L146.9,660.2 L145.9,660.2 L144.9,660.1 L143.9,660.1 L142.9,660.1 L141.9,660.1 L140.9,660.1 L139.9,660.1 L138.9,660.1 L137.9,660.1 L136.9,660.1 L135.9,660.1 L134.9,660.0 L133.9,660.0 L132.9,660.0 L131.9,660.0 L130.9,660.0 L129.9,660.0 L128.9,660.0 L127.9,660.0 L126.9,660.0 L125.9,660.0 L124.9,660.0 L123.9,660.0 L122.9,660.0 L121.9,660.0 L120.9,659.9 L119.9,659.9 L118.9,659.9 L117.9,659.9 L116.9,659.9 L115.9,659.9 L114.9,659.9 L113.9,659.9 L112.9,659.9 L111.9,659.9 L110.9,659.9 L109.9,659.9 L108.9,659.9 L107.9,659.9 L106.9,659.9 L105.9,659.9 L104.9,659.9 L103.9,659.8 L102.9,659.8 L101.9,659.8 L100.9,659.8 L99.9,659.8 L98.9,659.8 L97.9,659.8 L96.9,659.8 L95.9,659.8 L94.9,659.8 L93.9,659.8 L92.9,659.8 L91.9,659.8 L90.9,659.8 L89.9,659.8 L88.9,659.8 L87.9,659.8 L86.9,659.8 L85.9,659.8 L84.9,659.8 L83.9,659.8 L82.9,659.8 L81.9,659.8 L80.9,659.8 L79.9,659.8 L78.9,659.8 L77.9,659.7 L76.9,659.7 L75.9,659.7 L74.9,659.7 L73.9,659.7 L72.9,659.7 L71.9,659.7 L70.9,659.7 L69.9,659.7 L68.9,659.7 L67.9,659.7 L66.9,659.7 L65.9,659.7 L64.9,659.7 L63.9,659.7 L62.9,659.7 L61.9,659.7 L60.9,659.7 L59.9,659.7 L58.9,659.7 L57.9,659.7 L56.9,659.7 L55.9,659.7 L54.9,659.7 L53.9,659.7 L52.9,659.7 L51.9,659.7 L50.9,659.7 L49.9,659.7 L48.9,659.7 L47.9,659.7 L46.9,659.7 L45.9,659.7 L44.9,659.7Z" fill="url(#gy)" fill-opacity="1.0" stroke="none"/>
<path d="M44.9,659.3 L45.9,659.3 L46.9,659.3 L47.9,659.3 L48.9,659.3 L49.9,659.3 L50.9,659.3 L51.9,659.3 L52.9,659.3 L53.9,659.3 L54.9,659.2 L55.9,659.2 L56.9,659.2 L57.9,659.2 L58.9,659.2 L59.9,659.2 L60.9,659.2 L61.9,659.2 L62.9,659.2 L63.9,659.2 L64.9,659.2 L65.9,659.2 L66.9,659.2 L67.9,659.2 L68.9,659.2 L69.9,659.2 L70.9,659.2 L71.9,659.1 L72.9,659.1 L73.9,659.1 L74.9,659.1 L75.9,659.1 L76.9,659.1 L77.9,659.1 L78.9,659.1 L79.9,659.1 L80.9,659.1 L81.9,659.1 L82.9,659.1 L83.9,659.1 L84.9,659.1 L85.9,659.0 L86.9,659.0 L87.9,659.0 L88.9,659.0 L89.9,659.0 L90.9,659.0 L91.9,659.0 L92.9,659.0 L93.9,659.0 L94.9,659.0 L95.9,658.9 L96.9,658.9 L97.9,658.9 L98.9,658.9 L99.9,658.9 L100.9,658.9 L101.9,658.9 L102.9,658.8 L103.9,658.8 L104.9,658.8 L105.9,658.8 L106.9,658.8 L107.9,658.8 L108.9,658.7 L109.9,658.7 L110.9,658.7 L111.9,658.7 L112.9,658.6 L113.9,658.6 L114.9,658.6 L115.9,658.5 L116.9,658.5 L117.9,658.5 L118.9,658.4 L119.9,658.4 L120.9,658.3 L121.9,658.2 L122.9,658.2 L123.9,658.1 L124.9,658.0 L125.9,657.9 L126.9,657.9 L127.9,657.7 L128.9,657.6 L129.9,657.5 L130.9,657.4 L131.9,657.2 L132.9,657.0 L133.9,656.8 L134.9,656.6 L135.9,656.4 L136.9,656.1 L137.9,655.8 L138.9,655.5 L139.9,655.2 L140.9,654.8 L141.9,654.3 L142.9,653.9 L143.9,653.4 L144.9,652.9 L145.9,652.3 L146.9,651.6 L147.9,651.0 L148.9,650.2 L149.9,649.4 L150.9,648.6 L151.9,647.7 L152.9,646.7 L153.9,645.6 L154.9,644.5 L155.9,643.3 L156.9,642.0 L157.9,640.6 L158.9,639.2 L159.9,637.6 L160.9,636.0 L161.9,634.3 L162.9,632.5 L163.9,630.7 L164.9,628.7 L165.9,626.7 L166.9,624.6 L167.9,622.4 L168.9,620.2 L169.9,617.8 L170.9,615.5 L171.9,613.0 L172.9,610.6 L173.9,608.0 L174.9,605.5 L175.9,602.9 L176.9,600.3 L177.9,597.7 L178.9,595.2 L179.9,592.6 L180.9,590.0 L181.9,587.6 L182.9,585.1 L183.9,582.7 L184.9,580.5 L185.9,578.3 L186.9,576.2 L187.9,574.2 L188.9,572.4 L189.9,570.7 L190.9,569.2 L191.9,567.9 L192.9,566.7 L193.9,565.7 L194.9,564.9 L195.9,564.4 L196.9,564.0 L197.9,563.9 L198.9,563.9 L199.9,564.2 L200.9,564.7 L201.9,565.4 L202.9,566.4 L203.9,567.5 L204.9,568.8 L205.9,570.3 L206.9,572.0 L207.9,573.8 L208.9,575.8 L209.9,577.9 L210.9,580.2 L211.9,582.5 L212.9,584.9 L213.9,587.4 L214.9,590.0 L215.9,592.6 L216.9,595.2 L217.9,597.9 L218.9,600.6 L219.9,603.3 L220.9,605.9 L221.9,608.6 L222.9,611.2 L223.9,613.8 L224.9,616.3 L225.9,618.8 L226.9,621.2 L227.9,623.6 L228.9,625.9 L229.9,628.1 L230.9,630.2 L231.9,632.2 L232.9,634.2 L233.9,636.1 L234.9,637.9 L235.9,639.6 L236.9,641.2 L237.9,642.7 L238.9,644.1 L239.9,645.5 L240.9,646.8 L241.9,648.0 L242.9,649.1 L243.9,650.1 L244.9,651.1 L245.9,652.0 L246.9,652.8 L247.9,653.6 L248.9,654.3 L249.9,655.0 L250.9,655.6 L251.9,656.1 L252.9,656.6 L253.9,657.1 L254.9,657.5 L255.9,657.9 L256.9,658.3 L257.9,658.6 L258.9,658.9 L259.9,659.2 L260.9,659.4 L261.9,659.6 L262.9,659.9 L263.9,660.0 L264.9,660.2 L265.9,660.4 L266.9,660.5 L267.9,660.6 L268.9,660.7 L269.9,660.8 L270.9,660.9 L271.9,661.0 L272.9,661.1 L273.9,661.2 L274.9,661.3 L275.9,661.3 L276.9,661.4 L277.9,661.4 L278.9,661.5 L279.9,661.5 L280.9,661.6 L281.9,661.6 L282.9,661.7 L283.9,661.7 L284.9,661.7 L285.9,661.8 L286.9,661.8 L287.9,661.8 L288.9,661.9 L289.9,661.9 L290.9,661.9 L291.9,661.9 L292.9,662.0 L293.9,662.0 L294.9,662.0 L295.9,662.0 L296.9,662.1 L297.9,662.1 L298.9,662.1 L299.9,662.1 L300.9,662.1 L301.9,662.2 L302.9,662.2 L303.9,662.2 L304.9,662.2 L305.9,662.2 L306.9,662.2 L307.9,662.2 L308.9,662.3 L309.9,662.3 L310.9,662.3 L311.9,662.3 L312.9,662.3 L313.9,662.3 L314.9,662.3 L315.9,662.4 L316.9,662.4 L317.9,662.4 L318.9,662.4" stroke="#f8e04c" stroke-width="1.2" fill="none" stroke-linejoin="round"/>
<path d="M211.9,661.8 L212.9,661.8 L213.9,661.8 L214.9,661.7 L215.9,661.7 L216.9,661.7 L217.9,661.6 L218.9,661.6 L219.9,661.5 L220.9,661.5 L221.9,661.4 L222.9,661.3 L223.9,661.3 L224.9,661.2 L225.9,661.1 L226.9,661.1 L227.9,661.0 L228.9,660.9 L229.9,660.8 L230.9,660.7 L231.9,660.6 L232.9,660.5 L233.9,660.4 L234.9,660.3 L235.9,660.2 L236.9,660.1 L237.9,660.0 L238.9,659.9 L239.9,659.8 L240.9,659.7 L241.9,659.6 L242.9,659.5 L243.9,659.4 L244.9,659.3 L245.9,659.2 L246.9,659.2 L247.9,659.1 L248.9,659.0 L249.9,658.9 L250.9,658.8 L251.9,658.8 L252.9,658.7 L253.9,658.6 L254.9,658.6 L255.9,658.6 L256.9,658.5 L257.9,658.5 L258.9,658.5 L259.9,658.5 L260.9,658.5 L261.9,658.5 L262.9,658.5 L263.9,658.5 L264.9,658.5 L265.9,658.5 L266.9,658.6 L267.9,658.6 L268.9,658.7 L269.9,658.8 L270.9,658.8 L271.9,658.9 L272.9,659.0 L273.9,659.1 L274.9,659.2 L275.9,659.3 L276.9,659.4 L277.9,659.5 L278.9,659.6 L279.9,659.7 L280.9,659.8 L281.9,659.9 L282.9,660.0 L283.9,660.1 L284.9,660.2 L285.9,660.4 L286.9,660.5 L287.9,660.6 L288.9,660.7 L289.9,660.8 L290.9,660.9 L291.9,661.0 L292.9,661.1 L293.9,661.3 L294.9,661.4 L295.9,661.5 L296.9,661.5 L297.9,661.6 L298.9,661.7 L299.9,661.8 L300.9,661.9 L301.9,662.0 L302.9,662.0 L303.9,662.1 L304.9,662.2 L305.9,662.2 L306.9,662.3 L307.9,662.4 L308.9,662.4 L309.9,662.5 L310.9,662.5 L311.9,662.6 L312.9,662.6 L312.9,663.0 L311.9,663.0 L310.9,663.0 L309.9,663.0 L308.9,663.0 L307.9,663.0 L306.9,663.0 L305.9,663.0 L304.9,663.0 L303.9,663.0 L302.9,663.0 L301.9,663.0 L300.9,663.0 L299.9,663.0 L298.9,663.0 L297.9,663.0 L296.9,663.0 L295.9,663.0 L294.9,662.9 L293.9,662.9 L292.9,662.9 L291.9,662.9 L290.9,662.9 L289.9,662.9 L288.9,662.9 L287.9,662.9 L286.9,662.9 L285.9,662.9 L284.9,662.9 L283.9,662.9 L282.9,662.9 L281.9,662.9 L280.9,662.9 L279.9,662.9 L278.9,662.9 L277.9,662.9 L276.9,662.9 L275.9,662.9 L274.9,662.8 L273.9,662.8 L272.9,662.8 L271.9,662.8 L270.9,662.8 L269.9,662.8 L268.9,662.8 L267.9,662.8 L266.9,662.8 L265.9,662.8 L264.9,662.8 L263.9,662.8 L262.9,662.8 L261.9,662.8 L260.9,662.8 L259.9,662.7 L258.9,662.7 L257.9,662.7 L256.9,662.7 L255.9,662.7 L254.9,662.7 L253.9,662.7 L252.9,662.7 L251.9,662.7 L250.9,662.7 L249.9,662.7 L248.9,662.7 L247.9,662.7 L246.9,662.6 L245.9,662.6 L244.9,662.6 L243.9,662.6 L242.9,662.6 L241.9,662.6 L240.9,662.6 L239.9,662.6 L238.9,662.6 L237.9,662.6 L236.9,662.6 L235.9,662.6 L234.9,662.5 L233.9,662.5 L232.9,662.5 L231.9,662.5 L230.9,662.5 L229.9,662.5 L228.9,662.5 L227.9,662.5 L226.9,662.5 L225.9,662.4 L224.9,662.4 L223.9,662.4 L222.9,662.4 L221.9,662.4 L220.9,662.4 L219.9,662.4 L218.9,662.3 L217.9,662.3 L216.9,662.3 L215.9,662.3 L214.9,662.3 L213.9,662.3 L212.9,662.3 L211.9,662.2Z" fill="url(#gg)" fill-opacity="1.0" stroke="none"/>
<path d="M211.9,661.8 L212.9,661.8 L213.9,661.8 L214.9,661.7 L215.9,661.7 L216.9,661.7 L217.9,661.6 L218.9,661.6 L219.9,661.5 L220.9,661.5 L221.9,661.4 L222.9,661.3 L223.9,661.3 L224.9,661.2 L225.9,661.1 L226.9,661.1 L227.9,661.0 L228.9,660.9 L229.9,660.8 L230.9,660.7 L231.9,660.6 L232.9,660.5 L233.9,660.4 L234.9,660.3 L235.9,660.2 L236.9,660.1 L237.9,660.0 L238.9,659.9 L239.9,659.8 L240.9,659.7 L241.9,659.6 L242.9,659.5 L243.9,659.4 L244.9,659.3 L245.9,659.2 L246.9,659.2 L247.9,659.1 L248.9,659.0 L249.9,658.9 L250.9,658.8 L251.9,658.8 L252.9,658.7 L253.9,658.6 L254.9,658.6 L255.9,658.6 L256.9,658.5 L257.9,658.5 L258.9,658.5 L259.9,658.5 L260.9,658.5 L261.9,658.5 L262.9,658.5 L263.9,658.5 L264.9,658.5 L265.9,658.5 L266.9,658.6 L267.9,658.6 L268.9,658.7 L269.9,658.8 L270.9,658.8 L271.9,658.9 L272.9,659.0 L273.9,659.1 L274.9,659.2 L275.9,659.3 L276.9,659.4 L277.9,659.5 L278.9,659.6 L279.9,659.7 L280.9,659.8 L281.9,659.9 L282.9,660.0 L283.9,660.1 L284.9,660.2 L285.9,660.4 L286.9,660.5 L287.9,660.6 L288.9,660.7 L289.9,660.8 L290.9,660.9 L291.9,661.0 L292.9,661.1 L293.9,661.3 L294.9,661.4 L295.9,661.5 L296.9,661.5 L297.9,661.6 L298.9,661.7 L299.9,661.8 L300.9,661.9 L301.9,662.0 L302.9,662.0 L303.9,662.1 L304.9,662.2 L305.9,662.2 L306.9,662.3 L307.9,662.4 L308.9,662.4 L309.9,662.5 L310.9,662.5 L311.9,662.6 L312.9,662.6" stroke="#3db24e" stroke-width="1.3" fill="none" stroke-linejoin="round"/>
<path d="M87.9,659.4 L88.9,659.3 L89.9,659.3 L90.9,659.2 L91.9,659.2 L92.9,659.1 L93.9,659.0 L94.9,659.0 L95.9,658.9 L96.9,658.8 L97.9,658.7 L98.9,658.5 L99.9,658.4 L100.9,658.3 L101.9,658.1 L102.9,658.0 L103.9,657.8 L104.9,657.6 L105.9,657.3 L106.9,657.1 L107.9,656.8 L108.9,656.6 L109.9,656.2 L110.9,655.9 L111.9,655.5 L112.9,655.2 L113.9,654.7 L114.9,654.3 L115.9,653.8 L116.9,653.3 L117.9,652.7 L118.9,652.1 L119.9,651.5 L120.9,650.8 L121.9,650.1 L122.9,649.4 L123.9,648.6 L124.9,647.7 L125.9,646.9 L126.9,645.9 L127.9,644.9 L128.9,643.9 L129.9,642.9 L130.9,641.7 L131.9,640.6 L132.9,639.4 L133.9,638.1 L134.9,636.8 L135.9,635.5 L136.9,634.1 L137.9,632.7 L138.9,631.3 L139.9,629.8 L140.9,628.3 L141.9,626.7 L142.9,625.1 L143.9,623.6 L144.9,622.0 L145.9,620.3 L146.9,618.7 L147.9,617.1 L148.9,615.5 L149.9,613.8 L150.9,612.2 L151.9,610.7 L152.9,609.1 L153.9,607.5 L154.9,606.0 L155.9,604.6 L156.9,603.1 L157.9,601.7 L158.9,600.4 L159.9,599.1 L160.9,597.9 L161.9,596.8 L162.9,595.7 L163.9,594.7 L164.9,593.8 L165.9,593.0 L166.9,592.3 L167.9,591.6 L168.9,591.1 L169.9,590.6 L170.9,590.3 L171.9,590.0 L172.9,589.9 L173.9,589.8 L174.9,589.9 L175.9,590.0 L176.9,590.3 L177.9,590.7 L178.9,591.2 L179.9,591.7 L180.9,592.4 L181.9,593.2 L182.9,594.1 L183.9,595.0 L184.9,596.0 L185.9,597.2 L186.9,598.4 L187.9,599.6 L188.9,601.0 L189.9,602.4 L190.9,603.8 L191.9,605.3 L192.9,606.9 L193.9,608.5 L194.9,610.1 L195.9,611.8 L196.9,613.4 L197.9,615.1 L198.9,616.8 L199.9,618.5 L200.9,620.2 L201.9,621.9 L202.9,623.6 L203.9,625.3 L204.9,626.9 L205.9,628.5 L206.9,630.1 L207.9,631.7 L208.9,633.2 L209.9,634.7 L210.9,636.2 L211.9,637.6 L212.9,639.0 L213.9,640.4 L214.9,641.6 L215.9,642.9 L216.9,644.1 L217.9,645.2 L218.9,646.3 L219.9,647.4 L220.9,648.4 L221.9,649.4 L222.9,650.3 L223.9,651.1 L224.9,652.0 L225.9,652.7 L226.9,653.5 L227.9,654.2 L228.9,654.8 L229.9,655.4 L230.9,656.0 L231.9,656.5 L232.9,657.0 L233.9,657.5 L234.9,657.9 L235.9,658.3 L236.9,658.7 L237.9,659.1 L238.9,659.4 L239.9,659.7 L240.9,659.9 L241.9,660.2 L242.9,660.4 L243.9,660.6 L244.9,660.8 L245.9,661.0 L246.9,661.2 L247.9,661.3 L248.9,661.5 L249.9,661.6 L250.9,661.7 L251.9,661.8 L252.9,661.9 L253.9,662.0 L254.9,662.0 L255.9,662.1 L256.9,662.2 L257.9,662.2 L258.9,662.3 L259.9,662.3 L259.9,662.7 L258.9,662.7 L257.9,662.7 L256.9,662.7 L255.9,662.7 L254.9,662.7 L253.9,662.7 L252.9,662.7 L251.9,662.7 L250.9,662.7 L249.9,662.7 L248.9,662.7 L247.9,662.7 L246.9,662.6 L245.9,662.6 L244.9,662.6 L243.9,662.6 L242.9,662.6 L241.9,662.6 L240.9,662.6 L239.9,662.6 L238.9,662.6 L237.9,662.6 L236.9,662.6 L235.9,662.6 L234.9,662.5 L233.9,662.5 L232.9,662.5 L231.9,662.5 L230.9,662.5 L229.9,662.5 L228.9,662.5 L227.9,662.5 L226.9,662.5 L225.9,662.4 L224.9,662.4 L223.9,662.4 L222.9,662.4 L221.9,662.4 L220.9,662.4 L219.9,662.4 L218.9,662.3 L217.9,662.3 L216.9,662.3 L215.9,662.3 L214.9,662.3 L213.9,662.3 L212.9,662.3 L211.9,662.2 L210.9,662.2 L209.9,662.2 L208.9,662.2 L207.9,662.2 L206.9,662.2 L205.9,662.1 L204.9,662.1 L203.9,662.1 L202.9,662.1 L201.9,662.1 L200.9,662.0 L199.9,662.0 L198.9,662.0 L197.9,662.0 L196.9,662.0 L195.9,661.9 L194.9,661.9 L193.9,661.9 L192.9,661.9 L191.9,661.9 L190.9,661.8 L189.9,661.8 L188.9,661.8 L187.9,661.8 L186.9,661.8 L185.9,661.7 L184.9,661.7 L183.9,661.7 L182.9,661.7 L181.9,661.6 L180.9,661.6 L179.9,661.6 L178.9,661.6 L177.9,661.5 L176.9,661.5 L175.9,661.5 L174.9,661.4 L173.9,661.4 L172.9,661.4 L171.9,661.3 L170.9,661.3 L169.9,661.2 L168.9,661.2 L167.9,661.1 L166.9,661.1 L165.9,661.0 L164.9,661.0 L163.9,660.9 L162.9,660.9 L161.9,660.8 L160.9,660.8 L159.9,660.7 L158.9,660.7 L157.9,660.6 L156.9,660.6 L155.9,660.5 L154.9,660.5 L153.9,660.4 L152.9,660.4 L151.9,660.4 L150.9,660.3 L149.9,660.3 L148.9,660.3 L147.9,660.2 L146.9,660.2 L145.9,660.2 L144.9,660.1 L143.9,660.1 L142.9,660.1 L141.9,660.1 L140.9,660.1 L139.9,660.1 L138.9,660.1 L137.9,660.1 L136.9,660.1 L135.9,660.1 L134.9,660.0 L133.9,660.0 L132.9,660.0 L131.9,660.0 L130.9,660.0 L129.9,660.0 L128.9,660.0 L127.9,660.0 L126.9,660.0 L125.9,660.0 L124.9,660.0 L123.9,660.0 L122.9,660.0 L121.9,660.0 L120.9,659.9 L119.9,659.9 L118.9,659.9 L117.9,659.9 L116.9,659.9 L115.9,659.9 L114.9,659.9 L113.9,659.9 L112.9,659.9 L111.9,659.9 L110.9,659.9 L109.9,659.9 L108.9,659.9 L107.9,659.9 L106.9,659.9 L105.9,659.9 L104.9,659.9 L103.9,659.8 L102.9,659.8 L101.9,659.8 L100.9,659.8 L99.9,659.8 L98.9,659.8 L97.9,659.8 L96.9,659.8 L95.9,659.8 L94.9,659.8 L93.9,659.8 L92.9,659.8 L91.9,659.8 L90.9,659.8 L89.9,659.8 L88.9,659.8 L87.9,659.8Z" fill="url(#gb2)" fill-opacity="1.0" stroke="none"/>
<path d="M87.9,659.4 L88.9,659.3 L89.9,659.3 L90.9,659.2 L91.9,659.2 L92.9,659.1 L93.9,659.0 L94.9,659.0 L95.9,658.9 L96.9,658.8 L97.9,658.7 L98.9,658.5 L99.9,658.4 L100.9,658.3 L101.9,658.1 L102.9,658.0 L103.9,657.8 L104.9,657.6 L105.9,657.3 L106.9,657.1 L107.9,656.8 L108.9,656.6 L109.9,656.2 L110.9,655.9 L111.9,655.5 L112.9,655.2 L113.9,654.7 L114.9,654.3 L115.9,653.8 L116.9,653.3 L117.9,652.7 L118.9,652.1 L119.9,651.5 L120.9,650.8 L121.9,650.1 L122.9,649.4 L123.9,648.6 L124.9,647.7 L125.9,646.9 L126.9,645.9 L127.9,644.9 L128.9,643.9 L129.9,642.9 L130.9,641.7 L131.9,640.6 L132.9,639.4 L133.9,638.1 L134.9,636.8 L135.9,635.5 L136.9,634.1 L137.9,632.7 L138.9,631.3 L139.9,629.8 L140.9,628.3 L141.9,626.7 L142.9,625.1 L143.9,623.6 L144.9,622.0 L145.9,620.3 L146.9,618.7 L147.9,617.1 L148.9,615.5 L149.9,613.8 L150.9,612.2 L151.9,610.7 L152.9,609.1 L153.9,607.5 L154.9,606.0 L155.9,604.6 L156.9,603.1 L157.9,601.7 L158.9,600.4 L159.9,599.1 L160.9,597.9 L161.9,596.8 L162.9,595.7 L163.9,594.7 L164.9,593.8 L165.9,593.0 L166.9,592.3 L167.9,591.6 L168.9,591.1 L169.9,590.6 L170.9,590.3 L171.9,590.0 L172.9,589.9 L173.9,589.8 L174.9,589.9 L175.9,590.0 L176.9,590.3 L177.9,590.7 L178.9,591.2 L179.9,591.7 L180.9,592.4 L181.9,593.2 L182.9,594.1 L183.9,595.0 L184.9,596.0 L185.9,597.2 L186.9,598.4 L187.9,599.6 L188.9,601.0 L189.9,602.4 L190.9,603.8 L191.9,605.3 L192.9,606.9 L193.9,608.5 L194.9,610.1 L195.9,611.8 L196.9,613.4 L197.9,615.1 L198.9,616.8 L199.9,618.5 L200.9,620.2 L201.9,621.9 L202.9,623.6 L203.9,625.3 L204.9,626.9 L205.9,628.5 L206.9,630.1 L207.9,631.7 L208.9,633.2 L209.9,634.7 L210.9,636.2 L211.9,637.6 L212.9,639.0 L213.9,640.4 L214.9,641.6 L215.9,642.9 L216.9,644.1 L217.9,645.2 L218.9,646.3 L219.9,647.4 L220.9,648.4 L221.9,649.4 L222.9,650.3 L223.9,651.1 L224.9,652.0 L225.9,652.7 L226.9,653.5 L227.9,654.2 L228.9,654.8 L229.9,655.4 L230.9,656.0 L231.9,656.5 L232.9,657.0 L233.9,657.5 L234.9,657.9 L235.9,658.3 L236.9,658.7 L237.9,659.1 L238.9,659.4 L239.9,659.7 L240.9,659.9 L241.9,660.2 L242.9,660.4 L243.9,660.6 L244.9,660.8 L245.9,661.0 L246.9,661.2 L247.9,661.3 L248.9,661.5 L249.9,661.6 L250.9,661.7 L251.9,661.8 L252.9,661.9 L253.9,662.0 L254.9,662.0 L255.9,662.1 L256.9,662.2 L257.9,662.2 L258.9,662.3 L259.9,662.3" stroke="#1fb3eb" stroke-width="1.4" fill="none" stroke-linejoin="round"/>
<path d="M42.9,659.7 L43.9,659.7 L44.9,659.7 L45.9,659.7 L46.9,659.7 L47.9,659.7 L48.9,659.7 L49.9,659.7 L50.9,659.7 L51.9,659.7 L52.9,659.7 L53.9,659.7 L54.9,659.7 L55.9,659.7 L56.9,659.7 L57.9,659.7 L58.9,659.7 L59.9,659.7 L60.9,659.7 L61.9,659.7 L62.9,659.7 L63.9,659.7 L64.9,659.7 L65.9,659.7 L66.9,659.7 L67.9,659.7 L68.9,659.7 L69.9,659.7 L70.9,659.7 L71.9,659.7 L72.9,659.7 L73.9,659.7 L74.9,659.7 L75.9,659.7 L76.9,659.7 L77.9,659.7 L78.9,659.8 L79.9,659.8 L80.9,659.8 L81.9,659.8 L82.9,659.8 L83.9,659.8 L84.9,659.8 L85.9,659.8 L86.9,659.8 L87.9,659.8 L88.9,659.8 L89.9,659.8 L90.9,659.8 L91.9,659.8 L92.9,659.8 L93.9,659.8 L94.9,659.8 L95.9,659.8 L96.9,659.8 L97.9,659.8 L98.9,659.8 L99.9,659.8 L100.9,659.8 L101.9,659.8 L102.9,659.8 L103.9,659.8 L104.9,659.9 L105.9,659.9 L106.9,659.9 L107.9,659.9 L108.9,659.9 L109.9,659.9 L110.9,659.9 L111.9,659.9 L112.9,659.9 L113.9,659.9 L114.9,659.9 L115.9,659.9 L116.9,659.9 L117.9,659.9 L118.9,659.9 L119.9,659.9 L120.9,659.9 L121.9,660.0 L122.9,660.0 L123.9,660.0 L124.9,660.0 L125.9,660.0 L126.9,660.0 L127.9,660.0 L128.9,660.0 L129.9,660.0 L130.9,660.0 L131.9,660.0 L132.9,660.0 L133.9,660.0 L134.9,660.0 L135.9,660.1 L136.9,660.1 L137.9,660.1 L138.9,660.1 L139.9,660.1 L140.9,660.1 L141.9,660.1 L142.9,660.1 L143.9,660.1 L144.9,660.1 L145.9,660.2 L146.9,660.2 L147.9,660.2 L148.9,660.3 L149.9,660.3 L150.9,660.3 L151.9,660.4 L152.9,660.4 L153.9,660.4 L154.9,660.5 L155.9,660.5 L156.9,660.6 L157.9,660.6 L158.9,660.7 L159.9,660.7 L160.9,660.8 L161.9,660.8 L162.9,660.9 L163.9,660.9 L164.9,661.0 L165.9,661.0 L166.9,661.1 L167.9,661.1 L168.9,661.2 L169.9,661.2 L170.9,661.3 L171.9,661.3 L172.9,661.4 L173.9,661.4 L174.9,661.4 L175.9,661.5 L176.9,661.5 L177.9,661.5 L178.9,661.6 L179.9,661.6 L180.9,661.6 L181.9,661.6 L182.9,661.7 L183.9,661.7 L184.9,661.7 L185.9,661.7 L186.9,661.8 L187.9,661.8 L188.9,661.8 L189.9,661.8 L190.9,661.8 L191.9,661.9 L192.9,661.9 L193.9,661.9 L194.9,661.9 L195.9,661.9 L196.9,662.0 L197.9,662.0 L198.9,662.0 L199.9,662.0 L200.9,662.0 L201.9,662.1 L202.9,662.1 L203.9,662.1 L204.9,662.1 L205.9,662.1 L206.9,662.2 L207.9,662.2 L208.9,662.2 L209.9,662.2 L210.9,662.2 L211.9,662.2 L212.9,662.3 L213.9,662.3 L214.9,662.3 L215.9,662.3 L216.9,662.3 L217.9,662.3 L218.9,662.3 L219.9,662.4 L220.9,662.4 L221.9,662.4 L222.9,662.4 L223.9,662.4 L224.9,662.4 L225.9,662.4 L226.9,662.5 L227.9,662.5 L228.9,662.5 L229.9,662.5 L230.9,662.5 L231.9,662.5 L232.9,662.5 L233.9,662.5 L234.9,662.5 L235.9,662.6 L236.9,662.6 L237.9,662.6 L238.9,662.6 L239.9,662.6 L240.9,662.6 L241.9,662.6 L242.9,662.6 L243.9,662.6 L244.9,662.6 L245.9,662.6 L246.9,662.6 L247.9,662.7 L248.9,662.7 L249.9,662.7 L250.9,662.7 L251.9,662.7 L252.9,662.7 L253.9,662.7 L254.9,662.7 L255.9,662.7 L256.9,662.7 L257.9,662.7 L258.9,662.7 L259.9,662.7 L260.9,662.8 L261.9,662.8 L262.9,662.8 L263.9,662.8 L264.9,662.8 L265.9,662.8 L266.9,662.8 L267.9,662.8 L268.9,662.8 L269.9,662.8 L270.9,662.8 L271.9,662.8 L272.9,662.8 L273.9,662.8 L274.9,662.8 L275.9,662.9 L276.9,662.9 L277.9,662.9 L278.9,662.9 L279.9,662.9 L280.9,662.9 L281.9,662.9 L282.9,662.9 L283.9,662.9 L284.9,662.9 L285.9,662.9 L286.9,662.9 L287.9,662.9 L288.9,662.9 L289.9,662.9 L290.9,662.9 L291.9,662.9 L292.9,662.9 L293.9,662.9 L294.9,662.9 L295.9,663.0 L296.9,663.0 L297.9,663.0 L298.9,663.0 L299.9,663.0 L300.9,663.0 L301.9,663.0 L302.9,663.0 L303.9,663.0 L304.9,663.0 L305.9,663.0 L306.9,663.0 L307.9,663.0 L308.9,663.0 L309.9,663.0 L310.9,663.0 L311.9,663.0 L312.9,663.0 L313.9,663.0 L314.9,663.0 L315.9,663.0 L316.9,663.0 L317.9,663.0 L318.9,663.0" stroke="#d9405e" stroke-width="1.4" fill="none" stroke-linejoin="round"/>
<text transform="translate(47.80,509.80) scale(0.9259,1)" x="0" y="0" font-family="Liberation Serif" font-weight="bold" font-size="12.74" text-anchor="start" fill="#000" stroke="#000" stroke-width="0.2" >O 1s</text>
<text transform="translate(47.80,524.60) scale(0.9259,1)" x="0" y="0" font-family="Liberation Serif" font-weight="bold" font-size="12.74" text-anchor="start" fill="#000" stroke="#000" stroke-width="0.2" >Degenerated LCO</text>
<text transform="translate(257.60,564.90) scale(0.9259,1)" x="0" y="0" font-family="Liberation Serif" font-weight="bold" font-size="12.64" text-anchor="middle" fill="#f8da5c" stroke="#f8da5c" stroke-width="0.2" >Lattice oxygen</text>
<text transform="translate(257.60,578.80) scale(0.9259,1)" x="0" y="0" font-family="Liberation Serif" font-weight="bold" font-size="12.64" text-anchor="middle" fill="#f8da5c" stroke="#f8da5c" stroke-width="0.2" >(52.50%)</text>
<rect x="42.10" y="495.10" width="277.60" height="187.20" fill="none" stroke="#000" stroke-width="1.5"/>
<path d="M117.80,682.30v3.5M244.20,682.30v3.5" stroke="#000" stroke-width="1.2" fill="none"/>
<path d="M54.60,682.30v2M181.00,682.30v2M307.40,682.30v2" stroke="#000" stroke-width="1.2" fill="none"/>
<text transform="translate(117.80,697.70) scale(0.9259,1)" x="0" y="0" font-family="Liberation Serif" font-weight="bold" font-size="12.42" text-anchor="middle" fill="#000" stroke="#000" stroke-width="0.2" >535</text>
<text transform="translate(244.20,697.70) scale(0.9259,1)" x="0" y="0" font-family="Liberation Serif" font-weight="bold" font-size="12.42" text-anchor="middle" fill="#000" stroke="#000" stroke-width="0.2" >530</text>
<text transform="translate(180.90,710.90) scale(0.9259,1)" x="0" y="0" font-family="Liberation Serif" font-weight="bold" font-size="12.80" text-anchor="middle" fill="#000" stroke="#000" stroke-width="0.2" >Binding Energy</text>
<text transform="translate(34.00,588.90) rotate(-90) scale(1.0130,1)" x="0" y="0" font-family="Liberation Serif" font-weight="bold" font-size="11.50" text-anchor="middle" stroke="#000" stroke-width="0.2">Intnesity (a.u.)</text>
<text transform="translate(2.00,513.40) scale(0.9259,1)" x="0" y="0" font-family="Liberation Serif" font-weight="bold" font-size="22.14" text-anchor="start" fill="#000" stroke="#000" stroke-width="0.2" >(e)</text>
<path d="M399.6,657.0 L400.6,657.0 L401.6,657.0 L402.6,657.0 L403.6,657.0 L404.6,657.0 L405.6,657.0 L406.6,657.0 L407.6,657.0 L408.6,657.0 L409.6,656.9 L410.6,656.9 L411.6,656.9 L412.6,656.9 L413.6,656.9 L414.6,656.9 L415.6,656.9 L416.6,656.9 L417.6,656.9 L418.6,656.9 L419.6,656.9 L420.6,656.8 L421.6,656.8 L422.6,656.8 L423.6,656.8 L424.6,656.8 L425.6,656.8 L426.6,656.7 L427.6,656.7 L428.6,656.7 L429.6,656.7 L430.6,656.7 L431.6,656.6 L432.6,656.6 L433.6,656.6 L434.7,656.5 L435.7,656.5 L436.7,656.5 L437.7,656.4 L438.7,656.4 L439.7,656.4 L440.7,656.3 L441.7,656.3 L442.7,656.2 L443.7,656.1 L444.7,656.1 L445.7,656.0 L446.7,655.9 L447.7,655.9 L448.7,655.8 L449.7,655.7 L450.7,655.6 L451.7,655.5 L452.7,655.4 L453.7,655.3 L454.7,655.2 L455.7,655.1 L456.7,655.0 L457.7,654.9 L458.7,654.7 L459.7,654.6 L460.7,654.4 L461.7,654.3 L462.7,654.1 L463.7,653.9 L464.7,653.8 L465.7,653.6 L466.7,653.4 L467.7,653.2 L468.7,652.9 L469.7,652.7 L470.7,652.5 L471.7,652.2 L472.7,651.9 L473.7,651.7 L474.7,651.4 L475.7,651.1 L476.7,650.7 L477.7,650.4 L478.7,650.0 L479.7,649.7 L480.7,649.3 L481.7,648.8 L482.7,648.4 L483.7,647.9 L484.7,647.4 L485.7,646.9 L486.7,646.3 L487.7,645.7 L488.7,645.1 L489.7,644.4 L490.7,643.6 L491.7,642.9 L492.7,642.0 L493.7,641.1 L494.7,640.1 L495.7,639.1 L496.7,638.0 L497.7,636.8 L498.7,635.6 L499.7,634.2 L500.7,632.8 L501.7,631.2 L502.7,629.6 L503.8,627.9 L504.8,626.0 L505.8,624.1 L506.8,622.0 L507.8,619.8 L508.8,617.5 L509.8,615.1 L510.8,612.5 L511.8,609.8 L512.8,607.0 L513.8,604.1 L514.8,601.1 L515.8,597.9 L516.8,594.7 L517.8,591.3 L518.8,587.9 L519.8,584.4 L520.8,580.8 L521.8,577.1 L522.8,573.4 L523.8,569.7 L524.8,566.0 L525.8,562.2 L526.8,558.5 L527.8,554.8 L528.8,551.2 L529.8,547.6 L530.8,544.2 L531.8,540.8 L532.8,537.6 L533.8,534.5 L534.8,531.7 L535.8,529.0 L536.8,526.5 L537.8,524.3 L538.8,522.3 L539.8,520.7 L540.8,519.2 L541.8,518.1 L542.8,517.3 L543.8,516.8 L544.8,516.7 L545.8,516.8 L546.8,517.3 L547.8,518.1 L548.8,519.2 L549.8,520.7 L550.8,522.4 L551.8,524.4 L552.8,526.6 L553.8,529.1 L554.8,531.8 L555.8,534.8 L556.8,537.9 L557.8,541.2 L558.8,544.6 L559.8,548.2 L560.8,551.8 L561.8,555.5 L562.8,559.3 L563.8,563.1 L564.8,567.0 L565.8,570.8 L566.8,574.6 L567.8,578.4 L568.8,582.2 L569.8,585.9 L570.8,589.5 L571.8,593.0 L572.9,596.4 L573.9,599.7 L574.9,602.9 L575.9,606.0 L576.9,609.0 L577.9,611.9 L578.9,614.6 L579.9,617.2 L580.9,619.6 L581.9,621.9 L582.9,624.1 L583.9,626.2 L584.9,628.2 L585.9,630.0 L586.9,631.7 L587.9,633.4 L588.9,634.9 L589.9,636.3 L590.9,637.6 L591.9,638.8 L592.9,639.9 L593.9,641.0 L594.9,642.0 L595.9,642.9 L596.9,643.8 L597.9,644.6 L598.9,645.3 L599.9,646.0 L600.9,646.6 L601.9,647.2 L602.9,647.8 L603.9,648.3 L604.9,648.8 L605.9,649.3 L606.9,649.7 L607.9,650.2 L608.9,650.6 L609.9,650.9 L610.9,651.3 L611.9,651.6 L612.9,652.0 L613.9,652.3 L614.9,652.6 L615.9,652.9 L616.9,653.1 L617.9,653.4 L618.9,653.7 L619.9,653.9 L620.9,654.2 L621.9,654.4 L622.9,654.6 L623.9,654.8 L624.9,655.1 L625.9,655.3 L626.9,655.5 L627.9,655.7 L628.9,655.8 L629.9,656.0 L630.9,656.2 L631.9,656.4 L632.9,656.5 L633.9,656.7 L634.9,656.8 L635.9,657.0 L636.9,657.1 L637.9,657.3 L638.9,657.4 L639.9,657.5 L640.9,657.6 L642.0,657.7 L643.0,657.8 L644.0,658.0 L645.0,658.1 L646.0,658.2 L647.0,658.2 L648.0,658.3 L649.0,658.4 L650.0,658.5 L651.0,658.6 L652.0,658.7 L653.0,658.7 L654.0,658.8 L655.0,658.9 L656.0,658.9 L657.0,659.0 L658.0,659.0 L659.0,659.1 L660.0,659.1 L661.0,659.2 L662.0,659.2 L663.0,659.3 L664.0,659.3 L665.0,659.4 L666.0,659.4 L667.0,659.4 L668.0,659.5 L669.0,659.5 L670.0,659.5 L671.0,659.6 L672.0,659.6 L673.0,659.6 L674.0,659.6 L675.0,659.7 L676.0,659.7" stroke="#404040" stroke-width="1.4" fill="none" stroke-linejoin="round"/>
<path d="M409.6,657.0 L410.6,657.0 L411.6,657.0 L412.6,657.0 L413.6,657.0 L414.6,657.0 L415.6,657.0 L416.6,657.0 L417.6,657.0 L418.6,657.0 L419.6,657.0 L420.6,657.0 L421.6,657.0 L422.6,657.0 L423.6,657.0 L424.6,657.0 L425.6,657.0 L426.6,657.0 L427.6,657.0 L428.6,657.0 L429.6,657.0 L430.6,657.0 L431.6,657.0 L432.6,657.0 L433.6,656.9 L434.7,656.9 L435.7,656.9 L436.7,656.9 L437.7,656.9 L438.7,656.9 L439.7,656.9 L440.7,656.9 L441.7,656.9 L442.7,656.9 L443.7,656.9 L444.7,656.9 L445.7,656.9 L446.7,656.9 L447.7,656.9 L448.7,656.9 L449.7,656.9 L450.7,656.8 L451.7,656.8 L452.7,656.8 L453.7,656.8 L454.7,656.8 L455.7,656.8 L456.7,656.8 L457.7,656.8 L458.7,656.8 L459.7,656.7 L460.7,656.7 L461.7,656.7 L462.7,656.7 L463.7,656.7 L464.7,656.6 L465.7,656.6 L466.7,656.6 L467.7,656.6 L468.7,656.5 L469.7,656.5 L470.7,656.4 L471.7,656.4 L472.7,656.3 L473.7,656.3 L474.7,656.2 L475.7,656.1 L476.7,656.0 L477.7,655.9 L478.7,655.8 L479.7,655.7 L480.7,655.6 L481.7,655.4 L482.7,655.2 L483.7,655.0 L484.7,654.8 L485.7,654.5 L486.7,654.2 L487.7,653.9 L488.7,653.6 L489.7,653.2 L490.7,652.7 L491.7,652.2 L492.7,651.6 L493.7,651.0 L494.7,650.4 L495.7,649.6 L496.7,648.8 L497.7,647.9 L498.7,646.9 L499.7,645.8 L500.7,644.6 L501.7,643.4 L502.7,642.0 L503.8,640.5 L504.8,638.9 L505.8,637.1 L506.8,635.3 L507.8,633.3 L508.8,631.2 L509.8,629.0 L510.8,626.6 L511.8,624.1 L512.8,621.4 L513.8,618.7 L514.8,615.8 L515.8,612.8 L516.8,609.6 L517.8,606.4 L518.8,603.1 L519.8,599.6 L520.8,596.1 L521.8,592.5 L522.8,588.9 L523.8,585.2 L524.8,581.4 L525.8,577.7 L526.8,574.0 L527.8,570.3 L528.8,566.6 L529.8,563.0 L530.8,559.5 L531.8,556.1 L532.8,552.8 L533.8,549.7 L534.8,546.8 L535.8,544.0 L536.8,541.4 L537.8,539.1 L538.8,537.1 L539.8,535.3 L540.8,533.7 L541.8,532.5 L542.8,531.6 L543.8,531.0 L544.8,530.7 L545.8,530.7 L546.8,531.1 L547.8,531.7 L548.8,532.7 L549.8,534.0 L550.8,535.6 L551.8,537.5 L552.8,539.6 L553.8,542.0 L554.8,544.6 L555.8,547.4 L556.8,550.4 L557.8,553.6 L558.8,556.9 L559.8,560.4 L560.8,563.9 L561.8,567.6 L562.8,571.3 L563.8,575.0 L564.8,578.8 L565.8,582.5 L566.8,586.3 L567.8,590.0 L568.8,593.7 L569.8,597.3 L570.8,600.8 L571.8,604.3 L572.9,607.7 L573.9,610.9 L574.9,614.1 L575.9,617.1 L576.9,620.0 L577.9,622.8 L578.9,625.5 L579.9,628.0 L580.9,630.4 L581.9,632.6 L582.9,634.8 L583.9,636.8 L584.9,638.6 L585.9,640.4 L586.9,642.0 L587.9,643.5 L588.9,644.9 L589.9,646.2 L590.9,647.4 L591.9,648.5 L592.9,649.5 L593.9,650.4 L593.9,659.5 L592.9,659.5 L591.9,659.5 L590.9,659.4 L589.9,659.4 L588.9,659.4 L587.9,659.4 L586.9,659.4 L585.9,659.4 L584.9,659.4 L583.9,659.3 L582.9,659.3 L581.9,659.3 L580.9,659.3 L579.9,659.3 L578.9,659.3 L577.9,659.3 L576.9,659.3 L575.9,659.2 L574.9,659.2 L573.9,659.2 L572.9,659.2 L571.8,659.2 L570.8,659.2 L569.8,659.2 L568.8,659.1 L567.8,659.1 L566.8,659.1 L565.8,659.1 L564.8,659.1 L563.8,659.1 L562.8,659.1 L561.8,659.0 L560.8,659.0 L559.8,659.0 L558.8,659.0 L557.8,659.0 L556.8,659.0 L555.8,659.0 L554.8,658.9 L553.8,658.9 L552.8,658.9 L551.8,658.9 L550.8,658.9 L549.8,658.9 L548.8,658.9 L547.8,658.8 L546.8,658.8 L545.8,658.8 L544.8,658.8 L543.8,658.8 L542.8,658.8 L541.8,658.8 L540.8,658.7 L539.8,658.7 L538.8,658.7 L537.8,658.7 L536.8,658.7 L535.8,658.6 L534.8,658.6 L533.8,658.6 L532.8,658.6 L531.8,658.6 L530.8,658.6 L529.8,658.5 L528.8,658.5 L527.8,658.5 L526.8,658.5 L525.8,658.5 L524.8,658.4 L523.8,658.4 L522.8,658.4 L521.8,658.4 L520.8,658.4 L519.8,658.3 L518.8,658.3 L517.8,658.3 L516.8,658.3 L515.8,658.3 L514.8,658.2 L513.8,658.2 L512.8,658.2 L511.8,658.2 L510.8,658.2 L509.8,658.1 L508.8,658.1 L507.8,658.1 L506.8,658.1 L505.8,658.1 L504.8,658.1 L503.8,658.0 L502.7,658.0 L501.7,658.0 L500.7,658.0 L499.7,658.0 L498.7,658.0 L497.7,658.0 L496.7,658.0 L495.7,657.9 L494.7,657.9 L493.7,657.9 L492.7,657.9 L491.7,657.9 L490.7,657.9 L489.7,657.9 L488.7,657.9 L487.7,657.9 L486.7,657.9 L485.7,657.8 L484.7,657.8 L483.7,657.8 L482.7,657.8 L481.7,657.8 L480.7,657.8 L479.7,657.8 L478.7,657.8 L477.7,657.8 L476.7,657.8 L475.7,657.8 L474.7,657.8 L473.7,657.7 L472.7,657.7 L471.7,657.7 L470.7,657.7 L469.7,657.7 L468.7,657.7 L467.7,657.7 L466.7,657.7 L465.7,657.7 L464.7,657.7 L463.7,657.7 L462.7,657.7 L461.7,657.7 L460.7,657.7 L459.7,657.6 L458.7,657.6 L457.7,657.6 L456.7,657.6 L455.7,657.6 L454.7,657.6 L453.7,657.6 L452.7,657.6 L451.7,657.6 L450.7,657.6 L449.7,657.6 L448.7,657.6 L447.7,657.6 L446.7,657.6 L445.7,657.6 L444.7,657.5 L443.7,657.5 L442.7,657.5 L441.7,657.5 L440.7,657.5 L439.7,657.5 L438.7,657.5 L437.7,657.5 L436.7,657.5 L435.7,657.5 L434.7,657.5 L433.6,657.5 L432.6,657.5 L431.6,657.5 L430.6,657.5 L429.6,657.5 L428.6,657.5 L427.6,657.5 L426.6,657.5 L425.6,657.5 L424.6,657.4 L423.6,657.4 L422.6,657.4 L421.6,657.4 L420.6,657.4 L419.6,657.4 L418.6,657.4 L417.6,657.4 L416.6,657.4 L415.6,657.4 L414.6,657.4 L413.6,657.4 L412.6,657.4 L411.6,657.4 L410.6,657.4 L409.6,657.4Z" fill="url(#gy)" fill-opacity="1.0" stroke="none"/>
<path d="M409.6,657.0 L410.6,657.0 L411.6,657.0 L412.6,657.0 L413.6,657.0 L414.6,657.0 L415.6,657.0 L416.6,657.0 L417.6,657.0 L418.6,657.0 L419.6,657.0 L420.6,657.0 L421.6,657.0 L422.6,657.0 L423.6,657.0 L424.6,657.0 L425.6,657.0 L426.6,657.0 L427.6,657.0 L428.6,657.0 L429.6,657.0 L430.6,657.0 L431.6,657.0 L432.6,657.0 L433.6,656.9 L434.7,656.9 L435.7,656.9 L436.7,656.9 L437.7,656.9 L438.7,656.9 L439.7,656.9 L440.7,656.9 L441.7,656.9 L442.7,656.9 L443.7,656.9 L444.7,656.9 L445.7,656.9 L446.7,656.9 L447.7,656.9 L448.7,656.9 L449.7,656.9 L450.7,656.8 L451.7,656.8 L452.7,656.8 L453.7,656.8 L454.7,656.8 L455.7,656.8 L456.7,656.8 L457.7,656.8 L458.7,656.8 L459.7,656.7 L460.7,656.7 L461.7,656.7 L462.7,656.7 L463.7,656.7 L464.7,656.6 L465.7,656.6 L466.7,656.6 L467.7,656.6 L468.7,656.5 L469.7,656.5 L470.7,656.4 L471.7,656.4 L472.7,656.3 L473.7,656.3 L474.7,656.2 L475.7,656.1 L476.7,656.0 L477.7,655.9 L478.7,655.8 L479.7,655.7 L480.7,655.6 L481.7,655.4 L482.7,655.2 L483.7,655.0 L484.7,654.8 L485.7,654.5 L486.7,654.2 L487.7,653.9 L488.7,653.6 L489.7,653.2 L490.7,652.7 L491.7,652.2 L492.7,651.6 L493.7,651.0 L494.7,650.4 L495.7,649.6 L496.7,648.8 L497.7,647.9 L498.7,646.9 L499.7,645.8 L500.7,644.6 L501.7,643.4 L502.7,642.0 L503.8,640.5 L504.8,638.9 L505.8,637.1 L506.8,635.3 L507.8,633.3 L508.8,631.2 L509.8,629.0 L510.8,626.6 L511.8,624.1 L512.8,621.4 L513.8,618.7 L514.8,615.8 L515.8,612.8 L516.8,609.6 L517.8,606.4 L518.8,603.1 L519.8,599.6 L520.8,596.1 L521.8,592.5 L522.8,588.9 L523.8,585.2 L524.8,581.4 L525.8,577.7 L526.8,574.0 L527.8,570.3 L528.8,566.6 L529.8,563.0 L530.8,559.5 L531.8,556.1 L532.8,552.8 L533.8,549.7 L534.8,546.8 L535.8,544.0 L536.8,541.4 L537.8,539.1 L538.8,537.1 L539.8,535.3 L540.8,533.7 L541.8,532.5 L542.8,531.6 L543.8,531.0 L544.8,530.7 L545.8,530.7 L546.8,531.1 L547.8,531.7 L548.8,532.7 L549.8,534.0 L550.8,535.6 L551.8,537.5 L552.8,539.6 L553.8,542.0 L554.8,544.6 L555.8,547.4 L556.8,550.4 L557.8,553.6 L558.8,556.9 L559.8,560.4 L560.8,563.9 L561.8,567.6 L562.8,571.3 L563.8,575.0 L564.8,578.8 L565.8,582.5 L566.8,586.3 L567.8,590.0 L568.8,593.7 L569.8,597.3 L570.8,600.8 L571.8,604.3 L572.9,607.7 L573.9,610.9 L574.9,614.1 L575.9,617.1 L576.9,620.0 L577.9,622.8 L578.9,625.5 L579.9,628.0 L580.9,630.4 L581.9,632.6 L582.9,634.8 L583.9,636.8 L584.9,638.6 L585.9,640.4 L586.9,642.0 L587.9,643.5 L588.9,644.9 L589.9,646.2 L590.9,647.4 L591.9,648.5 L592.9,649.5 L593.9,650.4" stroke="#f8e04c" stroke-width="1.2" fill="none" stroke-linejoin="round"/>
<path d="M507.8,657.7 L508.8,657.7 L509.8,657.7 L510.8,657.7 L511.8,657.7 L512.8,657.7 L513.8,657.7 L514.8,657.7 L515.8,657.7 L516.8,657.7 L517.8,657.6 L518.8,657.6 L519.8,657.6 L520.8,657.6 L521.8,657.6 L522.8,657.5 L523.8,657.5 L524.8,657.5 L525.8,657.5 L526.8,657.4 L527.8,657.4 L528.8,657.3 L529.8,657.3 L530.8,657.2 L531.8,657.2 L532.8,657.1 L533.8,657.1 L534.8,657.0 L535.8,656.9 L536.8,656.8 L537.8,656.8 L538.8,656.7 L539.8,656.6 L540.8,656.5 L541.8,656.4 L542.8,656.3 L543.8,656.2 L544.8,656.1 L545.8,656.0 L546.8,655.8 L547.8,655.7 L548.8,655.6 L549.8,655.5 L550.8,655.3 L551.8,655.2 L552.8,655.0 L553.8,654.9 L554.8,654.7 L555.8,654.6 L556.8,654.4 L557.8,654.3 L558.8,654.1 L559.8,654.0 L560.8,653.8 L561.8,653.6 L562.8,653.5 L563.8,653.3 L564.8,653.2 L565.8,653.0 L566.8,652.8 L567.8,652.7 L568.8,652.5 L569.8,652.4 L570.8,652.2 L571.8,652.1 L572.9,652.0 L573.9,651.8 L574.9,651.7 L575.9,651.6 L576.9,651.5 L577.9,651.4 L578.9,651.3 L579.9,651.2 L580.9,651.1 L581.9,651.1 L582.9,651.0 L583.9,651.0 L584.9,650.9 L585.9,650.9 L586.9,650.9 L587.9,650.9 L588.9,650.9 L589.9,651.0 L590.9,651.0 L591.9,651.1 L592.9,651.1 L593.9,651.2 L594.9,651.3 L595.9,651.4 L596.9,651.5 L597.9,651.6 L598.9,651.7 L599.9,651.8 L600.9,652.0 L601.9,652.1 L602.9,652.3 L603.9,652.4 L604.9,652.6 L605.9,652.8 L606.9,652.9 L607.9,653.1 L608.9,653.3 L609.9,653.5 L610.9,653.7 L611.9,653.8 L612.9,654.0 L613.9,654.2 L614.9,654.4 L615.9,654.6 L616.9,654.8 L617.9,655.0 L618.9,655.1 L619.9,655.3 L620.9,655.5 L621.9,655.7 L622.9,655.9 L623.9,656.0 L624.9,656.2 L625.9,656.4 L626.9,656.5 L627.9,656.7 L628.9,656.8 L629.9,657.0 L630.9,657.1 L631.9,657.3 L632.9,657.4 L633.9,657.5 L634.9,657.7 L635.9,657.8 L636.9,657.9 L637.9,658.0 L638.9,658.1 L639.9,658.3 L640.9,658.4 L642.0,658.5 L643.0,658.6 L644.0,658.6 L645.0,658.7 L646.0,658.8 L647.0,658.9 L648.0,659.0 L649.0,659.0 L650.0,659.1 L651.0,659.2 L652.0,659.2 L653.0,659.3 L654.0,659.4 L655.0,659.4 L656.0,659.5 L657.0,659.5 L658.0,659.6 L659.0,659.6 L660.0,659.6 L661.0,659.7 L662.0,659.7 L663.0,659.8 L664.0,659.8 L665.0,659.8 L666.0,659.9 L667.0,659.9 L668.0,659.9 L668.0,660.3 L667.0,660.3 L666.0,660.3 L665.0,660.3 L664.0,660.3 L663.0,660.3 L662.0,660.3 L661.0,660.3 L660.0,660.2 L659.0,660.2 L658.0,660.2 L657.0,660.2 L656.0,660.2 L655.0,660.2 L654.0,660.2 L653.0,660.2 L652.0,660.2 L651.0,660.2 L650.0,660.1 L649.0,660.1 L648.0,660.1 L647.0,660.1 L646.0,660.1 L645.0,660.1 L644.0,660.1 L643.0,660.1 L642.0,660.1 L640.9,660.1 L639.9,660.0 L638.9,660.0 L637.9,660.0 L636.9,660.0 L635.9,660.0 L634.9,660.0 L633.9,660.0 L632.9,660.0 L631.9,659.9 L630.9,659.9 L629.9,659.9 L628.9,659.9 L627.9,659.9 L626.9,659.9 L625.9,659.9 L624.9,659.9 L623.9,659.9 L622.9,659.8 L621.9,659.8 L620.9,659.8 L619.9,659.8 L618.9,659.8 L617.9,659.8 L616.9,659.8 L615.9,659.8 L614.9,659.7 L613.9,659.7 L612.9,659.7 L611.9,659.7 L610.9,659.7 L609.9,659.7 L608.9,659.7 L607.9,659.7 L606.9,659.6 L605.9,659.6 L604.9,659.6 L603.9,659.6 L602.9,659.6 L601.9,659.6 L600.9,659.6 L599.9,659.6 L598.9,659.5 L597.9,659.5 L596.9,659.5 L595.9,659.5 L594.9,659.5 L593.9,659.5 L592.9,659.5 L591.9,659.5 L590.9,659.4 L589.9,659.4 L588.9,659.4 L587.9,659.4 L586.9,659.4 L585.9,659.4 L584.9,659.4 L583.9,659.3 L582.9,659.3 L581.9,659.3 L580.9,659.3 L579.9,659.3 L578.9,659.3 L577.9,659.3 L576.9,659.3 L575.9,659.2 L574.9,659.2 L573.9,659.2 L572.9,659.2 L571.8,659.2 L570.8,659.2 L569.8,659.2 L568.8,659.1 L567.8,659.1 L566.8,659.1 L565.8,659.1 L564.8,659.1 L563.8,659.1 L562.8,659.1 L561.8,659.0 L560.8,659.0 L559.8,659.0 L558.8,659.0 L557.8,659.0 L556.8,659.0 L555.8,659.0 L554.8,658.9 L553.8,658.9 L552.8,658.9 L551.8,658.9 L550.8,658.9 L549.8,658.9 L548.8,658.9 L547.8,658.8 L546.8,658.8 L545.8,658.8 L544.8,658.8 L543.8,658.8 L542.8,658.8 L541.8,658.8 L540.8,658.7 L539.8,658.7 L538.8,658.7 L537.8,658.7 L536.8,658.7 L535.8,658.6 L534.8,658.6 L533.8,658.6 L532.8,658.6 L531.8,658.6 L530.8,658.6 L529.8,658.5 L528.8,658.5 L527.8,658.5 L526.8,658.5 L525.8,658.5 L524.8,658.4 L523.8,658.4 L522.8,658.4 L521.8,658.4 L520.8,658.4 L519.8,658.3 L518.8,658.3 L517.8,658.3 L516.8,658.3 L515.8,658.3 L514.8,658.2 L513.8,658.2 L512.8,658.2 L511.8,658.2 L510.8,658.2 L509.8,658.1 L508.8,658.1 L507.8,658.1Z" fill="url(#gg)" fill-opacity="1.0" stroke="none"/>
<path d="M507.8,657.7 L508.8,657.7 L509.8,657.7 L510.8,657.7 L511.8,657.7 L512.8,657.7 L513.8,657.7 L514.8,657.7 L515.8,657.7 L516.8,657.7 L517.8,657.6 L518.8,657.6 L519.8,657.6 L520.8,657.6 L521.8,657.6 L522.8,657.5 L523.8,657.5 L524.8,657.5 L525.8,657.5 L526.8,657.4 L527.8,657.4 L528.8,657.3 L529.8,657.3 L530.8,657.2 L531.8,657.2 L532.8,657.1 L533.8,657.1 L534.8,657.0 L535.8,656.9 L536.8,656.8 L537.8,656.8 L538.8,656.7 L539.8,656.6 L540.8,656.5 L541.8,656.4 L542.8,656.3 L543.8,656.2 L544.8,656.1 L545.8,656.0 L546.8,655.8 L547.8,655.7 L548.8,655.6 L549.8,655.5 L550.8,655.3 L551.8,655.2 L552.8,655.0 L553.8,654.9 L554.8,654.7 L555.8,654.6 L556.8,654.4 L557.8,654.3 L558.8,654.1 L559.8,654.0 L560.8,653.8 L561.8,653.6 L562.8,653.5 L563.8,653.3 L564.8,653.2 L565.8,653.0 L566.8,652.8 L567.8,652.7 L568.8,652.5 L569.8,652.4 L570.8,652.2 L571.8,652.1 L572.9,652.0 L573.9,651.8 L574.9,651.7 L575.9,651.6 L576.9,651.5 L577.9,651.4 L578.9,651.3 L579.9,651.2 L580.9,651.1 L581.9,651.1 L582.9,651.0 L583.9,651.0 L584.9,650.9 L585.9,650.9 L586.9,650.9 L587.9,650.9 L588.9,650.9 L589.9,651.0 L590.9,651.0 L591.9,651.1 L592.9,651.1 L593.9,651.2 L594.9,651.3 L595.9,651.4 L596.9,651.5 L597.9,651.6 L598.9,651.7 L599.9,651.8 L600.9,652.0 L601.9,652.1 L602.9,652.3 L603.9,652.4 L604.9,652.6 L605.9,652.8 L606.9,652.9 L607.9,653.1 L608.9,653.3 L609.9,653.5 L610.9,653.7 L611.9,653.8 L612.9,654.0 L613.9,654.2 L614.9,654.4 L615.9,654.6 L616.9,654.8 L617.9,655.0 L618.9,655.1 L619.9,655.3 L620.9,655.5 L621.9,655.7 L622.9,655.9 L623.9,656.0 L624.9,656.2 L625.9,656.4 L626.9,656.5 L627.9,656.7 L628.9,656.8 L629.9,657.0 L630.9,657.1 L631.9,657.3 L632.9,657.4 L633.9,657.5 L634.9,657.7 L635.9,657.8 L636.9,657.9 L637.9,658.0 L638.9,658.1 L639.9,658.3 L640.9,658.4 L642.0,658.5 L643.0,658.6 L644.0,658.6 L645.0,658.7 L646.0,658.8 L647.0,658.9 L648.0,659.0 L649.0,659.0 L650.0,659.1 L651.0,659.2 L652.0,659.2 L653.0,659.3 L654.0,659.4 L655.0,659.4 L656.0,659.5 L657.0,659.5 L658.0,659.6 L659.0,659.6 L660.0,659.6 L661.0,659.7 L662.0,659.7 L663.0,659.8 L664.0,659.8 L665.0,659.8 L666.0,659.9 L667.0,659.9 L668.0,659.9" stroke="#3db24e" stroke-width="1.3" fill="none" stroke-linejoin="round"/>
<path d="M438.7,657.1 L439.7,657.0 L440.7,657.0 L441.7,657.0 L442.7,656.9 L443.7,656.9 L444.7,656.8 L445.7,656.8 L446.7,656.7 L447.7,656.7 L448.7,656.6 L449.7,656.5 L450.7,656.5 L451.7,656.4 L452.7,656.3 L453.7,656.2 L454.7,656.1 L455.7,656.0 L456.7,655.9 L457.7,655.8 L458.7,655.7 L459.7,655.6 L460.7,655.5 L461.7,655.4 L462.7,655.2 L463.7,655.1 L464.7,654.9 L465.7,654.8 L466.7,654.6 L467.7,654.4 L468.7,654.3 L469.7,654.1 L470.7,653.9 L471.7,653.7 L472.7,653.5 L473.7,653.3 L474.7,653.1 L475.7,652.9 L476.7,652.6 L477.7,652.4 L478.7,652.2 L479.7,651.9 L480.7,651.7 L481.7,651.4 L482.7,651.2 L483.7,650.9 L484.7,650.7 L485.7,650.4 L486.7,650.1 L487.7,649.9 L488.7,649.6 L489.7,649.3 L490.7,649.1 L491.7,648.8 L492.7,648.5 L493.7,648.2 L494.7,648.0 L495.7,647.7 L496.7,647.4 L497.7,647.2 L498.7,646.9 L499.7,646.7 L500.7,646.5 L501.7,646.2 L502.7,646.0 L503.8,645.8 L504.8,645.6 L505.8,645.4 L506.8,645.2 L507.8,645.0 L508.8,644.8 L509.8,644.7 L510.8,644.5 L511.8,644.4 L512.8,644.3 L513.8,644.2 L514.8,644.1 L515.8,644.0 L516.8,643.9 L517.8,643.9 L518.8,643.8 L519.8,643.8 L520.8,643.8 L521.8,643.8 L522.8,643.8 L523.8,643.9 L524.8,643.9 L525.8,644.0 L526.8,644.1 L527.8,644.1 L528.8,644.3 L529.8,644.4 L530.8,644.5 L531.8,644.7 L532.8,644.8 L533.8,645.0 L534.8,645.2 L535.8,645.4 L536.8,645.6 L537.8,645.8 L538.8,646.0 L539.8,646.2 L540.8,646.5 L541.8,646.7 L542.8,647.0 L543.8,647.2 L544.8,647.5 L545.8,647.8 L546.8,648.1 L547.8,648.3 L548.8,648.6 L549.8,648.9 L550.8,649.2 L551.8,649.5 L552.8,649.8 L553.8,650.1 L554.8,650.4 L555.8,650.7 L556.8,651.0 L557.8,651.3 L558.8,651.6 L559.8,651.8 L560.8,652.1 L561.8,652.4 L562.8,652.7 L563.8,653.0 L564.8,653.2 L565.8,653.5 L566.8,653.7 L567.8,654.0 L568.8,654.2 L569.8,654.5 L570.8,654.7 L571.8,654.9 L572.9,655.2 L573.9,655.4 L574.9,655.6 L575.9,655.8 L576.9,656.0 L577.9,656.2 L578.9,656.4 L579.9,656.5 L580.9,656.7 L581.9,656.9 L582.9,657.0 L583.9,657.2 L584.9,657.3 L585.9,657.5 L586.9,657.6 L587.9,657.7 L588.9,657.8 L589.9,658.0 L590.9,658.1 L591.9,658.2 L592.9,658.3 L593.9,658.4 L594.9,658.5 L595.9,658.6 L596.9,658.6 L597.9,658.7 L598.9,658.8 L599.9,658.9 L600.9,658.9 L601.9,659.0 L602.9,659.0 L603.9,659.1 L604.9,659.2 L605.9,659.2 L605.9,659.6 L604.9,659.6 L603.9,659.6 L602.9,659.6 L601.9,659.6 L600.9,659.6 L599.9,659.6 L598.9,659.5 L597.9,659.5 L596.9,659.5 L595.9,659.5 L594.9,659.5 L593.9,659.5 L592.9,659.5 L591.9,659.5 L590.9,659.4 L589.9,659.4 L588.9,659.4 L587.9,659.4 L586.9,659.4 L585.9,659.4 L584.9,659.4 L583.9,659.3 L582.9,659.3 L581.9,659.3 L580.9,659.3 L579.9,659.3 L578.9,659.3 L577.9,659.3 L576.9,659.3 L575.9,659.2 L574.9,659.2 L573.9,659.2 L572.9,659.2 L571.8,659.2 L570.8,659.2 L569.8,659.2 L568.8,659.1 L567.8,659.1 L566.8,659.1 L565.8,659.1 L564.8,659.1 L563.8,659.1 L562.8,659.1 L561.8,659.0 L560.8,659.0 L559.8,659.0 L558.8,659.0 L557.8,659.0 L556.8,659.0 L555.8,659.0 L554.8,658.9 L553.8,658.9 L552.8,658.9 L551.8,658.9 L550.8,658.9 L549.8,658.9 L548.8,658.9 L547.8,658.8 L546.8,658.8 L545.8,658.8 L544.8,658.8 L543.8,658.8 L542.8,658.8 L541.8,658.8 L540.8,658.7 L539.8,658.7 L538.8,658.7 L537.8,658.7 L536.8,658.7 L535.8,658.6 L534.8,658.6 L533.8,658.6 L532.8,658.6 L531.8,658.6 L530.8,658.6 L529.8,658.5 L528.8,658.5 L527.8,658.5 L526.8,658.5 L525.8,658.5 L524.8,658.4 L523.8,658.4 L522.8,658.4 L521.8,658.4 L520.8,658.4 L519.8,658.3 L518.8,658.3 L517.8,658.3 L516.8,658.3 L515.8,658.3 L514.8,658.2 L513.8,658.2 L512.8,658.2 L511.8,658.2 L510.8,658.2 L509.8,658.1 L508.8,658.1 L507.8,658.1 L506.8,658.1 L505.8,658.1 L504.8,658.1 L503.8,658.0 L502.7,658.0 L501.7,658.0 L500.7,658.0 L499.7,658.0 L498.7,658.0 L497.7,658.0 L496.7,658.0 L495.7,657.9 L494.7,657.9 L493.7,657.9 L492.7,657.9 L491.7,657.9 L490.7,657.9 L489.7,657.9 L488.7,657.9 L487.7,657.9 L486.7,657.9 L485.7,657.8 L484.7,657.8 L483.7,657.8 L482.7,657.8 L481.7,657.8 L480.7,657.8 L479.7,657.8 L478.7,657.8 L477.7,657.8 L476.7,657.8 L475.7,657.8 L474.7,657.8 L473.7,657.7 L472.7,657.7 L471.7,657.7 L470.7,657.7 L469.7,657.7 L468.7,657.7 L467.7,657.7 L466.7,657.7 L465.7,657.7 L464.7,657.7 L463.7,657.7 L462.7,657.7 L461.7,657.7 L460.7,657.7 L459.7,657.6 L458.7,657.6 L457.7,657.6 L456.7,657.6 L455.7,657.6 L454.7,657.6 L453.7,657.6 L452.7,657.6 L451.7,657.6 L450.7,657.6 L449.7,657.6 L448.7,657.6 L447.7,657.6 L446.7,657.6 L445.7,657.6 L444.7,657.5 L443.7,657.5 L442.7,657.5 L441.7,657.5 L440.7,657.5 L439.7,657.5 L438.7,657.5Z" fill="url(#gb)" fill-opacity="1.0" stroke="none"/>
<path d="M438.7,657.1 L439.7,657.0 L440.7,657.0 L441.7,657.0 L442.7,656.9 L443.7,656.9 L444.7,656.8 L445.7,656.8 L446.7,656.7 L447.7,656.7 L448.7,656.6 L449.7,656.5 L450.7,656.5 L451.7,656.4 L452.7,656.3 L453.7,656.2 L454.7,656.1 L455.7,656.0 L456.7,655.9 L457.7,655.8 L458.7,655.7 L459.7,655.6 L460.7,655.5 L461.7,655.4 L462.7,655.2 L463.7,655.1 L464.7,654.9 L465.7,654.8 L466.7,654.6 L467.7,654.4 L468.7,654.3 L469.7,654.1 L470.7,653.9 L471.7,653.7 L472.7,653.5 L473.7,653.3 L474.7,653.1 L475.7,652.9 L476.7,652.6 L477.7,652.4 L478.7,652.2 L479.7,651.9 L480.7,651.7 L481.7,651.4 L482.7,651.2 L483.7,650.9 L484.7,650.7 L485.7,650.4 L486.7,650.1 L487.7,649.9 L488.7,649.6 L489.7,649.3 L490.7,649.1 L491.7,648.8 L492.7,648.5 L493.7,648.2 L494.7,648.0 L495.7,647.7 L496.7,647.4 L497.7,647.2 L498.7,646.9 L499.7,646.7 L500.7,646.5 L501.7,646.2 L502.7,646.0 L503.8,645.8 L504.8,645.6 L505.8,645.4 L506.8,645.2 L507.8,645.0 L508.8,644.8 L509.8,644.7 L510.8,644.5 L511.8,644.4 L512.8,644.3 L513.8,644.2 L514.8,644.1 L515.8,644.0 L516.8,643.9 L517.8,643.9 L518.8,643.8 L519.8,643.8 L520.8,643.8 L521.8,643.8 L522.8,643.8 L523.8,643.9 L524.8,643.9 L525.8,644.0 L526.8,644.1 L527.8,644.1 L528.8,644.3 L529.8,644.4 L530.8,644.5 L531.8,644.7 L532.8,644.8 L533.8,645.0 L534.8,645.2 L535.8,645.4 L536.8,645.6 L537.8,645.8 L538.8,646.0 L539.8,646.2 L540.8,646.5 L541.8,646.7 L542.8,647.0 L543.8,647.2 L544.8,647.5 L545.8,647.8 L546.8,648.1 L547.8,648.3 L548.8,648.6 L549.8,648.9 L550.8,649.2 L551.8,649.5 L552.8,649.8 L553.8,650.1 L554.8,650.4 L555.8,650.7 L556.8,651.0 L557.8,651.3 L558.8,651.6 L559.8,651.8 L560.8,652.1 L561.8,652.4 L562.8,652.7 L563.8,653.0 L564.8,653.2 L565.8,653.5 L566.8,653.7 L567.8,654.0 L568.8,654.2 L569.8,654.5 L570.8,654.7 L571.8,654.9 L572.9,655.2 L573.9,655.4 L574.9,655.6 L575.9,655.8 L576.9,656.0 L577.9,656.2 L578.9,656.4 L579.9,656.5 L580.9,656.7 L581.9,656.9 L582.9,657.0 L583.9,657.2 L584.9,657.3 L585.9,657.5 L586.9,657.6 L587.9,657.7 L588.9,657.8 L589.9,658.0 L590.9,658.1 L591.9,658.2 L592.9,658.3 L593.9,658.4 L594.9,658.5 L595.9,658.6 L596.9,658.6 L597.9,658.7 L598.9,658.8 L599.9,658.9 L600.9,658.9 L601.9,659.0 L602.9,659.0 L603.9,659.1 L604.9,659.2 L605.9,659.2" stroke="#1fb3eb" stroke-width="1.4" fill="none" stroke-linejoin="round"/>
<path d="M399.6,657.4 L400.6,657.4 L401.6,657.4 L402.6,657.4 L403.6,657.4 L404.6,657.4 L405.6,657.4 L406.6,657.4 L407.6,657.4 L408.6,657.4 L409.6,657.4 L410.6,657.4 L411.6,657.4 L412.6,657.4 L413.6,657.4 L414.6,657.4 L415.6,657.4 L416.6,657.4 L417.6,657.4 L418.6,657.4 L419.6,657.4 L420.6,657.4 L421.6,657.4 L422.6,657.4 L423.6,657.4 L424.6,657.4 L425.6,657.5 L426.6,657.5 L427.6,657.5 L428.6,657.5 L429.6,657.5 L430.6,657.5 L431.6,657.5 L432.6,657.5 L433.6,657.5 L434.7,657.5 L435.7,657.5 L436.7,657.5 L437.7,657.5 L438.7,657.5 L439.7,657.5 L440.7,657.5 L441.7,657.5 L442.7,657.5 L443.7,657.5 L444.7,657.5 L445.7,657.6 L446.7,657.6 L447.7,657.6 L448.7,657.6 L449.7,657.6 L450.7,657.6 L451.7,657.6 L452.7,657.6 L453.7,657.6 L454.7,657.6 L455.7,657.6 L456.7,657.6 L457.7,657.6 L458.7,657.6 L459.7,657.6 L460.7,657.7 L461.7,657.7 L462.7,657.7 L463.7,657.7 L464.7,657.7 L465.7,657.7 L466.7,657.7 L467.7,657.7 L468.7,657.7 L469.7,657.7 L470.7,657.7 L471.7,657.7 L472.7,657.7 L473.7,657.7 L474.7,657.8 L475.7,657.8 L476.7,657.8 L477.7,657.8 L478.7,657.8 L479.7,657.8 L480.7,657.8 L481.7,657.8 L482.7,657.8 L483.7,657.8 L484.7,657.8 L485.7,657.8 L486.7,657.9 L487.7,657.9 L488.7,657.9 L489.7,657.9 L490.7,657.9 L491.7,657.9 L492.7,657.9 L493.7,657.9 L494.7,657.9 L495.7,657.9 L496.7,658.0 L497.7,658.0 L498.7,658.0 L499.7,658.0 L500.7,658.0 L501.7,658.0 L502.7,658.0 L503.8,658.0 L504.8,658.1 L505.8,658.1 L506.8,658.1 L507.8,658.1 L508.8,658.1 L509.8,658.1 L510.8,658.2 L511.8,658.2 L512.8,658.2 L513.8,658.2 L514.8,658.2 L515.8,658.3 L516.8,658.3 L517.8,658.3 L518.8,658.3 L519.8,658.3 L520.8,658.4 L521.8,658.4 L522.8,658.4 L523.8,658.4 L524.8,658.4 L525.8,658.5 L526.8,658.5 L527.8,658.5 L528.8,658.5 L529.8,658.5 L530.8,658.6 L531.8,658.6 L532.8,658.6 L533.8,658.6 L534.8,658.6 L535.8,658.6 L536.8,658.7 L537.8,658.7 L538.8,658.7 L539.8,658.7 L540.8,658.7 L541.8,658.8 L542.8,658.8 L543.8,658.8 L544.8,658.8 L545.8,658.8 L546.8,658.8 L547.8,658.8 L548.8,658.9 L549.8,658.9 L550.8,658.9 L551.8,658.9 L552.8,658.9 L553.8,658.9 L554.8,658.9 L555.8,659.0 L556.8,659.0 L557.8,659.0 L558.8,659.0 L559.8,659.0 L560.8,659.0 L561.8,659.0 L562.8,659.1 L563.8,659.1 L564.8,659.1 L565.8,659.1 L566.8,659.1 L567.8,659.1 L568.8,659.1 L569.8,659.2 L570.8,659.2 L571.8,659.2 L572.9,659.2 L573.9,659.2 L574.9,659.2 L575.9,659.2 L576.9,659.3 L577.9,659.3 L578.9,659.3 L579.9,659.3 L580.9,659.3 L581.9,659.3 L582.9,659.3 L583.9,659.3 L584.9,659.4 L585.9,659.4 L586.9,659.4 L587.9,659.4 L588.9,659.4 L589.9,659.4 L590.9,659.4 L591.9,659.5 L592.9,659.5 L593.9,659.5 L594.9,659.5 L595.9,659.5 L596.9,659.5 L597.9,659.5 L598.9,659.5 L599.9,659.6 L600.9,659.6 L601.9,659.6 L602.9,659.6 L603.9,659.6 L604.9,659.6 L605.9,659.6 L606.9,659.6 L607.9,659.7 L608.9,659.7 L609.9,659.7 L610.9,659.7 L611.9,659.7 L612.9,659.7 L613.9,659.7 L614.9,659.7 L615.9,659.8 L616.9,659.8 L617.9,659.8 L618.9,659.8 L619.9,659.8 L620.9,659.8 L621.9,659.8 L622.9,659.8 L623.9,659.9 L624.9,659.9 L625.9,659.9 L626.9,659.9 L627.9,659.9 L628.9,659.9 L629.9,659.9 L630.9,659.9 L631.9,659.9 L632.9,660.0 L633.9,660.0 L634.9,660.0 L635.9,660.0 L636.9,660.0 L637.9,660.0 L638.9,660.0 L639.9,660.0 L640.9,660.1 L642.0,660.1 L643.0,660.1 L644.0,660.1 L645.0,660.1 L646.0,660.1 L647.0,660.1 L648.0,660.1 L649.0,660.1 L650.0,660.1 L651.0,660.2 L652.0,660.2 L653.0,660.2 L654.0,660.2 L655.0,660.2 L656.0,660.2 L657.0,660.2 L658.0,660.2 L659.0,660.2 L660.0,660.2 L661.0,660.3 L662.0,660.3 L663.0,660.3 L664.0,660.3 L665.0,660.3 L666.0,660.3 L667.0,660.3 L668.0,660.3 L669.0,660.3 L670.0,660.3 L671.0,660.4 L672.0,660.4 L673.0,660.4 L674.0,660.4 L675.0,660.4 L676.0,660.4" stroke="#d9405e" stroke-width="1.4" fill="none" stroke-linejoin="round"/>
<text transform="translate(404.60,509.60) scale(0.9259,1)" x="0" y="0" font-family="Liberation Serif" font-weight="bold" font-size="12.74" text-anchor="start" fill="#000" stroke="#000" stroke-width="0.2" >O 1s</text>
<text transform="translate(404.60,524.50) scale(0.9259,1)" x="0" y="0" font-family="Liberation Serif" font-weight="bold" font-size="12.74" text-anchor="start" fill="#000" stroke="#000" stroke-width="0.2" >Regenerated LCO</text>
<text transform="translate(602.30,539.80) scale(0.9259,1)" x="0" y="0" font-family="Liberation Serif" font-weight="bold" font-size="12.74" text-anchor="middle" fill="#f8da5c" stroke="#f8da5c" stroke-width="0.2" >Lattice oxygen</text>
<text transform="translate(602.30,554.70) scale(0.9259,1)" x="0" y="0" font-family="Liberation Serif" font-weight="bold" font-size="12.74" text-anchor="middle" fill="#f8da5c" stroke="#f8da5c" stroke-width="0.2" >(79.08%)</text>
<rect x="398.80" y="495.80" width="278.00" height="187.20" fill="none" stroke="#000" stroke-width="1.5"/>
<path d="M474.70,683.00v3.5M601.10,683.00v3.5" stroke="#000" stroke-width="1.2" fill="none"/>
<path d="M411.50,683.00v2M537.90,683.00v2M664.30,683.00v2" stroke="#000" stroke-width="1.2" fill="none"/>
<text transform="translate(474.70,698.30) scale(0.9259,1)" x="0" y="0" font-family="Liberation Serif" font-weight="bold" font-size="12.42" text-anchor="middle" fill="#000" stroke="#000" stroke-width="0.2" >535</text>
<text transform="translate(601.10,698.30) scale(0.9259,1)" x="0" y="0" font-family="Liberation Serif" font-weight="bold" font-size="12.42" text-anchor="middle" fill="#000" stroke="#000" stroke-width="0.2" >530</text>
<text transform="translate(537.80,711.50) scale(0.9259,1)" x="0" y="0" font-family="Liberation Serif" font-weight="bold" font-size="12.80" text-anchor="middle" fill="#000" stroke="#000" stroke-width="0.2" >Binding Energy</text>
<text transform="translate(390.20,588.40) rotate(-90) scale(1.0390,1)" x="0" y="0" font-family="Liberation Serif" font-weight="bold" font-size="11.50" text-anchor="middle" stroke="#000" stroke-width="0.2">Intensity (a.u.)</text>
<text transform="translate(357.60,512.50) scale(0.9259,1)" x="0" y="0" font-family="Liberation Serif" font-weight="bold" font-size="22.14" text-anchor="start" fill="#000" stroke="#000" stroke-width="0.2" >(f)</text></svg></body></html>
